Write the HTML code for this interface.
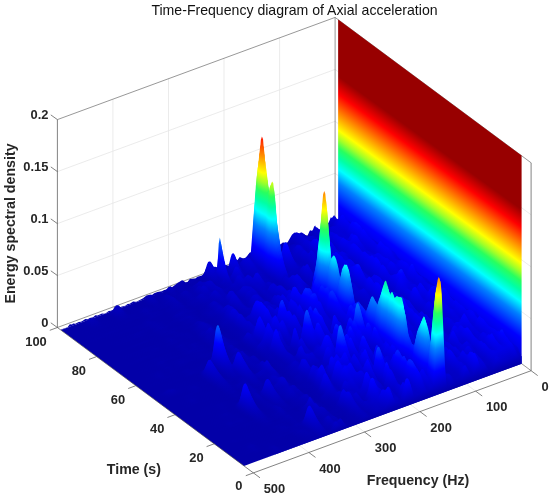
<!DOCTYPE html>
<html><head><meta charset="utf-8"><title>Time-Frequency diagram of Axial acceleration</title>
<style>html,body{margin:0;padding:0;background:#fff}body{width:550px;height:497px;overflow:hidden}svg{display:block}text{font-family:"Liberation Sans",Arial,Helvetica,sans-serif;fill:#262626}.tk{font-size:12.9px;font-weight:bold}.lb{font-size:14.2px;font-weight:bold}.ti{font-size:14.1px;fill:#111}</style></head><body>
<svg width="550" height="497" viewBox="0 0 550 497">
<defs>
<linearGradient id="j" gradientUnits="userSpaceOnUse" x1="0" y1="0" x2="0" y2="400.192">
<stop offset="0.0000" stop-color="#0300a8"/>
<stop offset="0.1154" stop-color="#0000ff"/>
<stop offset="0.2212" stop-color="#0080ff"/>
<stop offset="0.2885" stop-color="#00ffff"/>
<stop offset="0.3413" stop-color="#00ffa5"/>
<stop offset="0.3894" stop-color="#28ff5f"/>
<stop offset="0.4327" stop-color="#a0ff28"/>
<stop offset="0.4760" stop-color="#ffff00"/>
<stop offset="0.5625" stop-color="#ff8000"/>
<stop offset="0.6490" stop-color="#ff0000"/>
<stop offset="0.7356" stop-color="#980000"/>
<stop offset="1.0000" stop-color="#980000"/>
</linearGradient>
<linearGradient id="w" gradientUnits="userSpaceOnUse" x1="41" y1="0" x2="47.00" y2="199.92">
<stop offset="0.0000" stop-color="#0000cd"/>
<stop offset="0.1154" stop-color="#0000ff"/>
<stop offset="0.2212" stop-color="#0080ff"/>
<stop offset="0.2885" stop-color="#00ffff"/>
<stop offset="0.3413" stop-color="#00ffa5"/>
<stop offset="0.3894" stop-color="#28ff5f"/>
<stop offset="0.4327" stop-color="#a0ff28"/>
<stop offset="0.4760" stop-color="#ffff00"/>
<stop offset="0.5625" stop-color="#ff8000"/>
<stop offset="0.6490" stop-color="#ff0000"/>
<stop offset="0.7356" stop-color="#980000"/>
<stop offset="1.0000" stop-color="#980000"/>
</linearGradient>
</defs>
<rect width="550" height="497" fill="#fff"/>
<path d="M57.4 275.5 L335.1 173.3 L531.1 318.7 M57.4 223.6 L335.1 121.3 L531.1 266.8 M57.4 171.6 L335.1 69.4 L531.1 214.8 M279.6 37.8 L279.6 245.7 L475.6 391.1 M224.0 58.3 L224.0 266.2 L420.0 411.6 M168.5 78.7 L168.5 286.6 L364.5 432.0 M112.9 99.2 L112.9 307.1 L308.9 452.5 M491.9 133.7 L491.9 341.6 L214.2 443.8 M452.7 104.6 L452.7 312.5 L175.0 414.7 M413.5 75.6 L413.5 283.5 L135.8 385.7 M374.3 46.5 L374.3 254.4 L96.6 356.6" fill="none" stroke="#e6e6e6" stroke-width="0.8"/>
<path d="M57.4 119.6 L335.1 17.4 L531.1 162.8 M335.1 17.4 L335.1 225.3 M57.4 327.5 L335.1 225.3 L531.1 370.7" fill="none" stroke="#6b6b6b" stroke-width="0.7"/>
<path transform="matrix(-1.9600 -1.4540 0 -1.03950 531.40 370.70)" d="M5 0L98.6 0L98.6 200L5 200Z" fill="url(#w)"/>
<path d="M521.7 363.7 L338.6 227.9 L60.9 330.1 L244.0 465.9 Z" fill="#0300a8"/>
<g fill="url(#j)">
<path transform="matrix(-1.1108 0.4088 0 -0.51975 338.6 227.9)" d="M0 0v16h1l1 2l2 10l2-4l1 2l2-9l2 1l1-2l2 1l2-5l1-1h1l1-1l1 4l1 7l1-1l1-5l1-2l1 2h1l2-8h1l4 10l1 1l1-1l2 1l2 4h1l2-2l4-12h1l3 3h1l1-2h1l1 3h1l2-6l2 3h1l3-1l2-3l5 2l4-2l3 3l3 6l1-1l3-5l2 1l3 5l2-4h2l2-2l2 2l2-5l1 1l3 5l2-1l7-2l3 2l2-3h1l2 2l3-4l4 1l2-2l1 1l4 2l2-4l2 1l2 5l1 1l4-2l7-6l5 2l2-1l4 2h3l2-2l2 2l3 1l3-3l6-2l1 1l2 2l3-2l2 1l2-2l3 1h8h2l2 1l2-2h2l2 2l4-1l2 2l2-2l3 1l2-1l2 2l3-2h1l2 1l3-1l2 2l1-1l2 2l2-4h6v-1z"/>
<path transform="matrix(-1.1108 0.4088 0 -0.51975 339.8 228.8)" d="M0 0v16h1l1 2l2 9l2-1h1l2-7l2-1l1-2l2 1l2-4l1-1l2-1l1 4l1 5h1l1-4l1-1h1l1-1l2-6h1l4 9l3 2l3 5l2-2l3-9l2-5h1l3 3l2-1h1l1 3l1 1l2-5h6l2-3l5 2l4-2l1 1l2 2l3 9h1l1-2l2-7h1l4 4l2-3l2 1l2-1h2l2-4l4 5l2-2l4-1l5 6h1l1-2h1l3 4l4-10h3l3-2l4 2l2-3l2 1l3 4l7-1l3-3l2 2l2 1l4-4l4 1h3l2-1l2 2h3l3-2l6-2l3 3l3-2l2 1l2-1l15 1l2-2h1l3 1h4l2 1l2-2l3 2l2-1l2 1l3-2l3 2l3-2l2 2l1-1l2 1l2-2h6v-1z"/>
<path transform="matrix(-1.1108 0.4088 0 -0.51975 340.6 229.4)" d="M0 0v16l2 1l2 7l3 2l2-7l3-3l2 1l3-5h2l2 8h1l1-2l3-4l2-5h1l4 7l3 2l3 6h1l2-5l2-7l2-3h1l3 2l2-2l1 1l2 6l3-5l2-2h3l2-2h3l3 1l3-2l3 2l3 9l1 1l1-2l2-7l1-1l4 4l2-2l2 1l4-2l2-3l4 4l3-2h3l4 9l2 1l1-2l2 6l2 1l1-2l3-14l1-2h2l2-1l5 2l2-3l1 1l4 3h3l3 1h1l2-2h1l2 5h1h1l1-2l2-5l1-1l4 1l5-1l5 3l4-4l5-1l3 2l3-1l2 2l6-2h2l3 2h2h3l4-3l3 1l4-1l2 1l2-1l3 2l4 1l4-3l2 1l3-1l5 1l2-2l6 1v-1z"/>
<path transform="matrix(-1.1108 0.4088 0 -0.51975 341.4 230.0)" d="M0 0v15l2 1l3 7l2 1l2-6l1-1l2-2l2 1l3-4h1l1 1l2 7l1 1l2-2l3-8l1-1l2 1l3 4l3 2l3 7h1l1-1l3-12l2-2l4 1l3-1l2 4h1l3-4h4l4-3l4 2l4-1l2 1l1 2l2 6l1 1l1-1l2-7l1-1l4 3l2-1l2 1l6-5l3 4h1l2-3l2-1l2 2l4 10h2l2 11l1 3l1 1h1l1-4l3-19l1-4l4-2l4 1l4-1l4 2h3l3 1h2l1-1h1l2 4h1h1l3-6l1-1l4 1l6-1l3 4l1 1l1-1l4-5l4-1l9 2l5-2l2 2l3 5h2l2-1l3-5l2-1h10l4 4h3l5-4h10l2-1h6z"/>
<path transform="matrix(-1.1108 0.4088 0 -0.51975 342.2 230.5)" d="M0 0v15h2l1 1l2 6l1 1h1l3-7l1-1l3 1l4-4l1 1l3 7h1l1-1l2-6l1-1l1-1l7 4l1 2l3 7l1 1l1-2l3-13l1-1l5 1l3-1l3 3l3-4l4 1l4-3l4 1h4l2 1l1 1l2 6l1 1l1-1l2-6l1-1l4 3h4l5-5h1l3 4h1l3-5h1l2 3l4 10h2l2 9l1 3l1 1l1-1l1-3l3-18l1-4l4-1h4h4l10 2l4-1l2 4h1l2-2l2-4l7 1l3-1h1l3 9h1h1l3-9l1-1l4-1l10 1l4-1l2 3l3 10l1 1l1 1l1-1l1-1l3-10l2-3h7h3l4 7l2 1l2-1l3-6l2-1l17-1z"/>
<path transform="matrix(-1.1108 0.4088 0 -0.51975 342.9 231.1)" d="M0 0v17h2l1 1l2 6l1 1h1l3-8l1-1l3 1l4-3h1l3 6l1 1l1-1l3-7h2l6 3l1 2l3 7l1 1l1-2l3-13l1-1l5 1l3-2l3 2l3-2l4 2l4-4l8 1h2l1 2l2 5l1 1l1-1l2-5l1-1h1l3 3l2 1l3-2l3-4l1-1h1l3 5h1l3-5h1l2 2l4 9h2l2 8l1 3l1 1l1-1l1-3l3-16l1-4l4-1l4 1l4-1l5 2h5l4-1l2 3h1l2-2l2-3l3 1h4l3-1h1l3 7l1 1l1-1l3-7l1-1l4-1l9 1l5-1l2 3l3 8l2 2l2-2l3-8l2-3h10l4 6l2 1l2-1l3-5l2-1l17-1z"/>
<path transform="matrix(-1.1108 0.4088 0 -0.51975 343.7 231.7)" d="M0 0v18h2l1 1l2 7l1 1h1l3-8l1-2l3 2l4-4h1l3 6h1l1-1l3-5h3l5 2l1 2l3 7h1l1-2l3-12l1-1l4 1l4-2l3 1l3-1l4 2l4-4l1-1l9 2l1 1l2 5l1 1l1-1l2-5l1-1l1 1l3 5l2 1l2-2l4-7l1-1l2 3l2 5h1l3-6l1-1l2 1l4 9h2l1 2l1 4l1 3h1h1l1-3l3-15l1-3l5-1l3 1l4-1l5 2h5l4-2l2 3h1l2-1l2-3l3 2l7-2h1l2 5l1 1l1 1l1-1l4-7l4-1l9 1l5-1l2 2l3 8l2 1l2-2l3-7l2-2h9l2 1l3 4l2 1l2-1l3-4l2-1l17-1z"/>
<path transform="matrix(-1.1108 0.4088 0 -0.51975 344.5 232.3)" d="M0 0v20h2l1 1l2 8l1 2l1-1l3-10l1-1l3 1l4-4h1l3 5l1 1l1-1l3-5h3l2 2h3l2 3l2 4l1 1l1-2l3-11l1-1l3 1l5-3l3 1l3-1l4 2l4-4h7l3 1l1 1l2 5l1 1l1-1l3-5h1l1 1l2 5l2 2l2-2l4-9l1 2l2 5l1 1l1 1l2-2l2-6l1-1l2 2l4 7h2l1 2l1 4l1 2h1h1l1-3l3-13l1-2l5-1l3 1l4-1l10 1l4-2l3 2l4-3l2 3h1l8-3l2 4l2 1h1l4-6h13l5-1l2 2l3 6l2 1l2-1l4-7l2-1h9l4 4l2 1l2-1l3-3l2-1l17-1z"/>
<path transform="matrix(-1.1108 0.4088 0 -0.51975 345.3 232.9)" d="M0 0v21h2l1 2l2 8l1 1h1l3-10l1-2l3 1l4-4h1l3 5h1l1-1l2-4l2-1l5 3h3l3 5l1 1l1-1l3-10l4 1l6-4l2 1l3-1l4 1l4-3h6l1 3l1 17l3 84l1 14l1 3l1-3l1-14l3-84l1-17l1 1l3 7l1 1l2-2l3-9l1-2l3 15l1 3l1 1l1-1l1-3l3-15h1l1 1l4 6h2l1 1l1 4l1 2h1h1l1-2l3-12l1-2l2 1l3-2l4 2l4-2l10 1l3-2l3 2l3-2h1l2 3l1 1l4-4l4-1l2 3l2 1h1l4-5h13l5-1l2 2l3 5l2 1l2-1l4-7h2h9l4 4h2h2l3-4h2l17-1z"/>
<path transform="matrix(-1.1108 0.4088 0 -0.51975 346.1 233.4)" d="M0 0v23h2l1 2l2 7l1 2l1-1l3-10l1-1l3 1l3-4l1-1h1l3 5h1l3-6l1-1h1l5 5l3-1h1l2 4l1 1l1-2l3-9l4 1l5-3l6-1l4 2l4-4h6l1 5l1 20l3 101l1 16l1 4l1-4l1-16l3-101l1-20l1 1l3 9h1l2-1l3-12h1l3 25l1 5l1 1l1-1l1-6l3-25l1-2l5 7l1 10l1 3l1-3l1-7l1 2h2l1-2l3-10l3-1l2-1h1l2 2l2 1l5-3h9l3-2l3 1l3-1h1l2 4h1l4-4l4-1l3 3h1h1l4-4h8l10-1l2 1l3 4l2 1l2-1l4-5h2h9l4 3h2h2l5-3l17-1z"/>
<path transform="matrix(-1.1108 0.4088 0 -0.51975 346.9 234.0)" d="M0 0v24l2 1l1 2l2 8l1 1l1-1l3-10l1-2l2 2h1l3-5l1-1l1 1l3 4h1l1-2l2-4l1-2h1l5 6l4-1l3 4l1-2l3-8l4 1l6-4l5-1l4 3l5-4l5-1l1 7l1 24l3 117l1 19l1 4l1-4l1-19l3-117l1-24h1l2 8l1 1l1 1l2-3l3-11l1-1l3 22l1 5l1 1l1-1l1-5l3-23l1-1l2 2l2 2l1 11l1 21l1 7l1-7l1-21l1-6h2l1-1l3-9l6-1l2 4l2 1l6-6h8l3-2l3 1l3-1l3 4l1 1l4-4l4-2l4 3l5-4l8 1l10-2l2 1l3 3l2 1l2-1l4-4h2h9l6 3l7-3l17-1z"/>
<path transform="matrix(-1.1108 0.4088 0 -0.51975 347.6 234.6)" d="M0 0v26l2 1l1 2l2 9l1 1l1-1l3-12l1-1l2 1h1l3-5l1-1l1 1l3 4l2-2l2-5l1-1h1l4 5l1 1l4-2l3 4l1-1l3-8h5h2l3-3l4-1h1l3 3h1l5-5h5l1 8l1 26l3 127l1 21l1 5l1-5l1-21l3-127l1-26h1l2 8l2 1l1-1l1-2l3-12l1-1l3 20l1 4l1 1l1-1l1-5l3-20l1-1l4 4l2 61l1 11l1-11l1-36l1-21h2l1-2l3-8l3 1h2l1 1l2 5l1 1h1l3-6l3-3h4l4 1l4-3h3h2l3 4l1 1l4-4l4-2l3 2h2l3-3l8 1l11-2l2 1l3 3h2h2l4-4h2h9l6 2l7-2l17-1z"/>
<path transform="matrix(-1.1108 0.4088 0 -0.51975 348.4 235.2)" d="M0 0v28l2 1l3 13l1 1l1-1l3-14l1-2l3 1l3-5l1-1l4 4l2-2l2-4l1-1h1l4 5l1 1l4-3l3 4l1-1l3-8l6 1l4-4l4-1l1 1l3 4h1l1-1l4-5l5-1l1 9l1 28l3 136l1 22l1 5l1-5l1-22l3-136l1-28l1-1l2 8l2 1l2-3l3-11l1-2l3 17l1 4h1l1-1l1-3l3-18l1-1l4 4l2 55l1 10l1-10l1-33l1-19h2l1-2l3-6l3 1l3 1l2 4l1 1h1l3-6l3-3h4l4 2h1l3-3l5-1l3 4l1 1l4-4l5-2l2 1h2l3-2l8 2l4-2l7-1l7 3h2l4-3h2h9l6 2l7-2l17-1z"/>
<path transform="matrix(-1.1108 0.4088 0 -0.51975 349.2 235.8)" d="M0 0v28h1l1 1l3 15l1 1l1-1l3-15l1-2h3l3-5h2l3 3l2-2l2-4l2-1l4 5h1l4-2l3 4l1-1l3-7l6 1l4-4l4-2l1 1l3 5h1h1l3-6l1-1l5-1l1 10l1 30l3 146l1 24l1 5l1-5l1-24l3-146l1-30l1-3l2 8l2 1l2-3l4-12l3 14l1 3l1 1l1-1l1-3l3-16h1l4 3l2 49l1 9l1-9l1-29l1-18h2l1-1l3-5l3 3h3l2 3h1h1l2-4l4-3l4-1l3 4h1h1l3-5l4-1h1l3 5h1l4-4l5-2l4 1l3-2l4 1l4 1l4-2h8l6 2l8-3h9l6 1l7-1l17-1z"/>
<path transform="matrix(-1.1108 0.4088 0 -0.51975 350.0 236.4)" d="M0 0v28l2 1l1 3l2 10l1 1l1-1l3-13l1-2l3-1l3-4h2l3 3l2-2l2-4l2-1l5 5l4-2l3 4h1l3-7l1-1l5 1l4-4l4-2l1 1l3 5h1h1l3-6l1-1l5-1l1 11l1 32l3 156l1 26l1 5l1-5l1-26l3-156l1-32l1-4l2 7l1 1l1 1l2-4l4-11l1 2l2 10l1 2l1 1l1-1l1-3l3-13l5 3l2 42l1 8l1-8l1-26l1-15h2l4-5l4 6l4 1l2-2l2-3l5-3l3-1l3 3h1h1l4-5h4l3 5l1 1l1-1l2-3l2-2l4-1l4 1l3-2l4 1l4 2l5-3h8l5 1l8-2h9l6 1l7-1l17-1z"/>
<path transform="matrix(-1.1108 0.4088 0 -0.51975 350.8 236.9)" d="M0 0v28h2l1 3l2 9l1 1h1l3-12l1-2l3-1l3-4h1l3 3h1l1-1l3-5l2-1l5 5l4-2l3 5l1 1l3-7l1-1h2h3h1l3-5h1l4-1l3 5h1h1l3-6l1-1l5-1l1 13l1 34l3 166l1 27l1 6l1-6l1-27l3-166l1-34l1-6l2 6l1 1l1 1l1-2l5-12l1 1l2 8l1 3h1l1-1l1-2l2-8l1-2h1l4 1l2 36l1 7l1-7l1-22l1-12l3-2l2-3h1l3 6l1 2h1l3-1l3-3l3-1l4-5h2l4 3h1l4-5h4l3 6l1 1l1-1l3-5l5-2h10l5 2l5-3h8l5 1l8-2l15 1l7-1l17-1z"/>
<path transform="matrix(-1.1108 0.4088 0 -0.51975 351.6 237.5)" d="M0 0v28h2l1 3l2 8l1 2l1-1l3-11l1-2l3-1l3-4l1 1l3 3h1l4-7l2-1l5 5l4-2l3 6h1l3-7l1-1l5 3l1-1l3-6l3-2h2l3 4l1 1l1-1l3-5l1-1l5-1l1 12l1 32l3 156l1 26l1 5l1-5l1-26l3-156l1-32l1-4l2 4l2 2l1-1l5-11h1l2 6l1 2h1h1l3-7l3-2h3l2 31l1 5l1-6l1-18l1-10l3-3l2-2h1l1 2l2 7l1 1h1l2-1l3-4l1-1l2 3h1l1-2l2-5l2-2l5 2h1l4-4h4l3 6h1h1l3-4l6-3h10l4 2l5-3h13l7-1h16h6l18-1z"/>
<path transform="matrix(-1.1108 0.4088 0 -0.51975 352.3 238.1)" d="M0 0v28l2 1l1 2l2 8l1 1l1-1l3-11l1-1h2l4-4l4 5h1l4-9l1-1l2 1l4 4l4-2l3 6h1l3-7l1-1l3 6l2 1l1-2l3-8l3-3h2l3 4h1h1l3-5l1-1l5-1l1 10l1 31l3 147l1 24l1 5l1-5l1-24l3-147l1-31l1-3l2 4l2 2l7-11l2 5l1 1h1h1l1-2l1 1h2l1-1l2-5l2-1l2 26l1 5l1-5l1-16l1-8l5-4h1l1 2l2 7l1 1l1 1l2-2l3-5h1l2 2h1l1-1l2-5l2-2l5 2l5-4h4l3 5l1 1l1-1l3-4l5-2h11l4 2l4-3h2h13l6-1l40-1z"/>
<path transform="matrix(-1.1108 0.4088 0 -0.51975 353.1 238.7)" d="M0 0v28l2 1l1 2l2 7l1 2l1-1l3-11l1-2l2 1l4-3l3 5l1 1l1-1l3-7l2-3l2 1l4 3l4-2l3 6h1l3-8h1l3 6l2 1l1-1l3-9l4-4l1 1l3 4h1h1l3-5l1-1l5-1l1 9l1 29l3 139l1 23l1 5l1-5l1-23l3-139l1-29l1-3l2 4l2 2l7-10l3 4l1 1l3 6h1h1l1-2l3-11h1l1 8l1 14l1 4l1-5l1-13l1-6l2-2l3-2h1l1 3l2 7l1 2h1l2-2l2-4l1-1l3 2l1-1l4-8h2l4 2l1-1l3-3l2-1l3 1l3 5h1l4-4l3-1l6-1l7-1l4 2l4-2h2h13l6-1h28l12-1z"/>
<path transform="matrix(-1.1108 0.4088 0 -0.51975 353.9 239.3)" d="M0 0v28l2 1l1 2l2 7l1 1l1-1l3-11l1-1h2l3-2h1l4 7l1-1l4-9l2-1l5 3l4-2l3 6h1l3-8l1-1l4 8l1 1l1-1l3-9l4-4h1l3 4h1h1l3-5l6-2l1 8l1 27l3 132l1 22l1 4l1-4l1-22l3-132l1-27l1-3l3 5l1 1l7-9h1l3 5l2 11l1 2l1 1l1-1l1-3l3-16l1-1l1 6l1 12l1 3l1-4l1-11l1-3l4-5h2l3 9l1 2h1l2-2l2-4l4 3l5-10h2l3 1h2l3-3l2-1l3 1l3 4l1 1l4-4l3-1l6-1l7-1l4 2l6-2h14l5-1h22h6l12-1z"/>
<path transform="matrix(-1.1108 0.4088 0 -0.51975 354.7 239.8)" d="M0 0v28l2 1l1 1l2 7l1 2l1-1l2-8l1-3l1-1h2l4-1l4 6h1l4-10l2-1l5 4l4-2l3 6l1-1l3-9h1l1 1l3 8l1 1l1-1l4-11l3-3h1l3 4h1h1l2-4h1l6-2l1 6l1 26l3 124l1 21l1 4l1-4l1-21l3-124l1-26l1-2l3 4h1l7-8h1l2 3l3 12l1 3h1h1l1-3l3-15l1-1l1 5l1 9l1 3l1-3l1-9h1l3-6l2-2l1 1l1 2l2 6l1 2l2-1l3-3l2 4l1 1h1l3-9l2-3l2-1l3 1h2l3-3l2-1l3 1l3 4h1l3-2l4-3l6-1l8 1l3 1l4-2l10-1l5 1l28-1h6l12-1z"/>
<path transform="matrix(-1.1108 0.4088 0 -0.51975 355.5 240.4)" d="M0 0v28h2l1 2l2 7l1 1l1-1l2-8l1-3l1-1l2 1l4-1l4 7h1l1-2l3-8l2-1l5 3l3-2h1l3 7l1-1l3-10h1l1 1l3 7l1 1h1l4-10l3-4h1l3 5h1l3-3l2-1l2-2l3-1l1 5l1 24l3 117l1 20l1 4l1-4l1-20l3-117l1-24l1-2l3 4h1l8-8l2 2l3 13l1 2h1h1l1-3l3-13l1-1l1 3l1 8l1 2l1-2l1-7h1l3-5l2-2l1 1l1 2l2 6l1 1h2l2-4h1l2 4l2 1l3-8l2-3l2-1l5 1l3-3l3-1l2 1l3 4h1l7-5l6-1l4 1h4h3l4-1l7-1h36h6l12-1z"/>
<path transform="matrix(-1.1108 0.4088 0 -0.51975 356.3 241.0)" d="M0 0v28h2l1 2l2 7l1 1l1-1l2-8l1-3l1-1l3 1h3l4 6h1l1-3l3-8l2-1l5 4l3-1h1l2 6l1 2l1-1l3-12l1-1l1 1l3 7l1 2l1-1l4-9l3-4h1l3 6h1h4l4-7h2l1 3l1 23l3 110l1 18l1 4l1-4l1-18l3-110l1-23l1-1l3 3l1 1l8-8l2 2l3 11l1 2l1 1l1-1l1-2l3-13h1l1 2l1 7l1 2l1-3l1-5l4-5h2h1l1 2l2 5l1 1l2-1l2-3h1l2 4h2l3-6l2-2l3-1h4l3-3l3-1l2 1l3 3l1 1l7-5l6-1l4 1h4h3l4-1l8-1h40l13-1z"/>
<path transform="matrix(-1.1108 0.4088 0 -0.51975 357.1 241.6)" d="M0 0v28h2l1 2l2 7l1 1l1-1l3-11l1-1l3 1l3-1l4 7l1-1l1-2l3-8l2-1l5 4h3l1 1l2 8l1 1l1-1l3-15l1-1l1 1l3 6l1 2l1-1l3-8l4-4l1 1l3 7h1l1 3l1 2h1h1l1-2l3-11h2l1 1l1 21l3 103l1 17l1 3l1-3l1-17l3-103l1-21h1l4 3l8-7l2 1l3 11l1 1l1 1l1-1l1-2l3-10l1-1l1 1l1 5l1 2l1-2l1-3l5-5h2l3 7l1 1l5-5l2 4h2l2-3l2-2l4-3h4l6-4l2 1l3 3h2l3-1l3-2l6-2l11 1l4-1l8-1h40l13-1z"/>
<path transform="matrix(-1.1108 0.4088 0 -0.51975 357.8 242.2)" d="M0 0v28h2l1 2l2 9l1 2l1-2l3-12l1-2l3 1l3-1l4 7l1-1l1-2l3-9l2-1l5 5h3l1 2l2 9l1 2l1-1l3-17l1-2l1 1l3 6l1 1l1-1l3-7l4-4h1l2 5l3 17l1 2l1 1l1-1l1-3l3-18l3-2l1 20l3 99l1 16l1 3l1-3l1-16l3-99l1-20h1l4 3l8-8l2 2l3 9l1 2h1h1l1-2l2-6l2-4h1l1 5l1 1l2-4l5-4l2 1l3 6l1 1l5-5l2 3h2l3-3l3-1l3-3l9-4h2l3 3l2 1l3-1l3-2l6-2l11 1l12-2l29 1l6-1h5l13-1z"/>
<path transform="matrix(-1.1108 0.4088 0 -0.51975 358.6 242.7)" d="M0 0v28h2l1 3l2 11l1 2l1-1l3-15l1-3l3 1l3-1l3 6l1 1h1l1-2l3-10l1-1h1l5 5h3l1 2l2 10l1 2l1-1l3-18l1-2l1 1l4 6h1l3-8l4-3h1l1 2l1 5l3 27l1 5l1 1l1-1l1-5l3-28l1-3l2-1l1 22l3 106l1 18l1 3l1-3l1-18l3-106l1-22l1-1l3 3h1l6-6l2-2l1 1l2 3l2 6l1 1l1 1l1-1l1-1l2-1l2-6l1-2l1 3l1 1l2-2l5-4l2 2l3 6h1l4-5h1l3 2h1l2-2l3 2h1l4-6l9-4l4 3h2l6-2l6-2l11 1l12-2l28 1l7-1l4 1l5-1l9-1z"/>
<path transform="matrix(-1.1108 0.4088 0 -0.51975 359.4 243.3)" d="M0 0v28h2l1 4l2 13l1 2l1-1l1-4l2-13l1-3l1-1l2 1l3-1l1 1l3 7h1l1-2l3-11l1-1l2 1l4 5l3-1l1 2l2 11l1 3l1-1l3-20l1-2h1l1 2l3 6l1-1l1-2l2-6l1-2l3-1h1l1 2l1 5l3 25l1 4h1l1-1l1-4l3-25l1-3h2l1 23l3 113l1 18l1 4l1-4l1-18l3-113l1-23l1-2l4 2l6-6l2-1l3 3l2 6l1 1h2l1 4l1 1h1l3-12l2 1l6-5l2 1l4 7h1l3-4l2-1l2 1h2l2-1l3 2l1-1l4-5l9-4l4 3h2l12-4l18 1l5-2h18l21 1l5-1l9-1z"/>
<path transform="matrix(-1.1108 0.4088 0 -0.51975 360.2 243.9)" d="M0 0v28l2 1l1 3l2 13l1 2h1l3-18l1-3l1-1l2 1l3-1l1 1l3 9l1 1l1-2l3-13l1-2h1l5 7l3-2l1 2l2 12l1 3l1-1l3-21l1-2h1l1 2l3 8h1l1-2l2-9l1-2l3-1l2 2l1 4l3 22l1 4l1 1l1-1l1-4l3-23l1-3h1l1 1l1 24l3 116l1 19l1 4l1-4l1-19l3-116l1-24l1-2l4 2l8-7l1 1l4 6l2 2l2 6l1 1l1-1l3-11h3l2-2l3-2h2l4 7h1l2-3l2-1h3l4-2l3 2h1l4-5l9-4l4 3h2l12-4h14l4 1l5-2h39l14-1z"/>
<path transform="matrix(-1.1108 0.4088 0 -0.51975 361.0 244.5)" d="M0 0v28l2 1l1 4l2 12l1 3l1-1l3-18l1-3l1-1l2 1l3-1l1 1l3 8l1 1l1-2l3-13l1-1h1l5 8l3-2l1 2l2 13l1 3l1-1l3-23l1-2l2 2l3 7h1l1-2l2-9l1-1l3-1l2 2l1 3l3 20l1 4h1l1-1l1-3l3-21l1-3l1-1l1 3l1 25l3 119l1 20l1 4l1-4l1-20l3-119l1-25l1-3l4 2l8-6l1 1l3 7h3l2 6l1 1h1l2-7l1-2h2l3-4h1l4-1h1l3 6h1l2-3l4 1l2-2l3-2l3 2l1-1l4-4l8-4h2l3 2h2l12-3h14l4 2l5-2l53-2z"/>
<path transform="matrix(-1.1108 0.4088 0 -0.51975 361.8 245.1)" d="M0 0v28h1l1 1l1 4l2 13l1 3l1-1l3-19l1-3l1-1l2 1l3-1l1 1l3 8h1l1-2l3-12l1-1l2 1l4 8l3-2l1 1l2 12l1 3l1-1l3-22l1-2l2 2l3 6h1l1-3l2-7l1-1l3-1l2 2l1 2l3 18l1 3l1 1l1-1l1-3l3-19l1-3l1-1l1 4l1 23l3 112l1 18l1 4l1-4l1-18l3-112l1-23l1-3l3 2h2l3-2l3-3l1-1l1 2l3 10h1l2-3l2 4l1 1h1l2-7l1-1h2l4-5h5l3 4l1 1l2-2l3 3h1l2-4l2-2l5 1l4-5l8-3h2l4 2l13-3h14l4 2l5-2l53-2z"/>
<path transform="matrix(-1.1108 0.4088 0 -0.51975 362.5 245.7)" d="M0 0v28h1l1 2l3 18l1 2l1-1l3-20l1-3l1-1l2 1h3h1l3 8h1l1-2l3-12l1-1l2 2l4 10l1-1l2-3h1l2 11l1 3l1-1l3-20l1-2l5 7l1-1l1-2l2-7l1-2h3h1l2 4l3 15l1 3h1h1l1-3l3-17l1-3h1l1 2l1 21l3 101l1 17l1 3l1-3l1-17l3-101l1-21l1-2l4 3h3l2-2l2-3h1l1 2l2 11l1 2h1l3-5l2 2l1-1l2-6l1-1h2l4-4l5-1l3 5l3-1l2 5l1 1l1-1l2-5l2-3h1h3l5-4l8-3h2l4 2l13-3h14l4 2l5-2l53-2z"/>
<path transform="matrix(-1.1108 0.4088 0 -0.51975 363.3 246.2)" d="M0 0v28h1l1 2l3 18l1 2l1-1l3-20l1-3l1-1l2 2l3-1l1 1l3 7l1 1l1-2l3-13l1-1l2 3l4 12l1-1l2-5l1-1l2 10l1 3l1-1l3-19h1l3 5h1l2-2l3-9l2-1h3l2 3l3 14l1 2h1h1l1-3l3-14l1-3l1-1l1 1l1 18l3 87l1 15l1 3l1-3l1-15l3-87l1-18h2l3 2l3 1l3-4h2l1 2l2 10l1 2h1l1-1l2-5l2 2l1-1l2-6l1-1h2l3-3l5-2l2 2l2 3h3l2 4l2 2l5-9h3l5-4l7-3h3l4 2h4l9-3h8l10 2l4-2l11-1l43-1z"/>
<path transform="matrix(-1.1108 0.4088 0 -0.51975 364.1 246.8)" d="M0 0v28h1l1 1l1 5l2 13l1 2l1-1l3-19l1-3h1l2 1h3l1 1l3 8h1l1-2l3-13l1-2l1 1l4 13l1 1l1-1l2-5l1-1l2 9l1 3l1-1l2-13l1-4l1 3l1 4l1 2l1 1l6-17l2-1h3l2 3l3 11l1 2l1 1l1-1l1-2l3-13l1-2l2-1l1 15l3 77l1 12l1 3l1-3l1-12l3-77l1-14h2l2 1l3 1l3-1l3 1l1 1l2 9l1 1h1l1-2l2-5l2 2l1-1l2-5l1-1l2-1l3-2l5-2l2 1l2 4l3-1l2 5l2 1l2-5l3-4h3l5-4l7-2h3l3 2h5l10-3h7l9 2l15-3l44-1z"/>
<path transform="matrix(-1.1108 0.4088 0 -0.51975 364.9 247.4)" d="M0 0v28l2 1l1 4l2 14l1 2l1-1l3-19l1-3l3 3l3-2l1 1l3 7l1 1l1-2l3-13l1-1l1 1l4 14l1 1l3-8l1-1l3 11l1-1l2-13l1-3l1 2l1 4l1 2l1 1l6-16l4-1h1l2 3l3 9l1 2h1h1l1-2l3-11l1-2h2l1 12l3 69l1 12l1 2l1-2l1-12l3-69l1-13l2 1l5 2l2-1l3 5l2-1l2 6l1 2l1-1l1-2l2-5l2 1h1l2-5l1-1h2l3-2l5-2l2 1l2 3h3l2 4l2 1l2-5l3-3h3l5-4l6-2l10 2l3 1l9-4h7l9 2l15-3l44-1z"/>
<path transform="matrix(-1.1108 0.4088 0 -0.51975 365.7 248.0)" d="M0 0v28l2 1l1 3l2 15l1 2l1-1l3-19l1-2l2 4h1h1l2-4h1l3 7l1 1l1-1l1-3l2-9l1-2l1 2l2 10l2 6l1-1l3-9l1-1l3 10l1-1l2-12l1-3l3 7h1l3-6l3-8l4-1h1l2 2l1 2l2 6l1 2h1h1l1-2l3-10l1-1h2l1 10l3 62l1 11l1 2l1-2l1-11l3-62l1-11h2l3 2h3l1 2l2 7l1 2h2l1-2l2 2l1-1l3-7l2 1h1l2-5h1h2l8-4l2 1l2 3h3l2 3l1 1h1l2-4l3-3l3-1l4-3l7-2l7 2h3l2 1h3h3l3-3l2-1h6l9 2l5-2l8-1l46-1z"/>
<path transform="matrix(-1.1108 0.4088 0 -0.51975 366.5 248.6)" d="M0 0v28h2l1 4l2 14l1 3l1-1l3-19l1-2l2 8l1 1l1-1l2-7l1-1l4 9l1-1l1-3l2-10l1-1l1 1l2 9l2 7h1l4-11l3 9l1-1l2-11l1-4l1 2l2 5h1l3-5l3-8l1-1h4l3 3l2 6l2 1l2-2l3-8l3-1l1 7l3 56l1 9l1 2l1-2l1-9l3-56l1-8h2l3 2h3l3 15l1 3h1h1l1-3l1-5l2-1l2-6l1-1l2 1h1l2-4l1-1h3l7-3l2 1l2 3h3l2 3h1h1l2-4l2-2l4-1l5-3l6-2l6 2h4l4 1l4-1l4-3h8l7 2l6-2l7-1l47-1z"/>
<path transform="matrix(-1.1108 0.4088 0 -0.51975 367.2 249.1)" d="M0 0v27l2 1l1 3l2 14l1 2l1-1l3-17h1l2 11l1 1l1-1l2-11l1-2l1 1l3 10l1-1l1-2l2-11l1-3l1 1l4 16l1 1l2-5l2-6l1 1l1 4l1 2l1-1l2-11l1-3l1 1l1 3l2 3l1-1l2-3l3-9l1-1h4l3 3l2 4l2 1l2-1l3-7l3-1l1 5l3 49l1 8l1 2l1-2l1-8l3-49l1-6h2l3 2h3l3 14l1 2l1 1l1-1l1-2l1-5l2-1l2-6l1-1l2 2l1-1l2-3h4l7-4h1l3 4l3-1l3 3h1l2-4l1-1l5-1l4-3l7-2l6 2l4-1l4 1h4l4-3h8l8 2l6-2h12l13-1l28-1z"/>
<path transform="matrix(-1.1108 0.4088 0 -0.51975 368.0 249.7)" d="M0 0v27l2 1l1 2l2 13l1 3l1-1l3-17h1l2 11l1 2l1-1l2-11l1-2l1 2l3 12h1l1-3l2-13l1-4l1 1l4 15l1 1l2-5l2-6l1 1l2 6l1-1l3-13l1 1l3 5h1l2-3l3-8l1-1l4-1l3 3l2 3l2 1l2-2l2-4l4-1l1 2l3 43l1 7l1 2l1-2l1-7l3-43l1-4l8 2l3 12l1 3h1l1-1l1-2l1-4l2-1l2-6l1-1l2 2h1l2-2h4l6-5l2 1l3 4l3-2l3 2h1l2-4h1h5l4-4l7-2l13 2l5-1l4-2h7l9 2l6-2h12l5-1h9l27-1z"/>
<path transform="matrix(-1.1108 0.4088 0 -0.51975 368.8 250.3)" d="M0 0v27l2 1l1 2l2 13l1 2l1-1l3-16h1l2 11l1 2l1-1l2-9l1-2l1 1l3 10h1l1-3l2-12l1-4h1l4 14l1 1l4-10l1 2l2 6l1-1l3-12h1l3 5h1l1-1l1-1l3-9l1-1l4-1l5 5l2 1l2-2l1-1l5-3h1l3 40l1 6l1 1l1-1l1-6l3-40l1-2l8 2l3 11l1 2h1h1l1-2l1-4h1l1-1l2-5l1-1l2 2l1 1l2-1l3 1h1l4-6l2-2l1 1l3 5l1 1l3-4l3 1h1l2-3h1l4 2l2-2l3-4l7-2l12 2l6-1l3-1l8-1l9 2l6-3l12 2l5-2h8l28-1z"/>
<path transform="matrix(-1.1108 0.4088 0 -0.51975 369.6 250.9)" d="M0 0v27l2 1l1 2l2 13l1 2l1-1l3-16h1l2 11l1 3h1l2-9l1-2l1 1l3 8h1l1-4l2-12l1-3h1l4 13h1l4-8l1 1l2 7h1l3-12l1-1l4 5h1l1-2l3-9l1-1l4-1l3 3l4 1l3-2l1 1l2-1l3-3l3 35l1 6l1 1l1-1l1-6l3-35l1-2h2l4 3h2l1 2l2 7l1 2h1h1l1-2l1-4l1 1l1-1l2-5h1l3 4l5 2l1-1l3-7l2-3l1 1l1 1l2 7l1 2h1l1-2l2-6h1l2 1l1-1l2-2h1l3 5h1l2-2l3-6l8-3l11 2l9-2l8-1l9 2l6-3l12 1l14-1l27-1z"/>
<path transform="matrix(-1.1108 0.4088 0 -0.51975 370.4 251.5)" d="M0 0v27l2 1l1 3l2 13l1 4l1-1l3-17l1-1l2 11l1 3l1 1l3-10h1l3 6l1-1l1-3l2-12l1-3h1l4 11l1 1l4-8l1 3l2 7h1l3-11l1-2l1 1l3 3l1-1l1-1l3-9l1-1l4-1l3 4l4-1l3-2h2l4-2l3 29l1 5l1 1l1-1l1-5l3-30l1-1h2l5 4h2l2 7l1 1l1 1l1-1l1-1l1-4l1 1l3-5h1l4 8l3 2h1l1-2l3-10l2-3l1 1l3 13l1 1h1l1-2l2-8l1-2h3l2-2h1l3 5h2l4-8l8-3l11 2l6-1l3-1l8-1l9 2l7-3l11 1l14-1l27-1z"/>
<path transform="matrix(-1.1108 0.4088 0 -0.51975 371.2 252.1)" d="M0 0v27l2 1l1 2l2 13l1 3l1-1l3-16h1l2 11l1 4l1 1l3-8l1-1l3 3l1-1l1-3l2-11l1-3h1l4 10l1 1l3-6l1-1l3 12l1 1l1-2l2-10l1-2l2-1l2 2h1l1-1l3-9l1-1h4l3 4h1l6-4l6-3l3 25l1 5l1 1l1-1l1-5l3-26h1l3 1l4 4l2-1l2 6l1 1h1h1l2-4l1 1l3-6l1 1l2 6l1 1l2 2h2h1l1-2l3-10l2-2l1 2l2 11l1 3l2 1l1-1l1-4l2-9l3-1l2-2l1 1l3 5h2l4-7l8-4h3l8 3l6-1l4-3h8l8 2l7-3l10 1l42-2z"/>
<path transform="matrix(-1.1108 0.4088 0 -0.51975 371.9 252.6)" d="M0 0v27l2 1l1 2l2 12l1 2l1-1l3-14h1l2 12l1 3l1 1l3-8l1-1l3 2l1-1l1-3l2-11l1-3l1 1l4 9l1 1l3-6h1l3 11l1 1l1-3l2-9l1-2l2-1l2 2l1 1l1-1l3-8l4-2h1l3 6h1l1-1l2-4l4-3l5-1l1 5l2 17l1 4l1 1l1-1l1-4l3-23h1h2l2 2l3 4h3l1 2l2 2l2-2h2l3-6l1 1l2 7l2 2l4-1l1-2l3-9l2-2l1 2l2 11l1 3l2 1l1-1l1-3l2-9l1-1l4-3l1 1l3 5l2 1l1-1l3-7l8-4h3l7 4l3-2l4-1l4-2h8l8 2l7-3l52-1z"/>
<path transform="matrix(-1.1108 0.4088 0 -0.51975 372.7 253.2)" d="M0 0v28h2l1 2l2 11l1 2l1-1l3-14l1 1l2 10l1 4h1l3-8h1l3 2l1-1l3-13l1-2h1l4 9h1l3-5l1-1l3 11h1l1-2l2-8l2-3h1l3 3l1-1l3-8l4-2l1 1l3 8h1h1l3-9l4-3h4l1 4l2 15l1 3l1 1l1-1l1-3l2-15l1-5h1h2l2 2l3 6l1 1l1-1l1-3l2 3h2l1-1h2l3-6l1 1l2 8l2 2l4-2l1-2l3-9l2-1l1 2l3 13l2 1l1-1l1-2l2-9l1-2l4-2l4 6h2l4-7l9-4l6 1l3 2l3-2l8-2h8l8 1l7-2l52-1z"/>
<path transform="matrix(-1.1108 0.4088 0 -0.51975 373.5 253.8)" d="M0 0v28h2l1 2l2 10l1 2l1-2l3-12h1l2 10l1 2l1 1l3-8h1l3 4l1-1l3-13l1-2l1 1l4 8h1l3-6h1l3 10h1l3-10l1-2h2l3 4h1l3-9l3-3h1l1 1l3 11l1 1l1-1l3-12l5-4l3 1l1 2l2 13l1 3l1 1l1-1l1-3l2-13l1-3h1h2l2 2l3 6h1l1-1l1-3l2 3h2l1-1l2 1l3-6l1 1l2 7l1 2h1l4-3l4-9l2-1l1 1l3 13l2 2l1-1l1-3l2-8l1-2l4-2l4 5h2l4-6l4-1l5-3h2l7 3l3-2l8-2h8l8 1l7-2l52-1z"/>
<path transform="matrix(-1.1108 0.4088 0 -0.51975 374.3 254.4)" d="M0 0v28h2l1 2l2 9l1 2l1-2l3-11h1l2 8l1 2h1l3-7l1 1l2 4l1 1l1-2l3-11l1-1h1l2 5l2 2h1l3-6h1l3 9h1l3-10l1-2l2 1l3 6h1l3-10l2-3l2-1l1 1l3 11l1 1l1-1l3-12l1-1l4-3l5 2l1 1l2 7h1l1-2l2-6l1-2h3l2 2l3 6h1l1-1l1-3l2 2h2l1-1l2 1l2-4l1-1l1 2l2 7l1 1l5-3l3-8l1-1l2-1l1 1l3 12l1 2l1 1l1-1l1-3l2-8l1-2l3-2h1l4 5h2l4-5l3-1l4-3l2-1h2l7 3l4-2l7-2h8l8 1l7-2l52-1z"/>
<path transform="matrix(-1.1108 0.4088 0 -0.51975 375.1 255.0)" d="M0 0v28l2 1l1 2l2 8l1 1l1-1l2-9l1-2h1l2 7l1 1h1l2-5l1-1l1 1l2 5l1 1l1-1l3-11l1-1l1 1l2 4l2 2l4-6h1l3 8h1l3-11l1-1h1l1 2l3 8l1-1l3-12l2-3l2-1l1 1l3 12l1 1l1-1l3-13l1-2l4-2h2l3 2l1 2l2 9h1l1-2l2-9l1-2h1h2l2 2l3 6h1l1-1l1-3l3 1l2-1l1 1h1l2-4h1l3 9l1 1l5-3l3-8l1-1l2-1l1 1l1 3l2 9l1 2h1h1l1-2l3-9l3-4h1l1 1l3 5h2l4-6l3-1l4-3l3-1l8 2l4-1l7-2h8l8 1l7-2l52-1z"/>
<path transform="matrix(-1.1108 0.4088 0 -0.51975 375.9 255.5)" d="M0 0v28l2 1l1 2l2 8l1 1l1-2l2-8l1-2h1l2 5l1 1h1l2-4l1-1l3 9l1 1l1-2l3-11l1-1l4 7h1l4-5h1l2 6l1 1l1-1l3-11l1-1l1 1l3 8l1 2l1-2l3-13l2-2l2-1l1 2l3 13l1 1l1-1l3-14l1-3l4-2h2l3 2l1 3l2 7l1 1l1-3l2-8l1-2h1h2l2 2l3 6h1h1l2-5l4 1l1 1h1l2-4l1-1l3 9l1 2h3h2l1-2l2-8l1-2h2h1l1 3l2 8l1 3l1 1l2-1l1-2l3-10l2-3h1l4 5l2 1l4-6l4-1l3-3l3-1l8 2l4-1l7-2l16 1l7-2l52-1z"/>
<path transform="matrix(-1.1108 0.4088 0 -0.51975 376.7 256.1)" d="M0 0v28l2 1l1 2l2 8h1l1-1l2-9l1-2h1l2 5h1h1l2-3h1l3 11l1 1l1-2l3-13h1l4 7h1l2-2h2l1 1l2 5h1l1-2l2-11l1-3h1l1 2l3 9l1 1l1-2l3-14l3-2h1l1 2l2 12l1 4l1 1l1-1l3-18l1-3l4-2h2l3 3l1 2l2 7h1l1-2l2-8l1-2h1h2l2 2l3 7h1h1l2-5l3-1l2 2h1l2-4l1-1l3 9l2 1l4-1l3-8l1-2h2h1l1 3l2 7l1 3l1 1l2-1l4-12l2-2h2l3 5l2 1l1-1l3-5l4-1l3-3l3-1l8 2l4-2l7-1l16 1l7-2l52-1z"/>
<path transform="matrix(-1.1108 0.4088 0 -0.51975 377.4 256.7)" d="M0 0v28l2 1l3 9l1 1l1-2l2-8l1-2l1-1l2 4l1 1l3-2l1 1l3 12l1 1l1-2l3-14l1-1l4 8h1l2-3h2l1 1l2 5h1l1-3l2-10l1-3l1-1l1 2l3 9l1 1l1-3l2-10l1-3l3-1l1-1l1 2l3 15l1 1l1-1l3-16l1-3l2-2h3l4 4l3 9l1-1l1-2l2-8l1-1l1-1h2l2 2l3 8l2 1l4-8h1l2 3h1l2-5l1-1l1 2l2 6l1 1l5-1l3-7l1-2h2h1l1 2l2 7l2 4h1l1-1l4-11l2-3l2 1l4 7h1l2-2l3-5l9-5l8 2l4-2l11-1l7 1l12-2l13 1l39-2z"/>
<path transform="matrix(-1.1108 0.4088 0 -0.51975 378.2 257.3)" d="M0 0v28l2 1l1 2l2 6l1 1l1-2l2-8l1-2h1l2 3l1 1l3-2l1 2l3 12l1 2l1-3l3-15l1-1l4 8h1l4-3l1 1l2 6h1l1-2l2-11l1-4h1l1 2l2 6l1 2l1 1l1-3l2-10l1-2l4-2l1 2l3 13l1 1l1-1l1-4l2-10l1-3l2-2h2l2 2l6 12l1-1l1-3l2-8l1-1l3-1l2 2l1 2l2 7l2 3l1-1l4-8h3l2-5l1-1l1 2l2 6l2 1l4-1l4-8h3l1 2l3 9l1 1h1l1-2l3-8l2-3l2-1l4 6l2 2l2-3l3-5l8-4h2l7 2l4-2l11-1l7 1l12-2l13 1l39-2z"/>
<path transform="matrix(-1.1108 0.4088 0 -0.51975 379.0 257.9)" d="M0 0v28l2 1l1 1l2 7l1 1l1-2l2-8l1-2h1l2 2l1 1l3-1l1 1l3 14l1 1l1-3l3-16l1-2l1 1l3 7l1 1l4-2l1 2l2 7l1 1l1-3l2-13l1-4h1l1 1l2 6l1 2h1l1-2l2-9l1-3l4-1l1 2l3 12l1 1l1-2l1-3l2-10l1-2l2-2l3 1l4 11l2 4h1l1-2l3-12l1-1l3-1l2 2l4 12l1 2h1l2-2l2-7l1-2h2l2-5l1-1l1 2l2 5l1 1h5l4-7l2-1h1l1 1l3 9l1 1h1l1-2l3-8l2-2h2l4 5l2 1l5-7l8-4h2l7 3l4-3l11-1h3l3 2l13-3l52-1z"/>
<path transform="matrix(-1.1108 0.4088 0 -0.51975 379.8 258.5)" d="M0 0v28h2l1 2l2 7l1 1l1-2l2-8l1-3h1l3 3h3l1 1l3 13l1 1l1-2l3-17l1-2h1l4 9h4l1 3l2 9l1 1l1-3l2-16l1-5l1-1l1 2l2 6l1 1l1 1l1-3l2-8l1-3l4-1l1 1l3 11l1 1l1-1l3-12l1-2l2-2h2l1 2l1 3l2 11l1 3l2 1l1-1l1-4l3-13l1-1l1-1h2l2 2l4 11l1 2h1l2-2l2-7l1-1l2-1l2-4l1-1l1 1l2 5l1 1l5 1l1-1l3-6l2-2l1 1l1 1l3 7l1 2h1l1-2l2-5l2-4h2l4 7h2h1l5-9l7-3l4 1l3 1l3 2h1l3-3l10-2h4l3 1l3-1l10-1l52-1z"/>
<path transform="matrix(-1.1108 0.4088 0 -0.51975 380.6 259.0)" d="M0 0v28h2l1 1l2 7l1 1l1-2l2-8l1-2h1l3 3h3l1 1l3 13l1 1l1-3l3-17l1-2h1l2 6l2 4h4l1 3l2 9h1l1-3l2-15l1-5l1-1l1 2l2 5l1 2h1l1-2l2-9l1-2l4-1l1 1l3 9l1 1l1-1l3-10l1-3l2-1h2l1 2l1 3l2 11l1 2l2 2l1-2l4-16l1-2h1h2l2 2l4 11l1 2h1l2-3l2-7l1-1h2l2-4l1-1l1 1l3 6l5 3l1-1l3-7l2-3l2 1l4 9h1l1-2l3-7l1-1h1l1 1l2 7l2 3h1l2-3l4-9l2-1l6-3h3l3 2l4 4h1l3-5l6-2h7l4 1l3-1l11-1l51-1z"/>
<path transform="matrix(-1.1108 0.4088 0 -0.51975 381.4 259.6)" d="M0 0v28h2l1 1l2 6l1 1l1-1l2-8l1-2h1l3 3h3l1 2l3 11l1 1l1-2l3-18l1-2l1 1l2 7l2 4l3-2l1 1l1 3l2 8h1l1-3l2-15l1-4l1-1l3 7l1 1h1l1-2l2-8l1-2h2l2-1l1 1l3 8l1 1l1-1l3-10l1-2l2-1h2l1 2l1 3l2 11l1 3l2 1l1-2l4-16l2-2h2l2 3l3 8l2 3h1l2-3l2-6l3-1l3-5l1 1l5 10l3 2l1-1l3-9l2-4h1l1 1l4 8h1l3-7l2-2h1l3 13l2 1l1-1l4-10l2-4l7-4h4l4 3l2 3h1l1-1l3-4l6-2h7l4 1l3-1h5l6-1l51-1z"/>
<path transform="matrix(-1.1108 0.4088 0 -0.51975 382.1 260.2)" d="M0 0v27h2l1 2l2 6l1 1l1-2l2-7l1-2h1l2 3h1h3l1 2l3 11l1 1l1-3l3-17l1-3l1 1l4 11l3-1l1 1l3 11h1l1-4l2-15l1-4h1l3 6l1 2h1l1-3l2-7l1-2h2l2-1h1l3 8h1h1l3-9l1-2l2-1l2 1l1 1l1 4l2 12l1 3l1 1l1-1l1-2l4-18l2-1l2 1l2 2l3 9l2 2h1l1-2l3-8h3l3-5h1l1 3l4 10l1 1l2 1h1l1-2l3-11l1-2l1-1l1 1l4 7h1l3-7l2-2l1 1l3 12l1 1h1l1-1l4-10l2-3l7-4h4l6 6h1l4-5l6-2l11 1l3-1h5l6-1l51-1z"/>
<path transform="matrix(-1.1108 0.4088 0 -0.51975 382.9 260.8)" d="M0 0v27h2l1 2l2 6l1 1l1-2l2-7l1-2h1l2 4h1l3-1l1 1l3 11l1 1l1-3l3-17l1-2h1l4 11l3 1l1 1l3 11l1-1l1-4l2-15l1-4h1l3 6l1 2l1-1l1-2l2-7l1-2h2l3-1l3 7h1h1l3-8l2-3l3 1l1 2l3 18l1 4h1l1-1l1-3l3-16l1-4l1-1h1l2 1l2 3l3 10l1 1l1 1l1-2l4-10h3l3-5h1l1 2l4 11l1 1l2 2l1-1l1-2l3-11l1-2l1-1l1 1l4 7h1l3-7l2-2l1 2l3 11l1 1h1l1-1l4-10l2-3l7-4h4l6 7l2-1l3-4l6-3l11 1l3-1l5 1l6-2l51-1z"/>
<path transform="matrix(-1.1108 0.4088 0 -0.51975 383.7 261.4)" d="M0 0v27h2l1 2l2 7l1 1l1-2l2-8l1-2l1 1l2 3l1 1l3-2l1 1l3 10l1 1l1-2l3-17l1-3l1 1l4 10l4 3l3 10l1-1l1-4l2-14l1-4h1l3 7l1 1l1-1l1-2l2-7l1-2h2l3-1l3 6h1h1l3-8l2-2l3 1l1 2l1 4l2 14l1 3h1h1l1-3l3-16l1-3l1-2h1l2 1l2 4l2 9l1 3l1 1h1l1-2l3-11l1-2l3 1l3-5h1l1 2l5 12l2 2l1-1l1-3l3-10l1-2l1-1l5 8l1-1l3-6l1-1h1l1 2l3 11l1 1h1l2-4l3-8l2-3l7-4h4l6 8h1l4-5l6-4l11 1l4-1l4 1l6-2l14 1l37-2z"/>
<path transform="matrix(-1.1108 0.4088 0 -0.51975 384.5 261.9)" d="M0 0v27h2l1 2l2 8l1 1l1-1l2-9l1-3l1 1l2 3l1 1l3-3l1 1l3 10l1 1l1-2l3-16l1-3h1l2 4l2 7l1 1l3 1l1 3l2 8h1l1-4l2-15l1-3h1l3 6l1 1l1-1l3-10l1-1h2l3-1l3 5h1h1l3-7l2-2l2 1l2 3l3 17l1 3h1h1l1-3l3-16l1-3l1-2h1l2 1l1 2l1 2l3 13h1h1l1-2l3-11l1-2l3 1l3-5h1l1 2l5 12l2 1h1l4-13l1-2h1h1l4 6h1l3-6l1-1h1l1 3l3 11l2 2l2-2l3-10l2-5l7-4l4 1l6 7h1h1l7-8l2-1l5 1h6l4-1l4 1l6-2l14 1l37-2z"/>
<path transform="matrix(-1.1108 0.4088 0 -0.51975 385.3 262.5)" d="M0 0v28h2l1 2l2 10l1 1l1-2l2-11l1-2h1l2 3h1l3-2l1 1l3 10h1l1-2l3-15l1-3h1l2 4l2 7l1 2l3 1l1 2l2 8h1l1-3l2-15l1-4h1l3 7h1l1-1l3-10l1-1h2l3-1l3 4l1 1l1-1l3-6l2-1h2l2 3l3 16l1 2l1 1l1-1l1-2l4-18l1-1l1-1l2 1l1 2l1 2l3 13l1 1l1-1l1-3l2-8l1-3l1-1l2 1h1l3-5h1l1 2l5 11l2 2l1-1l4-12l1-2l2 1l4 5l1-1l3-6h1h1l1 3l3 11l1 1h1l2-2l3-9l2-4l7-5l4 1l5 6l2 1l8-8l2-1l5 1l10-1l4 2l6-3l13 1l38-2z"/>
<path transform="matrix(-1.1108 0.4088 0 -0.51975 386.1 263.1)" d="M0 0v28h2l1 3l2 13l1 1l1-2l2-13l1-4h1l2 3h1l3-2l1 1l3 10h1l1-2l3-16l1-2h1l2 3l3 12l1 1l2-1l1 1l2 6l1 1l1-4l2-13l1-4l1 1l3 7h1l1-2l3-10l1-1l2 1l3-3l3 5h1l1-1l3-5l1-1h2l2 3l2 5l2 10l1 2h1h1l1-2l4-16l2-2l2 1l2 3l3 13l1 1l1-1l3-12l1-2l1-1l2 2h1l3-6h1l6 12l2 2l1-1l3-9l2-3h2l4 4h1l3-6h1h1l1 2l3 11l2 2l2-2l1-2l4-10l5-5l2-1l4 1l3 4l3 3l2-1l7-7l2-1l5 1l9-1l5 2l6-3l19 1l5-1l27-1z"/>
<path transform="matrix(-1.1108 0.4088 0 -0.51975 386.8 263.7)" d="M0 0v28l2 1l1 3l2 15l1 1l1-2l2-16l1-4h1l3 3h3l1 1l3 8l1 1l1-2l3-17l1-2h1l1 1l1 2l3 14l1 1l3-2l2 5h1l1-3l2-13l1-2l4 8l1-1l1-1l3-11l1-1l2 1l3-3l3 4h1h1l3-5l1-1h1l2 3l3 7l2 8l1 1h2l1-2l4-14l1-2h2h1l2 3l3 13l1 1l1-1l2-9l2-6h1l2 2h1l3-6h1l6 11l2 2l1-1l4-10h2l5 3l4-6h1h1l1 2l3 10l2 2l2-1l1-2l4-10l5-5l2-1l4 1l3 4l3 3l2-1l7-7l2-1l5 1l9-1l5 1l5-2h5l7 1l13-1l27-1z"/>
<path transform="matrix(-1.1108 0.4088 0 -0.51975 387.6 264.3)" d="M0 0v28l2 1l1 3l2 14l1 1l1-2l2-15l1-3l1-1l3 4l3 3l1 1l3 7h1l1-3l3-17l1-3l1-1l1 1l1 3l3 14l1 1l3-2l2 5l1-1l1-3l2-12l1-2l3 7l1 1h1l1-2l3-11l1-1l2 1l3-3l3 4h1h1l3-5l1-1l2 1l6 16l3 1l1-1l4-12l2-3h2l2 3l3 11l1 1l1-1l2-9l2-5h1l2 3l1 1l3-7h1l4 7l4 4l1-1l3-7l1-2l5 3h2l4-6l1-1l1 1l1 2l4 11l2 1l2-2l4-11l7-6l4 1l3 4l3 2h2l9-8l5 1l9-1l5 1l4-1l7-1l5 2l5-2l36-1z"/>
<path transform="matrix(-1.1108 0.4088 0 -0.51975 388.4 264.8)" d="M0 0v29h2l1 4l2 12l1 2l1-3l2-14l1-3h1l3 4l4 2l3 9h1l1-3l3-18l1-3l1-1l1 1l1 3l3 14l1 1h1l2-1l2 3l1-1l3-14l1-1l3 6l1 1h1l4-13l1-1l2 1l3-3l3 4h1l1-1l3-4l1-1l2 1l6 14l4 2l2-3l3-8l3-4l2 3l3 11l1 1l1-2l2-9l1-3l1-2l1 1l2 5l1 2l1-2l2-6l1-1l3 5l5 4l1-1l3-7l1-1l4 2h3l3-4l2-2l1 1l1 2l4 12l1 2l1 1l2-2l3-11l1-3l7-6l4 1l3 4l3 2l2-1l9-7l5 1l9-1l5 1l11-2l5 2l5-2l36-1z"/>
<path transform="matrix(-1.1108 0.4088 0 -0.51975 389.2 265.4)" d="M0 0v29l2 1l1 3l2 12l1 1l1-3l2-13l1-3l1 1l3 4h3l1 1l3 8h1l1-3l3-17l1-3h1h1l1 3l3 13l1 2l1 1l2-2l2 3l1-1l3-14l1-1l3 6l1 1l1-1l1-2l3-10l1-1l2 1l3-3l3 3l1 1l1-1l4-5h1l2 2l3 5l2 5l4 5l2-1l3-7l3-6l1 1l1 1l3 10l1 1l1-1l3-13l1-1l1 1l3 11l1-1l3-10l3 5l1 1l2-1l2 1h1l2-5l2-3l4 2h3l3-4l2-2l1 1l2 4l4 13l1 1h1l1-1l3-13l1-2l3-2l3-4l2-1l3 1l3 4l3 2l6-4l5-4l5 1l9-1l5 1l11-2l5 1l5-1l36-1z"/>
<path transform="matrix(-1.1108 0.4088 0 -0.51975 390.0 266.0)" d="M0 0v30l2 1l1 2l2 11l1 1l1-2l2-12l1-3l1 1l2 4h1l3-1l1 1l3 7h1l1-2l3-17l1-3h1h1l1 2l3 14l1 2h1l2-1l2 3l1-2l1-3l2-10l1-1l2 4l2 3l1-1l4-12l1-1l2 1l3-3l3 4h1l1-1l4-5h2l3 3l3 7l4 6h1h1l3-8l3-5l1 1l1 2l3 9l1 1l1-2l2-9l1-3l1-1l1 2l2 8l1 3l1-1l3-11l3 5h1h2l2 1l1-1l3-7h1l4 2h3l3-5l2-1l1 1l2 3l4 15l1 2h1l1-1l1-3l2-12l1-2l3-2l4-5l4 1l3 4l3 1l6-2l4-4l2-1h17l12-1l5 1l41-2z"/>
<path transform="matrix(-1.1108 0.4088 0 -0.51975 390.8 266.6)" d="M0 0v31l2 1l1 2l2 10l1 1l1-3l2-11l1-1l3 5h1l3-2h1l3 7h1l1-2l3-16l1-3l1-1h1l1 2l3 13l1 2l1 1l2-1l2 2l1-1l1-4l2-9l1-1l2 4l2 2l1-1l1-3l3-8l1-1l2 1l3-3l3 4h1h1l3-5l2-1l4 2l7 14h1l1-1l3-7l2-4h1l2 3l3 9h1l1-2l2-10l1-2l1-1l1 2l2 9l1 2l1-1l3-12l1 1l2 4l5 2l1-1l3-7l1-1l4 3h3l3-5h2h1l2 3l1 3l3 11l1 2l1 1l1-2l3-14l1-3l3-2l4-4l4 1l3 3l4 2l6-2l3-4l2-1h17l12-1h22l24-1z"/>
<path transform="matrix(-1.1108 0.4088 0 -0.51975 391.5 267.2)" d="M0 0v32h1l1 1l1 2l2 9l1 1l1-3l2-10h1l3 5h1l3-5h1l3 8h1l1-2l3-16l1-3l1-1h1l1 2l3 12l1 3l1 1l2-1l2 2l1-2l1-3l2-9l1-2l4 5l2-2l3-8l1-1l2 1l3-3l3 5l1 1l1-1l3-5l2-2l3 1l2 1l6 13h1h1l3-8l2-3h1l4 12l1 2l1-1l1-3l2-10l1-3h1l1 3l2 9l1 3l1-2l3-12h1l3 6l4 2l1-2l3-8l1-1l5 3h2l3-4l2-1l3 3l1 2l3 12l1 2h1l1-2l3-14l1-2l7-6l4 1l3 3l4 2l6-1l3-4l2-2h17l12-1l22 1l6-1l18-1z"/>
<path transform="matrix(-1.1108 0.4088 0 -0.51975 392.3 267.8)" d="M0 0v33h1l1 1l1 2l2 9h1l3-12l1 1l3 5l1-1l2-5l1-2h1l3 8l1 1l1-2l3-15l1-3l1-2l1 1l1 1l3 12l1 2l1 1l2-1l2 2l1-1l3-12l1-2l4 4h1l1-1l3-8l1-1l2 1l3-2l3 6l1 1l1-1l3-7l2-1h4l1 1l6 13h1l1-1l3-7l2-3l1 1l3 12l1 2l1 1l1-1l3-15l1-3l1 1l1 3l2 11l1 2l1-1l3-15h1l3 8l2 3l2 1l1-2l2-9l1-3l1-1l7 3l4-5l2 1l2 2l1 2l3 11l1 2h1l1-2l3-13l1-3l7-5h4l7 8h1l5-4l3-3l2-2h13l4 1l5-2h16l13 1l6-1l18-1z"/>
<path transform="matrix(-1.1108 0.4088 0 -0.51975 393.1 268.3)" d="M0 0v34h1l1 1l3 10h1l3-12h1l3 6l1-1l2-6l1-2l1 1l3 9l1 1l1-2l3-16l1-3l1-1h1l1 2l3 10l1 2h3l2 3l1-1l1-3l2-9l1-2l5 4h1l1-2l3-8l2 1l2-2h1l3 10l1 1l1-1l3-10l1-1l4-1h2l4 8l2 5l1 1l1-1l3-8l2-2l1 1l3 11l2 4l1-2l3-14l1-2h1l1 3l2 11l1 3l1-2l3-15l1 1l5 9l2 1l1-2l2-8l1-3l1-1l7 4l4-5l2 1l3 3l3 10l1 2h1l1-1l3-14l1-2l7-5h4l4 4l3 8l1 1l1-1l3-7l4-4l2-2h13l4 1l6-2h16l12 1l6-1l18-1z"/>
<path transform="matrix(-1.1108 0.4088 0 -0.51975 393.9 268.9)" d="M0 0v34h1l1 2l3 9l1-1l3-11h1l3 6l1-2l2-5l1-2l1 1l3 10l1 1l1-2l3-16l1-4l1-1h1l1 2l3 9l1 2h3l2 3h1l1-3l2-8l1-2h2l4 2l1-1l3-8l2 1l2-2l1 1l3 14l1 1l1-1l3-14l1-2l5-1h1l3 6l3 7l1 1l1-1l3-8l2-2l1 1l3 11l2 3l1-2l1-3l2-9l1-2h1l1 3l2 11l1 2l1-2l2-11l1-4l1 1l3 5l4 3l1-1l2-7l1-3l1-1l3 2l4 5l1-1l3-6l4 2l1 1l1 2l2 7l1 3h1l1-2l3-13l1-2l7-5h4l4 4l3 7l1 1l1-1l3-6l4-5l2-1h13l4 2l6-3h28h6l18-1z"/>
<path transform="matrix(-1.1108 0.4088 0 -0.51975 394.7 269.5)" d="M0 0v34h1l1 1l3 8h1l3-11h1l3 6l1-1l2-5l1-2l1 1l3 11l1 1l1-3l3-17l1-3l1-1l2 3l3 8l1 1l3-1l2 4l1 1l1-1l3-11l3-2l3 2l1-1l2-5l1-2l2 1l2-2l1 1l3 13l1 1l1-1l3-13l1-2l5-2l1 1l3 5l3 8l1 1l1-1l2-7l1-2l2-1h1l3 11l2 3l2-2l3-9l1-1l1 2l2 10l1 1l1-2l2-11l1-3l3 5h2l3 2l1-1l3-8l1-1l4 3l3 7l1-1l3-7h5l3 9l1 3h1l1-2l3-13l1-2l7-5h4l4 3l3 7h1h1l3-5l4-5l2-1h13l4 1l6-2l52-1z"/>
<path transform="matrix(-1.1108 0.4088 0 -0.51975 395.5 270.1)" d="M0 0v33h1l1 1l3 8l1-1l3-10l1 1l3 6h1l2-5l1-2l1 2l2 9l1 3h1l1-4l3-19l1-2l1-1l1 1l3 8l1 2l3-1l1 1l2 5l1 1l1-1l3-13l1-1h2l3 1l1-1l2-5l1-1l2 1l2-2l1 1l3 12l1 1l1-1l3-12l1-2l2-1l3 10h2l2-5l3 9h1l1-1l2-7l1-2l2-1h1l3 10l2 4l2 2h1l3-8h1l2 8l1 1l1-3l2-12l1-2l2 4l1 1l2-1l3 2l1-1l3-7l1-1l3 2l1 2l3 11l1 1l1-3l2-9l3-1l2-2l1 2l2 8l1 3h1l1-2l3-14l1-2l7-5h4l4 3l3 6h1l8-8l2-2l9 1l4-1l4 1l6-2l52-1z"/>
<path transform="matrix(-1.1108 0.4088 0 -0.51975 396.3 270.7)" d="M0 0v32l2 1l3 7h1l3-9h1l3 8l1-1l3-7l1 1l2 9l1 3h1l1-4l3-18l1-3h1l1 1l3 8l1 1h3l1 1l3 10l1-1l3-16l1-2l2-1l3 1l4-6l2 1l2-2l1 1l3 11h1h1l3-12l2-2l1 3l2 14l1 4l1 1l1-1l1-4l1-6l1-4l2 8h1l1-1l2-8l1-2l2-2l1 1l3 10l2 4l2 2h1l3-8l1 2l1 6l1 4h1l3-19l1-1l2 4h1l2-1h1l2 3h1l3-7l1-1l3 4l1 3l3 15l1 1l1-3l2-12l1-2l2-1l2-5l1 2l2 10l1 2l1 1l1-2l3-16l1-2l7-5h3l2 1l3 2l3 5h1l6-4l2-3l2-2l9 1l4-1l4 1l6-2h15l5 1l4-1l28-1z"/>
<path transform="matrix(-1.1108 0.4088 0 -0.51975 397.0 271.2)" d="M0 0v31h2l1 2l2 5h1l3-8l1 1l3 8l1-1l3-7l1 1l2 9l1 2h1l1-4l3-18l1-2l1-1l1 2l3 7l4 3l1 2l2 7l1 2l1-2l3-17l1-2l5 1l1-1l2-4l1-1l2 1l2-2h1l3 10l1 1h1l3-11l2-2l3 27l1 5l1 1l1-1l1-5l2-20l2 9l1 1l1-2l2-9l1-3l2-1l1 1l5 15l1 2l1 1l1-1l3-10l1 2l1 7l1 3h1l3-19l1-1l2 4l1 1l2-2l1 1l2 5h1l3-6l1-1l1 1l2 5l3 14l1 3h1l1-3l2-13l1-3l2-2l2-5l1 2l2 9l1 2l1 1l1-2l3-15l1-3l7-3h5l3 2l3 4l1 1l6-4l2-3l2-2l9 2l4-2l4 1l6-2l20 1l5-1l27-1z"/>
<path transform="matrix(-1.1108 0.4088 0 -0.51975 397.8 271.8)" d="M0 0v30h2l1 2l2 4l1 1l3-7l1 1l3 8h1l3-8l1 2l2 8l1 3l1-1l1-4l3-18l1-3h1l4 9l3 3l4 13h1l1-3l3-19l1-1l5 1l3-5l1-1l2 2l3-3l3 9l1 1h1l3-10l1-2h1l3 37l1 6l1 1l1-1l1-6l2-25h1l1 4l1 1l1-2l2-10l1-2l1-1h1l1 1l3 9l2 9l1 3l1 1l1-1l3-15l1 2l1 7l1 3h1l3-18l1-1l2 3l1 1l2-1l1 1l2 7l1 2l1-1l3-9h1l1 3l1 5l2 13l1 4l1 2h1l1-3l2-15l1-5l4-8l1 1l2 9l1 2h1l1-1l3-15l1-2l6-3l4-1l2 1l3 2l3 4l1 1l2-2l4-2l2-3l2-2h4l5 2l4-2l4 1l6-2l20 1l5-1l27-1z"/>
<path transform="matrix(-1.1108 0.4088 0 -0.51975 398.6 272.4)" d="M0 0v29h2l1 2l2 4h1l3-5l1 1l3 9l1-1l3-5l1 1l2 9l1 1l1-1l1-4l3-20l1-2h1l4 8l2 2l1 2l4 14h1l1-3l3-20l1-2l3 2h2l3-5l3 2l3-3l3 8h1h1l3-9l1-1l1 2l3 43l1 7l1 1l1-1l1-7l2-29l1-4l1 3l1 1l1-2l2-10l1-2l1-1l2 2l2 5l1 4l2 13l1 4l1 1l1-2l3-20l1 2l2 9h1l3-18l1-1l2 4h1l2-1l1 2l2 7l1 1l1-1l3-8h1l1 2l1 5l3 20l1 2h1l1-2l3-21l3-9l1-2l1 2l2 8l1 2h1l1-1l3-14l1-2l6-3h6l3 2l2 4l1 1h1l2-3l4-1l2-3l2-2h4l5 2l4-2l4 1l6-2l20 1l5-1l27-1z"/>
<path transform="matrix(-1.1108 0.4088 0 -0.51975 399.4 273.0)" d="M0 0v29h2l1 1l2 4l1 1l3-5l4 10l1-1l2-5l1-1l1 2l2 10l1 2l1-1l1-5l3-21l1-2h1l4 8l2 2l1 2l4 17h1l1-4l3-22l1-2l4 3l1-1l3-5l2 4l1 1l1-1l2-5l1 1l2 6l1 1l1-1l3-8l1-1l1 4l3 49l1 8l1 2l1-2l1-8l2-33l1-7l1 3h1l1-2l2-10l1-2l1-1l2 2l2 5l1 4l2 18l1 5h1h1l1-5l2-20h1l2 8h1l3-17l1-1l2 4h1l2-1l1 2l2 7l1 1l2-3l2-6l1-1l1 2l1 5l2 15l1 6l1 2h1l1-3l3-20l3-9l1-2l1 2l2 7l1 2h1l1-2l3-12l1-2l6-3h6l3 2l2 3l1 1h1l2-2l4-2l2-2l2-2h4l5 2l4-2l4 1l6-2l19 1l6-1l27-1z"/>
<path transform="matrix(-1.1108 0.4088 0 -0.51975 400.2 273.6)" d="M0 0v28l2 1h1l2 5h1l2-3h1l3 8l1 1l1-1l2-7l1-1l1 2l2 10l1 2h1l1-4l3-21l1-2h1l4 7l2 2l1 3l4 19h1l1-4l3-24l1-2l3 4h1h1l3-6l2 6l1 1l1-1l2-8l1 1l2 5l2 1l4-9l1 6l3 56l1 9l1 2l1-2l1-9l2-38l1-9l1 3l1-1l1-3l2-10l1-2h2l1 1l2 5l1 4l2 18l1 5l1 1h1l1-5l2-18l1-2l2 6h1l3-16l1-1l2 4h1l2-1l1 2l2 7l1 1l2-4l2-6h1l1 2l1 5l2 15l1 6l1 2h1l1-3l3-21l3-9l1-1l1 1l2 7l1 2h1l1-2l3-11l1-2l6-3h6l3 2l2 3l2 1l2-2l4-2l2-2l2-2l9 2l4-1h4l6-2l19 1l5-1h6l22-1z"/>
<path transform="matrix(-1.1108 0.4088 0 -0.51975 401.0 274.2)" d="M0 0v28h2l1 1l2 4l1 1l2-3l1 1l3 8l1 1l1-2l2-8l1-1l1 2l2 10l1 3h1l1-3l3-21l1-3h1l4 7l2 2l1 3l3 16l1 4h1l1-4l3-25l1-1l3 5h1l1-1l3-7l2 5l1 1l1-1l2-7l1 1l2 5h2l4-8l1 9l3 63l1 10l1 2l1-2l1-10l2-43l1-10l1 2l1-2l3-15l1-2h2l1 1l2 5l1 3l2 17l1 6l1 2l1-1l1-5l2-19l1-2l2 8l1-1l3-15h1l2 4l1 1l2-2l1 1l2 7l1 1l2-4l2-6l1-1l1 3l1 5l2 17l1 5l1 2l1-1l1-4l2-16l1-5l3-8l1-1l1 1l2 7l1 1h1l1-2l3-11l1-1l6-3h6l3 2l3 4l1 1l2-3l4-2l2-2l2-2l16 1l7-2l15 1h4l5-1h6l22-1z"/>
<path transform="matrix(-1.1108 0.4088 0 -0.51975 401.7 274.7)" d="M0 0v28h2l1 1l2 4l1 1l2-3h1l3 7l1 1l1-2l2-7l1-1l1 1l3 16l1 1l1-2l3-23l1-4h1l4 7l2 2l1 3l1 5l2 12l1 4l1 1l1-4l3-26l1-2l3 7h1l1-1l3-9l1 2l1 2l1 1l1-1l2-6l1 1l2 5h2l4-8l1 13l3 74l1 13l1 2l1-2l1-13l2-50l1-12h1l1-3l3-17l1-2l2-1l1 1l2 4l1 4l3 22l1 1l1-1l1-5l2-19l1-1l2 8h1l3-15l1-1l2 4l1 1l2-1l1 1l2 6l1 2l1-2l3-9h1l1 2l1 7l2 18l1 4l1 2l1-1l1-5l2-17l1-5l3-7l1-1l3 8l1 1l2-2l3-11l1-1l6-3l4-1l2 1l3 3l3 6l1 1l3-6l7-6l16 2l7-3l14 1l5 1l6-2h6l21-1z"/>
<path transform="matrix(-1.1108 0.4088 0 -0.51975 402.5 275.3)" d="M0 0v28l2 1l3 5h1l3-3l4 6l1-1l2-7l1-1l1 1l3 15l1 2l1-3l3-21l1-4h1l4 7l2 1l1 3l3 18l1 4l1 1l1-3l3-26l1-2l3 6h1l1-1l3-9l3 4l1-1l2-5l1 1l2 4l1 1h1l4-9l1 17l3 86l1 14l1 3l1-3l1-14l2-58l1-10l1-2l1-5l3-21l1-2l2-1l1 1l2 4l1 3l3 20l1 2l1-1l3-25h1l2 9h1l3-15l1-1l2 4h3l3 8h1l1-1l3-9l1-1l1 3l1 6l2 18l1 4l1 3l1-2l1-5l2-17l1-5l3-6h1l3 7l1 1l2-3l3-10l1-1l6-3h5l3 2l1 2l3 13h1l1-1l2-9l1-3l6-6l16 2l7-3h14l5 2l6-2h7l20-1z"/>
<path transform="matrix(-1.1108 0.4088 0 -0.51975 403.3 275.9)" d="M0 0v29h2l3 5h1l3-4l1 1l3 5l1-1l3-8l1 2l3 13l1 2l1-3l3-20l1-3h1l4 7l2 1l1 2l1 4l3 17l1 1l1-3l3-24l1-1l3 5h1l1-1l3-9l3 3l1-1l2-4l1 1l2 4l1 1l1-1l3-7h1l1 20l3 95l1 16l1 3l1-3l1-16l2-64l1-9l1-2l1-6l3-26l1-3l1-1l2 1l3 6l3 19l1 1l1-1l3-24l1 1l2 9l1 1l3-15l1-2l2 3l3 2l3 7l1 1l4-12h1l1 2l1 6l2 17l1 5l1 3l1-2l1-6l2-16l2-6l2-3l1 1l3 8l1-1l2-5l3-9l1-1l3-1l3-2l4-1l2 1l3 4l3 11h1l1-1l2-8l1-2l6-6l11 1h6l6-2h14l5 2l6-2h8l19-1z"/>
<path transform="matrix(-1.1108 0.4088 0 -0.51975 404.1 276.5)" d="M0 0v29h2l3 6h1l3-5l1 1l3 6l1-1l3-8h1l3 12l1 2l1-2l3-19l1-3h1l4 7l3 2l1 3l3 16l1 1l1-2l3-22l1-1l3 5h1l1-2l3-8l3 3l1-1l2-4l3 6h1l1-1l3-7l1 2l1 22l3 106l1 18l1 3l1-3l1-18l2-72l1-12l1-1l1-5l3-29l1-3l2-2h1l3 5l3 18l1 1l1-2l3-23l1 1l2 11l1 2l1-4l2-12l1-3l1 1l3 5l4 9h1l3-11l1-3l1-1l1 2l1 6l2 17l1 5l1 3l1-2l1-5l2-16l2-7l2-2h1l3 8l1-1l5-13l7-4l4-1l2 1l3 4l3 8l1 1l1-1l2-5l3-3l3-5l1-1l11 2l11-3h15l5 1l6-1h9l6-1h12z"/>
<path transform="matrix(-1.1108 0.4088 0 -0.51975 404.9 277.1)" d="M0 0v29l2 1l3 6h1l3-5h1l3 8h1l1-3l2-7l1-1l3 11l1 2l1-3l3-17l1-3h1l4 7l3 2l1 2l1 4l2 11l1 1l1-2l3-21h1l3 5h1l1-2l3-9l1 1l2 2l3-4l3 6h1l1-1l3-7l1 3l1 25l3 119l1 20l1 4l1-4l1-20l2-81l1-20l1-2l1-5l3-23l3-7l1-1l3 5l3 15l1 1l1-3l2-17l1-5l1 2l2 13l1 3l1-2l3-19h1l1 1l4 14l2 4l1-2l3-14l1-3l1-1l1 2l1 5l2 17l1 6l1 3l1-2l1-5l2-15l1-4l2-5l1-2l1 1l3 7l1-1l5-12l7-4l4-1l2 2l3 3l3 6l1 1l3-3l3-1l3-8l2-1l9 2l12-3l9 1l6-1l5 1l6-1h9l6-1h12z"/>
<path transform="matrix(-1.1108 0.4088 0 -0.51975 405.7 277.6)" d="M0 0v29h1l1 1l3 7l1 1l3-6h1l3 10h1l1-3l2-9l1-1l3 10l1 1l1-2l3-17l1-3h1l4 7l3 1l1 2l3 14l1 1l1-2l3-18l1-1l3 6l2-2l3-10h1l2 2l3-3l3 6h1l1-1l3-7l1 5l1 28l3 132l1 22l1 5l1-5l1-22l3-121l1-1l1-4l3-17l3-9l1-1l3 5l3 12l1-1l1-4l2-16l1-5l1 3l2 17l1 5l1-2l1-6l2-17l1-2l2 3l3 11l2 3l1-1l3-14l1-3h1l1 1l1 5l2 17l1 7l1 3l1-1l1-6l3-18l2-6l1-1h1l3 6h1l5-12l4-2l3-2h5l4 3l3 6h1l2-2l4-1l3-7l2-1l9 1l11-1h9l6-1l6 1l5-1h9l19-1z"/>
<path transform="matrix(-1.1108 0.4088 0 -0.51975 406.4 278.2)" d="M0 0v29h1l1 2l3 7l1 1l1-1l2-5h1l3 9h1l3-13l1-1l1 3l2 9l1 2l1-2l1-5l2-13l1-3l1-1l4 8l4 1l1 3l2 10l1 1l1-1l3-17l1-1l3 5l2-2l3-9h1l2 1l3-2l3 5h1h1l3-8l1 8l1 30l3 146l1 24l1 6l1-6l1-24l3-140l1-1l1-3l3-11l3-9l1-2l3 6l2 6l1 1l1-2l1-5l2-17l1-4l1 3l2 17l1 5l1-1l1-6l2-17l1-3l2 3l3 10l2 3l1-1l3-13l1-2l1-1l1 2l1 5l2 17l1 6l1 3l1-2l4-23l2-5l1-1h1l3 6l1-1l1-2l4-9l4-2l3-2h5l4 3l3 4h1l2-1h3l1-1l3-6l2-1l10 1l10-1h9l6-1l7 1l4-1l28-1z"/>
<path transform="matrix(-1.1108 0.4088 0 -0.51975 407.2 278.8)" d="M0 0v29h1l1 2l3 8l1 1l1-1l2-4h1l3 7l1-1l3-13h1l1 3l2 11l1 3l1-1l1-4l2-16l1-4l1-1l1 1l3 7l1 1l3-1l1 2l2 9l1 2l1-1l3-17h1l3 5l2-3l3-8l1-1l2 2l3-3l3 6h1l1-1l3-7l1 7l1 28l3 137l1 23l1 4l1-4l1-23l3-130l1-1l4-13l3-7h1l5 14h1l1-4l1-7l2-18l1-3l1 3l2 17l1 5l1-1l1-6l2-18l1-2h1l1 2l3 9l2 4l1-2l3-11l1-3h1l1 2l1 5l2 17l1 6l1 2l1-1l3-19l2-7l1-2l1-1h1l3 5l1-1l5-10l4-1l3-3l5 1l4 2l4 3l6-1l3-6l2-1l10 1l10-1l9 1l7-2l6 1l4-1l28-1z"/>
<path transform="matrix(-1.1108 0.4088 0 -0.51975 408.0 279.4)" d="M0 0v29h1l1 2l3 9l1 2l1-1l2-5l1-1h1l2 5l1-2l3-11h1l1 3l2 11l1 3l1-1l1-4l2-15l1-4l1-1l4 10h1l3-2l1 1l2 8l1 2l1-1l3-16h1l3 5l2-2l3-9h1l2 1l3-2l3 5l1 1l1-1l3-7l1 6l1 26l3 128l1 21l1 4l1-4l1-21l3-119l1-1l1-2l3-11l3-3l1 2l3 11l2 4l1-1l1-5l3-30l1-3l1 4l2 18l1 5l1-1l1-6l2-19l1-3l1 1l1 2l3 8l2 3l1-1l3-11l1-2h1l1 1l1 5l2 16l1 6l1 3l1-1l4-21l2-6l1-1l1 1l2 4h1l1-1l5-10l4-1l3-3l9 2l4 4l6-2l3-5l2-1l10 1l10-1l9 1l7-2l6 1l4-1l28-1z"/>
<path transform="matrix(-1.1108 0.4088 0 -0.51975 408.8 280.0)" d="M0 0v29h1l1 1l1 3l2 8l1 2l1-1l3-7l1-1l2 4l1-1l3-11h1l3 15l1 2l1-1l1-4l2-15l1-3h1l4 11l1 1l1-1l2-3h1l2 7l1 2l1-1l3-15l1-1l3 5l2-2l3-8h1l2 1l3-2l3 6h1l1-1l3-7l1 4l1 23l3 115l1 19l1 4l1-4l1-19l2-78l1-25h1l2-6l2-8h1l2 3l3 14l2 3l1 1l1-2l1-4l3-35l1-3l1 4l2 18l1 4l1-2l3-23l1-3l2 2l3 8l2 2l1-1l3-9l1-2l1-1l1 2l1 4l2 16l1 7l1 4l1-1l1-4l3-16l1-5l1-2l1-1l1 1l2 3l1 1l5-10l1-2h4l3-4l9 2l4 4l3-1l3-1l3-5l2-1l10 1l9-1l10 1l7-2l6 2l4-2l5 1l8-1l15-1z"/>
<path transform="matrix(-1.1108 0.4088 0 -0.51975 409.6 280.6)" d="M0 0v29h1l1 1l1 3l2 8l1 2l1-1l3-8l1-1l2 3l1-1l3-10h1l3 14l1 2l1-1l1-4l2-13l1-3l1 1l4 14h1l1-1l2-5l1-1l2 7l1 2l1-2l3-15h1l3 4l2-2l3-7h1h2l3-1l3 7h1l1-1l3-8l1 2l1 21l3 101l1 16l1 4l1-4l1-16l2-69l1-18l1 1l1-2l3-12l1-1l1 2l1 4l2 12l1 3l1 1h2l1-2l1-5l3-34l1-2l1 5l2 17l1 4l1-2l3-24l1-2l2 2l3 6l2 3l1-1l2-6l3-4h1l1 4l3 21l1 4l1-1l4-19l1-4l1-2h1l3 5l1 1l5-11l1-1l2 1l2-1l3-4l1-1l8 2l4 4l6-3l3-4h2h10l9-1l10 1l7-2l6 1l4-1l5 1l8-1l15-1z"/>
<path transform="matrix(-1.1108 0.4088 0 -0.51975 410.4 281.1)" d="M0 0v29l2 1l1 2l2 8l1 2h1l3-9l1-1l2 3l1-1l3-10l1 1l3 12l1 2l1-1l3-16l1-1l1 1l3 13l1 3h1l1-2l2-6l1-1l3 8l1-2l3-15l1-1l3 5l2-2l3-7l1-1l2 1l2-1h1l3 9h1h1l3-10l1-1l1 19l3 89l1 15l1 3l1-3l1-15l2-60l1-11l1 2l1-1l1-3l2-11l1-2l1 1l1 4l2 12l1 4l1 1h2l1-2l1-6l2-25l1-8l1-1l1 5l2 16l1 3l1-2l3-23l1-2l2 2l3 7l2 2l4-1l1-2l2-7l1 4l3 19l1 3h1l4-18l1-4l1-1h1l3 7l1 1l5-12l1-1l2 2h2l3-7l1-1l8 2l4 3l6-2l3-4h2h10l9-1h10l8-1l4 1l5-1l6 1l7-1l15-1z"/>
<path transform="matrix(-1.1108 0.4088 0 -0.51975 411.1 281.7)" d="M0 0v29l2 1l1 2l2 10l1 2l1-1l3-11h1l2 2l1-1l3-9h1l3 11l1 2l1-1l1-4l2-10l1-1l1 2l3 13l1 2h1l1-2l2-6l1-1l2 6l1 2l1-1l3-16l1-1l3 4l2-1l3-7l5-1l1 1l3 12l1 1l1-1l3-13l1-2l1 15l3 77l1 13l1 3l1-3l1-13l2-52l1 1l1 3h1l1-3l2-16l1-4h1l1 4l2 12l1 4l1 1h2l1-2l1-6l2-24l1-7l1-2l1 5l2 15l1 4l1-3l3-21l1-2l2 2l4 7l1 3l1 5l1 3h1l1-1l1-2l2-12l1-1l3 18l1 3l1-1l4-17l1-2l1-2l1 1l2 8l1 3l1 1l5-15h1l2 3l1 1l1-1l3-9l2-2l7 2l4 3l6-2l3-4h2h10l10-2l9 1l8-1l5 1l4-1l6 2l7-2l15-1z"/>
<path transform="matrix(-1.1108 0.4088 0 -0.51975 411.9 282.3)" d="M0 0v29h2l1 3l2 10l1 2l1-1l3-11h1l2 2l1-1l3-9h1l3 10l1 1l1-1l3-12l1-1l1 2l3 13l1 3l1-1l3-7l1-1l2 7l1 2l1-1l3-18l1-1l3 4h1l2-3l2-5l1-1h4l1 2l3 17l1 1l1-2l3-17l1-3l1 11l3 69l1 11l1 2l1-2l1-11l2-46l1 6l1 3l1-1l1-3l2-16l1-4l1 1l1 3l2 12l1 4l1 1l2 1l1-3l1-6l2-23l1-7l1-1l1 4l2 15l1 3l1-2l3-20l1-2l2 2l3 5l1 5l2 17l1 4l1 1l1-1l1-5l3-25l3 17l1 3l1-1l4-16l1-2l1-1l1 2l3 15l1 2l1-3l2-10l2-6h1l2 5l1 1l1-1l3-13l1-2h1h3l4 1l4 4l6-2l3-4h2h10l10-2l10 1l7-1l5 1l5-1l5 2l7-2l15-1z"/>
<path transform="matrix(-1.1108 0.4088 0 -0.51975 412.7 282.9)" d="M0 0v29h2l1 3l2 10l1 2l1-1l2-9l1-2h1l2 3l1-1l3-9l1-1l1 2l2 7l1 1l1-1l3-12h1l1 3l3 13l1 2l1-1l1-2l2-5h1l2 9l1 2l1-2l3-20l1-1l3 5h2l1-1l3-8l1-1h3l1 3l3 17l1 1l1-1l3-18l1-4l1 9l3 62l1 10l1 3l1-3l1-10l2-35l1 4l1 2l1-1l1-3l2-16l1-4h1l1 3l3 16l1 2l2 1l1-3l1-6l2-23l1-6l1-1l1 4l2 15l1 3l1-2l3-20l1-2l2 2l3 5l3 35l1 6l1 1l1-2l1-5l3-36l1 2l2 10l1 4l1-1l4-16l1-2l1-1l1 2l2 13l1 4l1 2l1-2l4-17l1-1l2 5h1l1-1l3-12l1-2l1-1h3l4 2l4 5l10-7h4l16-2h18l5 1l4-1l7 2l6-2l15-1z"/>
<path transform="matrix(-1.1108 0.4088 0 -0.51975 413.5 283.5)" d="M0 0v29h2l1 3l2 10l1 2l1-1l2-10l1-2l1 1l2 4l1-1l3-9l1-1l1 2l2 6l1 1l1-2l3-11h1l1 2l3 14l1 2h1l1-2l2-6h1l2 10l1 3l1-1l3-22l1-1l3 5h2l1-2l3-9h3l1 1l1 3l2 15l1 5l1 1l1-1l3-21l1-4l1 10l3 66l1 11l1 2l1-2l1-11l2-40l1 3l1 2l1-2l1-4l2-16l1-4l1 1l1 3l3 16l1 2l2 1l1-3l1-6l2-23l1-6l1-1l1 5l2 16l1 4l1-1l3-22l1-3l2 2l3 6l3 31l1 6l1 1l1-2l1-5l3-33l1 1l3 15l1-1l3-14l1-2l1-2l1-1l1 3l2 15l1 5l1 3l1-1l4-21l1-2l2 3h1l1-1l3-11l1-2l1-1h3l4 2l3 6h1h1l3-4l6-4h4l16-2h18l5 1l4-1l7 2l6-2l15-1z"/>
<path transform="matrix(-1.1108 0.4088 0 -0.51975 414.3 284.0)" d="M0 0v29h2l1 3l2 9l1 2l1-2l2-8l1-2l1 1l2 4h1l3-9l1-1l1 2l2 5l1 1l1-2l3-11l1-1l1 2l3 15l1 2h1l3-7l1-1l3 15l1-1l3-22l1-2l3 6h1l2-3l3-10h2h2l1 3l3 19l1 1l1-1l3-19l1-4l1 11l3 71l1 12l1 2l1-2l1-12l2-43l1 2l1 1l1-3l1-5l2-16l1-4l1 1l1 3l2 14l1 4l1 2l2 1l1-3l1-7l2-23l1-6l1-1l1 5l2 19l1 6l1-1l1-5l2-21l1-4h1l1 2l3 7l1 6l2 21l1 5l1 1l1-1l1-5l3-31l1 1l3 18h1l1-4l2-12l1-4l1-2h1l1 2l3 23l1 4l1 1l2-7l3-20l1-1l2 2l1-1l3-10l2-3h3l4 2l3 5l1 1l1-1l3-4l6-3l4 1l4-1l12-2h18l5 1l5-1l6 2l6-2l15-1z"/>
<path transform="matrix(-1.1108 0.4088 0 -0.51975 415.1 284.6)" d="M0 0v29h2l1 2l2 9l1 2l1-2l2-8l1-2l1 1l2 3h1l3-6h1l3 6h1l1-2l3-12h1l1 2l3 15l1 3l1-1l3-7l1-1l3 13h1l3-20l1-1l3 6l1-1l2-5l3-9h2h2l1 3l3 17l1 1l1-1l3-18l1-3l1 12l3 73l1 12l1 3l1-3l1-12l2-42l1 1h1l1-4l3-23l1-4l1 2l1 5l2 18l1 3l1 1h1l1-1l1-4l1-7l2-24l1-6l1-1l1 5l2 17l1 6l1-1l1-6l2-19l1-3l1 1l4 11l1 2l2 19l1 4l1 1l1-1l1-5l3-28l1 2l3 21l1 1l1-4l2-15l1-4l1-3h1l1 2l4 32l1 2l1-2l1-3l3-26l1-3l2 1l1-1l3-10l2-2h3l4 2l4 5h1l3-4l5-3l5 2l4-2l12-2h28l6 2l6-2l15-1z"/>
<path transform="matrix(-1.1108 0.4088 0 -0.51975 415.9 285.2)" d="M0 0v28l2 1l1 1l2 9l1 2l1-2l2-7l1-2h1l2 3l4-3l1 1l3 5h1l1-3l3-13l1-1l1 2l4 18h1l3-7l1-1l3 12h1l3-18l1 1l2 5h1l5-15l1-2h2l2 1l1 2l3 15l1 1l1-1l3-16l1-3l1 13l3 75l1 12l1 3l1-3l1-12l2-47l1 2l1-1l1-3l3-23l1-3h1l1 5l2 17l1 4l1 1l2-1l1-4l1-7l2-23l1-6h1l1 4l2 17l1 5l1-2l1-5l2-17l1-3l1 1l1 3l3 13l2 5l1 7l1 5h1l1-1l1-4l3-26l1 3l3 21h1l1-3l2-14l1-5l1-3h1l1 2l1 6l3 24l1 2l1-2l1-3l3-25l1-2h2l1-1l3-9l2-2h3l4 2l4 5l1-1l3-3l5-3h1l3 4h1h1l3-4l6-1l15-1l4 1l5-1h10l6 1l6-1l15-1z"/>
<path transform="matrix(-1.1108 0.4088 0 -0.51975 416.6 285.8)" d="M0 0v28h2l1 2l2 9l1 2l1-1l2-8l1-2l1-1l2 3l3 1l4 5h1l1-2l1-3l3-13l1-1l1 1l1 4l3 14l1 1l4-8l1 2l2 9l1-1l3-17l1 1l2 5h1l5-14l1-2h2l2 1l1 3l3 14l1 1l1-2l3-15l1-3l1 12l3 75l1 12l1 2l1-2l1-12l2-48l1 2h1l1-4l3-22l1-3h1l1 4l2 15l1 4l1 2l2-1l1-3l1-7l2-22l1-5h1l1 4l2 16l1 4l1-1l1-6l2-16l1-2l1 2l4 21l3 8l1 1l2-2l1-4l3-24l1 4l3 22l1 1l1-3l3-19l1-4l1-1l1 1l4 30l1 1l2-5l3-24l1-2h2h1l3-9l2-2h3l4 2l4 5l1-1l3-4l5-2h1l3 3l1 1l1-1l2-2l7-2l15-1l5 1l4-1h10l6 1l5-1l16-1z"/>
<path transform="matrix(-1.1108 0.4088 0 -0.51975 417.4 286.4)" d="M0 0v28h2l1 2l2 10l1 3l1-1l3-12l1-1l4 3l5 7h1l1-2l4-17l1-2l1 2l1 3l3 15l1 1l1-2l3-6l1 2l2 7h1l3-17l1 1l2 4l1 1l5-14l1-1l2 1l2 1l1 3l3 13h1l1-1l3-15l1-2l1 11l3 72l1 12l1 3l1-3l1-12l2-47l1 3h1l1-3l1-5l2-17l1-4h1l1 4l2 13l1 4l1 2h2l1-4l1-6l2-20l1-5h1l1 4l2 15l1 3l1-2l3-19l1-2l1 1l1 4l3 17l3 10l1 1l3-10l3-21l1 5l3 25l1 2l1-1l1-5l3-22l2-1l1 3l2 16l1 6l1 2l2-6l3-22l1-2l2 1l1-1l3-8l2-2h3l4 2l4 5h1l3-5l5-2l5 3l2-1h4l4-3h3l12-1l4 2l6-2l15 1l5-1l16-1z"/>
<path transform="matrix(-1.1108 0.4088 0 -0.51975 418.2 286.9)" d="M0 0v28h2l1 3l2 14l1 4l1-2l2-11l1-5l1-2l4 3l4 7l1 1l1-1l1-2l4-17l1-2l1 1l1 3l3 14l1 1l1-1l2-5l1-1l1 2l2 8l1-1l3-16h1l2 4h1l5-12l1-1l4 3l1 3l2 8l1 3l1 1l1-1l3-15l1-2l1 10l3 69l1 11l1 2l1-2l1-11l2-44l1 3l1 1l1-2l1-5l2-18l1-4h1l1 3l2 12l1 4l1 2l2-1l1-3l1-6l2-19l1-4h1l1 4l2 14l1 3l1-2l3-19l1-1l1 1l1 4l5 26l1 4h1l1-2l5-31l1 4l3 24l1 2l1-2l1-5l2-15l2 1h1l1-2l3 18l1 2l2-6l3-20l1-2l2 1l1-1l3-7l2-2h3l4 2l3 6h1h1l3-6l5-2h1l3 3l2-1l2 2l2 1l2-1l4-5l14-1l5 2l5-2h15h6h5l10-1z"/>
<path transform="matrix(-1.1108 0.4088 0 -0.51975 419.0 287.5)" d="M0 0v28h2l1 3l2 16l1 3l1-1l3-17l1-2l1-1l2 2l4 9l1 1l1 1l1-2l1-3l3-14l1-3l1-2l1 1l1 3l3 12l1 1l3-3l1-1l3 9l1-1l3-17h1l2 4h1l5-11l1-1l1 1l3 1l1 2l3 11h1l1-1l3-13l1-2l1 9l3 65l1 11l1 2l1-2l1-11l2-40l1 5l1 2l1-1l1-5l2-19l1-6h1l1 3l2 13l1 4l1 1l2-2l2-9l2-18l1-3h1l3 18l1 2l1-3l3-17l1-1l1 1l1 3l5 25l1 3l1 1l1-2l4-25l1-4l1 4l3 21l1 1l1-2l2-12h1l1 3h1h1l2-5l2 13l1 1l2-5l3-19l1-1h2h1l3-7l2-2h3l4 2l3 7l1 1l1-1l3-7l4-2h2l4 2l3 7l2 1l2-1l3-8l2-2h13l4 1l6-2h21h5l10-1z"/>
<path transform="matrix(-1.1108 0.4088 0 -0.51975 419.8 288.1)" d="M0 0v27l2 1l1 2l2 14l1 3l1-1l3-15l1-2h1l2 3l3 9l2 4h1l1-3l4-19l1-4l1-1l1 1l1 2l3 12l1 1h3l1 1l2 7l1 1l1-3l3-18h1l2 3h1l5-10l1-1l4 1l1 2l3 9l1 1l1-1l3-11l1-2l1 7l3 60l1 10l1 2l1-2l1-10l2-34l1 7l1 3l1-1l1-3l2-23l1-6h1l1 4l2 15l1 3l1 1l2-5l1-4l3-22l1-4l1 1l3 19l1 2l1-4l2-13l1-5h1l1 1l1 3l5 22l1 4h1l1-2l4-23l1-2l1 4l3 18h1l1-2l2-11l2 4h1h1l2-5l2 12l1 1l2-6l3-17l1-1l2 1l1-1l3-6l2-2h3l4 2l3 7h1h1l3-7l4-2h2l4 3l3 13l1 2h1h1l1-2l3-13l1-3l1-1h13l4 1l6-2h26l10-1z"/>
<path transform="matrix(-1.1108 0.4088 0 -0.51975 420.6 288.7)" d="M0 0v27h2l1 3l2 11l1 3l1-1l3-13l1-2l1 1l2 4l3 15l1 3h1l1-2l1-4l4-22l1-4l1-1h1l1 3l3 11l1 1h3l1 1l2 8l1 1l1-2l3-19l1-1l2 3h1l5-9l1-1h4l1 1l3 8l1 1l1-1l3-9l1-2l1 7l3 54l1 9l1 2l1-2l1-9l2-27l1 8l1 4l1 1l1-3l3-33l1-1l1 4l2 13l1 3l1 1l2-4l1-4l3-21l1-2l1 1l2 16l1 5l1 1l3-20l1-4h1l2 4l3 14l3 9l1 1l1-3l2-12l2-7l1 1l4 16h1l1-3l2-11l2 5h2l1-2l1 1l2 10h1l2-7l3-15l1-1h2l1-1l3-5l1-1l4-1l4 2l3 6l1 1l1-1l3-6l4-2h2l3 2l1 4l3 22l1 3l1 1l1-1l1-4l3-21l1-5l1-1l6-1l11 1l6-2l36-1z"/>
<path transform="matrix(-1.1108 0.4088 0 -0.51975 421.3 289.3)" d="M0 0v27h2l1 2l2 10l1 3l1-1l3-12l1-1h1l2 6l3 17l1 2h1l1-2l1-5l4-23l1-4l1-1h1l1 3l3 10l1 1h3l1 1l2 9l1 2l1-3l3-19l1-1l3 3l5-9l1-1h4h1l3 8h1l1-1l3-8l1-1l1 5l3 51l1 8l1 2l1-2l1-8l1-16l1-6l1 11l1 4h1l1-1l1-8l2-29l1-2l1 3l2 12l1 3l1 1l2-4l1-3l3-19l1-2l1 2l2 16l1 5l1 1l3-21l1-4h1l1 1l1 3l3 22l1 4l1 1l1-1l4-15l1-2l1 1l3 10l2 1l1-2l3-16l1 4l1 2h2l1-3l1 9l1 5l1 3l1-2l4-21l1-4l1-1h3l3-6l2-1h2l5 3l3 5l1 1l1-1l3-5l4-3h2l2 1l1 3l1 7l3 33l1 6l1 1l1-1l1-6l3-34l1-7l1-3l5-1l13 1l5-2l36-1z"/>
<path transform="matrix(-1.1108 0.4088 0 -0.51975 422.1 289.9)" d="M0 0v27h2l1 2l2 9l1 1h1l3-11l1-1l1 1l2 5l3 15l1 2l1 1l1-2l1-4l4-22l1-3l1-2h1l1 2l3 10l1 1h3l1 1l2 11l1 3l1-2l3-21l1-2l3 2l5-9h1l4-1l1 1l3 6l1 1l1-1l3-7l1-2l1 5l3 47l1 7l1 2l1-2l1-7l1-15l1-5l1 12l1 5h1l1-1l1-8l2-29l1-2l1 3l2 11l1 2l1 1l2-3l1-3l3-17l1-2l1 3l2 19l1 5h1l3-24l1-4h1l2 4l3 21l1 3l1 1l1-1l4-15l1-2l1 2l3 15l1 2l1-1l1-4l2-15l1-4l2 5h2l2 19l1 4l1 1l1-5l3-20l2-9l1-1l3-1l3-6l3-1h2l4 3l3 5l1 1h1l2-4l5-5h2l2 1l1 5l1 10l3 48l1 8l1 2l1-2l1-8l3-49l1-10l1-5l4-1l14 1l5-2l36-1z"/>
<path transform="matrix(-1.1108 0.4088 0 -0.51975 422.9 290.4)" d="M0 0v27h2l1 2l2 8l1 1l1-1l3-9l1-1l1 1l2 4l3 12l2 4l1-1l1-3l5-24l1-2l1 1l1 1l3 10l1 1l3-1l1 1l2 11l1 3l1-2l3-20l1-2l3 1l2-2l3-6h1l4-1h1l3 6l1 1l1-1l3-7l1-1l1 7l3 51l1 9l1 1l1-1l1-9l2-28l1 12l1 6h1l1-1l1-9l1-18l1-10l1-1l1 2l2 9l1 3h1l2-2l1-3l3-15l1-2l1 5l2 23l1 5l1 1l1-7l2-22l1-5h1l2 4l1 4l2 13l1 4h1h1l4-15l1-2l1 1l3 15l1 1h1l1-4l2-14l1-3l2 5l2-1l2 18l1 4l1 1l1-3l2-12l3-13l1-2l3-3l3-5l2-2h3l4 3l3 6h1l6-5l2-3l2-1l2 1l1 4l1 10l3 45l1 8l1 1l1-2l1-7l3-46l1-9l1-5l13-1h5l5-1h11l25-1z"/>
<path transform="matrix(-1.1108 0.4088 0 -0.51975 423.7 291.0)" d="M0 0v28h2l1 1l2 7l1 1l1-1l2-7l1-2h1l3 4l3 10l2 4h1l2-3l1-4l3-16l1-3h1l1 2l3 9l1 1l3-2l1 2l2 10l1 3l1-2l3-19l1-3l3 2l2-2l3-6l1-1h4h1l3 6h1l1-1l3-6l1-1l1 9l3 57l1 9l1 2l1-2l1-9l2-38l1 12l1 7h1l1-2l3-36l1-1l1 2l2 8l1 2l1 1h1l1-1l1-3l3-14l1-2l1 4l2 24l1 7l1 1l1-4l3-30l1-2l3 7l2 12l1 3l1 1l1-1l5-16l1 1l3 13l1 2h1l3-17l1-2l2 4h2l2 16l1 4l1 2l1-2l3-9l3-12l3-6l3-7l1-1l4-1l4 3l3 7h1l2-1h3l1-1l3-7l1-1l2 1l1 4l1 8l3 42l1 7l1 2l1-2l1-7l3-42l1-9l1-4h3l2 1h3l4-2l11-1h11h6l19-1z"/>
<path transform="matrix(-1.1108 0.4088 0 -0.51975 424.5 291.6)" d="M0 0v28h2l1 1l2 7l1 1l1-1l2-7l1-2h1l3 4l3 7l2 4l2 3h1l1-2l1-5l2-14l1-4l1-1l2 4l2 7l1 1l3-2l1 1l2 11l1 2l1-1l3-20l1-2l3 2h1l5-8l4-1h1l3 5h1h1l3-6l1-1l1 11l3 62l1 10l1 3l1-3l1-10l2-42l2 14l1 1l1-3l2-26l1-8l1-1l1 2l2 7l1 2h2l1-1l1-2l3-13l1-2l1 4l2 26l1 9l1 2l1-2l1-6l2-26l1-5l1 1l2 4l2 10l1 3h1h1l5-16l1 1l3 12l1 2h1l3-16l1-1l2 4h2l2 15l1 5l1 1l1-2l5-16l4-5l3-11l1-1l3-1l4 2l1 1l3 9h1l2-3l4-2l3-6l1-1l2 1l1 3l1 8l3 38l1 7l1 1l1-1l1-7l3-38l1-8l1-4l2-1l3 3h2h2l4-4l46-1z"/>
<path transform="matrix(-1.1108 0.4088 0 -0.51975 425.3 292.2)" d="M0 0v28l2 1l1 1l2 6l1 1l1-1l2-7l1-2h1l3 3l7 12l1 1l1-2l1-4l2-13l1-3l1-1l1 1l3 8l1 2l3-3l1 2l2 10l1 2l1-1l3-20l1-2l1 1l2 3l1 1l2-3l2-6l1-1l5-1l3 5h1l1-1l4-6l1 12l3 68l1 12l1 2l1-2l1-12l2-46l1 2l1 7l1 1l1-3l2-25l1-8h1l4 9h1h2l2-5l2-9l1-2l1 4l3 32l1 3l1-2l1-7l2-24l1-4l1 1l3 7l1 5l1 2l1 1l1-1l5-14l1 1l3 11l1 1h1l3-14l1-1l2 4l2 1l2 15l1 4l1 1l3-10l3-9l4-5l3-9l1-1l3-1l4 2l1 1l3 8l1 1l3-4l3-2l3-5h3l1 3l1 7l3 35l1 5l1 1l1-1l1-6l3-35l1-7l1-3l1-1l1 1l3 4h2l2-1l3-4l2-1l45-1z"/>
<path transform="matrix(-1.1108 0.4088 0 -0.51975 426.0 292.8)" d="M0 0v29h2l1 2l2 5l1 1l1-1l2-7l1-2h1l11 14l1-2l1-3l2-11l1-3l1-1l2 3l2 5l1 2l1-1l2-2l1 1l2 9l1 2l1-1l3-18l1-2l1 1l2 7l1 2l1-1l1-2l3-12h1l4-1l3 4l1 1l1-1l4-6l1 13l3 71l1 12l1 2l1-2l1-12l2-48l1-2l1 7l1 1l1-3l2-24l1-7l1-1l1 2l2 5l1 1h3l2-4l2-8l1-1l1 3l3 30l1 3l1-3l3-29l1-3l4 7l2 6l1 1l1-1l5-13l1 1l3 9l1 2l1-1l2-8l1-3l2 6l1 1h2l2 10l1 3l1 1l5-16l1-2l4-4l3-8l1-1l4-1l4 3l3 7l1 1l3-4l3-2l3-4h3l1 2l1 7l3 31l1 5l1 1l1-1l1-5l3-32l1-6l1-3l1-1l4 7l2 1l2-1l3-6l2-2l45-1z"/>
<path transform="matrix(-1.1108 0.4088 0 -0.51975 426.8 293.3)" d="M0 0v29l2 1l1 1l2 6h1l1-1l2-8l1-1l1-1l7 7l4 6l1-1l1-3l2-9l1-3l1-1l2 2l2 6l1 1h1l2-3h1l2 8l1 2l1-1l3-17l1-1l1 1l2 6l1 1h1l1-2l3-11l5-1l3 4h1h1l4-6l1 14l3 74l1 12l1 3l1-3l1-12l2-50l1-7l1 8l1 1l1-3l2-23l1-6l1-1l1 1l2 5l1 1h3l2-3l2-8l1-1l1 3l3 29l1 2l1-3l3-28l1-2l4 6l2 5l1 1l1-1l5-11h1l3 8l1 1h1l2-7h1l2 14l1 3l1-2l1-4l1-2l2 6l1 2l5-16l1-2l4-3l3-7l1-1l4-1l4 3l4 9l1-1l3-5l4-4l2-1h2l1 2l1 6l3 28l1 4l1 1l1-1l1-4l3-29l1-6l1-2h1l4 9l2 2l2-2l4-10l2-1l44-1z"/>
<path transform="matrix(-1.1108 0.4088 0 -0.51975 427.6 293.9)" d="M0 0v29h2l1 1l2 6h1l1-1l2-7l1-2l1 1l3 3l4 2l4 5l2-2l2-8l1-3l1-1l2 2l2 5l1 1h1l2-3l1-1l2 8l1 2l1-2l3-15l1-1l1 1l2 5l1 1l1-1l1-1l3-10l5-1l3 4h1h1l4-6l1 15l3 74l1 12l1 3l1-3l1-12l2-50l1-10l1 8l1 1l1-3l2-22l1-6h1l1 1l2 4l1 1l3 1l2-4l2-6l1-1l1 3l2 22l1 7l1 2l1-4l3-28l1-2l4 5l2 4l1 1l1-1l2-3l3-7h1l3 7l1 1l1-1l2-6h1l2 14l1 2l1-1l1-4l1-2l2 6l1 1l1-2l4-13l1-2l4-2l3-6l1-1l4-1l4 3l4 8l1-1l3-5l5-3l3-1l1 1l1 6l3 25l1 4l1 1l1-1l1-4l3-26l1-5l1-2h1l1 2l3 12l1 1l1 1l1-1l1-1l3-12l1-2l2-2h23h7l14-1z"/>
<path transform="matrix(-1.1108 0.4088 0 -0.51975 428.4 294.5)" d="M0 0v28h2l1 2l2 4l1 1l1-1l2-6l1-2l1 1l3 4h4l4 4l2-2l3-9h2l1 1l2 5l1 2l1-1l2-3l1-1l2 7l1 2l1-2l3-14l1-1l4 6l2-3l2-6l1-2l5-1l3 3l1 1h1l4-5l1 14l3 75l1 12l1 3l1-3l1-12l2-51l1-12l1 8l1 1l1-3l2-21l1-5l1-1l3 6l1 1h3l2-3l2-6h1l1 4l2 25l1 6l1 1l1-4l3-30l1-3l4 4l2 4h1l3-3l3-6h1l3 5l1 1h1l2-6h1l2 12l1 2l1-1l1-4l1-2l2 6l1 1l1-1l3-9l2-5l4-2l3-6h1l3-1l5 4l4 6l1-1l3-4l5-3h3h1l1 5l3 22l1 4l1 1l1-1l1-4l3-23l1-4l1-3l1 2l1 3l3 15l1 3h1l1-1l1-2l3-16l1-3l2-2h22l8 1l8-2h6z"/>
<path transform="matrix(-1.1108 0.4088 0 -0.51975 429.2 295.1)" d="M0 0v28h2l1 1l2 4l1 1l1-1l2-6l1-1l1 1l2 4h1l4-1l4 4l2-2l2-7l1-2h1l2 1l2 7l1 1h1l3-4l3 7l1-1l3-14l1-1l4 5l2-3l2-5l1-2l5-1l3 3l2 1l4-5l1 13l3 73l1 12l1 3l1-3l1-12l2-49l1-13l1 8l1 1l1-3l2-20l1-4l1-1l1 1l2 4l4 2l2-3l2-5h1l1 7l2 28l1 5h1l1-3l3-34l1-4l7 5l3-2l3-5h1l3 4l1 1h1l2-5l1-1l2 10l1 2l1-1l1-4l1-1l3 8l1-1l5-14l4-1l4-7h2l2 1l2 3l3 1l3 4h1l2-4l2-1l4-2h4l1 4l3 20l1 3l1 1l1-1l1-3l3-21l1-4l1-2l1 2l1 4l3 19l1 4h1h1l1-4l3-19l1-4l1-2l1-1h22l8 2l8-3h6z"/>
<path transform="matrix(-1.1108 0.4088 0 -0.51975 430.0 295.7)" d="M0 0v28l2-1l1 1l2 5h1l1-1l2-5l1-1l1 1l2 4l1 1h1l3-3h1l3 4l2-2l2-7l1-2l1-1l2 3l2 7l1 2h1l3-4l3 6l1-1l3-13l1-1h1l3 3l2-2l2-6l1-1l5-1l3 3l2 1l4-4l1 11l3 71l1 12l1 3l1-3l1-12l2-48l1-12l1 7l1 1l1-3l2-18l1-5h1l1 1l2 4l4 1l2-2l2-6h1l1 7l2 27l1 5l1 1l1-4l3-33l1-3l3 2h2l1 1l2 1l2-2l3-4l1-1l4 5h1l2-5h1l2 7l1 2l1-1l1-3l1-1l3 12h1l2-6l3-11l4-2l4-6h3l1 1l2 5l1 1l3-1l2 3l1-1l3-4l4-2l3 2h2l1 1l3 18l1 3h1h1l1-3l3-18l1-4l1-2l1 2l1 4l3 18l1 3l1 1l1-1l1-3l3-18l1-4l2-3h22l8 3l7-3l7-1z"/>
<path transform="matrix(-1.1108 0.4088 0 -0.51975 430.7 296.3)" d="M0 0v27h2l1 1l2 4l1 1l1-1l2-5l1-1l1 1l2 4h2l3-3h1l3 5l1-1l1-2l2-7l1-2l1-1l2 4l2 8l1 2h1l3-4l3 5l1-2l3-12l1-2l4 3l2-2l2-5l1-1l5-1l3 3l2 1l4-4l1 10l3 66l1 11l1 2l1-2l1-11l2-45l1-11l1 7l1 1l1-3l2-17l1-4h1l1 1l2 3l4 1l2-2l2-5l1-1l1 6l2 27l1 5l1 1l1-4l3-31l1-3l5 1l3 2l2-1l3-4l1-1l3 3h2l2-4h1l2 6l1 2l2-4l1 2l3 18l1 1l1-2l1-4l3-18l1-2l3-2l4-5h3l1 2l2 6l1 1h1l2-3l2 2h1l3-4l3-2h1l3 4l3-1l3 15l1 3h1l1-1l1-2l3-16l1-3l1-2l1 2l1 3l3 18l1 3l1 1l1-1l1-3l3-18l1-3l2-3h21l9 4l7-4l7-1z"/>
<path transform="matrix(-1.1108 0.4088 0 -0.51975 431.5 296.8)" d="M0 0v27h2l1 1l2 4l1 1l1-1l2-5l1-1l1 1l2 3l1 1l4-4l1 1l3 5l1-1l1-2l2-8l1-2l1-1l1 2l1 2l2 9l1 2h1l3-4l1 1l2 3l1-1l3-13l1-1l4 3l2-2l2-5l1-1l5-1l3 3h2l4-3l1 8l3 61l1 10l1 2l1-2l1-10l2-41l1-9l1 6l1 1l1-2l2-16l1-4h1l1 1l2 3h4l2-2l2-5h1l1 5l2 26l1 6l1 1l1-4l3-30l1-3l5 1l3 2l3-3l2-2l1-1l3 2h2l2-3l1-1l2 6l1 1l2-2l1 4l2 21l1 6l1 2l1-1l1-5l3-28l1-4l3-2l4-5h3l1 2l2 6l1 1h1l2-3l2 2h1l3-4l3-2l3 6l1 1l4-1l2 10l1 2h1h1l1-3l3-14l1-3l1-1l1 2l1 3l3 17l1 2l1 1l1-1l1-2l3-17l1-4l2-2h21h2l4 4l3 1l7-5l7-1z"/>
<path transform="matrix(-1.1108 0.4088 0 -0.51975 432.3 297.4)" d="M0 0v27h2l1 1l2 4l1 1l1-1l2-5l1-1l1 1l2 4h1l4-4l1 1l3 6l1-1l1-3l2-8l1-3h1l1 1l1 3l2 9l1 2h1l3-5l1 1l2 4l1-1l3-12l1-2l4 3l2-2l2-5l1-1l5-1l3 3h2l4-3l1 6l3 56l1 9l1 2l1-2l1-9l2-38l1-6l1 6l1 1l1-3l2-15l1-3h1l1 1l2 3l4-1l2-2l2-5h1l1 6l2 25l1 6l1 1l1-3l3-30l1-3l8 3l5-5l6 1l2-3l1-1l2 4l1 1l2-1l1 3l2 19l1 7l1 2l1-1l1-5l3-26l1-3l3-2l4-5h3l1 2l2 6l1 1h1l2-3l3 1l5-5l1 1l3 9l1 2h2l2-5l2 6l1 2l1 1l1-1l1-2l3-12l1-3l1-1l1 2l1 3l3 15l1 3h1h1l1-3l3-16l1-3l2-2l11 1l10-1l8 5l8-5l7-1z"/>
<path transform="matrix(-1.1108 0.4088 0 -0.51975 433.1 298.0)" d="M0 0v27h2l1 1l2 4l1 1l1-1l2-5l1-1l1 1l2 5h1h1l2-5h1h1l3 6l1-1l1-2l2-9l1-2l1-1l1 2l1 3l2 8l1 2h1l3-4h1l2 5l1-1l3-12l1-1h1l3 2l1-1l4-7l5-1l3 2l2 1l4-3l1 4l3 50l1 8l1 2l1-2l1-8l2-34l1-2l1 5l1 1l1-3l2-14l1-3h1l3 4h1l4-2l3-6h1l1 5l2 25l1 6l1 1l1-4l3-29l1-3l4 2l2 7l1 2h1h1l1-3l2-8l1-1h2l2 3l1 1l1-1l2-5l1-1l2 3l1 1l2-2l1 3l3 24l1 2l1-1l1-4l3-24l1-3l3-2l4-4h3l1 2l2 5l1 1h1l2-2l3 1l5-5l1 2l3 13l1 3h1h1l1-3l2-7l2 5h2l1-2l3-11l1-2l1-1l1 1l1 3l3 15l1 2l1 1l1-1l1-2l3-15l1-3l2-2h6l5 1l9-1l9 4l8-4l7-1z"/>
<path transform="matrix(-1.1108 0.4088 0 -0.51975 433.9 298.6)" d="M0 0v27h2l1 1l2 4l1 1l1-1l2-5h1l1 1l2 6l1 1l1-1l2-6l1-1l1 1l3 5l1-1l1-3l2-8l1-2l1-1l2 4l2 8l1 3h1l3-5l1 1l2 5h1l3-10l1-2l1-1l3 1h1l3-7l1-1l5-2l4 4l5-4l1 3l3 44l1 8l1 1l1-1l1-8l2-30l1 2l1 5h1l1-3l2-13l1-3h1l3 3l1 1l4-2l3-6h1l1 5l2 25l1 6h1l1-5l3-28l1-2l3 2l1 3l2 14l1 3l1 1l1-1l1-3l3-20h1l1 3l2 9l1 1l1-1l2-11l1-3l3 2l2-2l1 3l3 21l1 3l1-1l1-4l3-22l1-2l3-2l4-4h3l1 1l2 6l1 1l3-3l3 2l5-5l1 4l3 18l1 3l1 1l1-1l1-3l2-13l2 2h2l1-2l3-9l1-2l1-1l1 1l1 3l3 14l1 2h1h1l1-2l3-14l1-3l2-2h6l5 1l8-1l10 3l7-3l8-1z"/>
<path transform="matrix(-1.1108 0.4088 0 -0.51975 434.7 299.2)" d="M0 0v27h2l1 1l2 5h1l1-1l2-4l1-1l1 2l2 9l1 1l1-1l2-9l1-1h1l2 4l1 1l1-1l3-11l1-2h1l2 3l2 8l1 2h1l3-4l1 1l2 7l1 1l1-2l2-7l2-4l4-1l3-8l1-1h2l3-2l4 3l5-3l1 1l3 38l1 6l1 2l1-2l1-6l2-25l2 9h1l1-3l2-13l1-2h1l3 3h1l4-2l3-6l1 1l1 6l2 25l1 5l1 1l1-6l2-23l1-6l1-1l3 4l3 29l1 5l1 1l1-1l1-5l3-31l1-1l3 27l1 2l1-2l3-29l1-1h2l2-1l1 2l3 19l1 3l1-1l1-4l2-14l1-6l1-2l3-1l3-3l2-1h2l1 1l2 5l1 1l3-2l3 1l3-3l1-1h1l1 5l3 23l1 4l1 1l1-1l1-4l2-16l1-4l1 1h2l1-1l3-9l1-1l1-1l1 1l1 3l3 12l1 2l1 1l1-1l1-2l3-13l1-2l2-2h6l5 2l7-2l11 2l7-2l8-1z"/>
<path transform="matrix(-1.1108 0.4088 0 -0.51975 435.5 299.7)" d="M0 0v27h2l1 1l2 5l1 1l1-1l2-5h1l1 2l2 12l1 2l1-2l2-11l1-2h1l2 4l1 1l1-1l3-12l1-2h1l1 1l4 13h1l3-6l1 2l2 7l1 1l1-2l2-7l2-4l1-1l2 1l1-1l1-2l2-5l1-2h2l3-2l4 3h1l3-3h2l3 31l1 5l1 1l1-1l1-5l1-10l1-4l2 7l1-1l1-4l2-12l1-2l2 1l2 2l4-1l2-2l2-5h1l1 6l2 24l1 5h1l1-6l2-21l1-6h1l3 7l3 42l1 7l1 2l1-2l1-7l3-43l1-5l3 23l1 2l1-2l3-25l1-2h2l2-1l1 2l3 18l1 2h1l1-4l2-13l1-5l1-2l3-1l3-3l2-1h2l1 1l2 5l1 1l3-2l3 1l4-4h1l1 5l3 22l1 4l1 1l1-1l1-4l3-20l1 1h2l1-2l4-9h1l1 1l1 2l3 12l1 2h1h1l1-2l3-12l2-3l7-1l5 2l7-2l11 1l7-1l8-1z"/>
<path transform="matrix(-1.1108 0.4088 0 -0.51975 436.2 300.3)" d="M0 0v27h2l1 2l2 5l1 1l1-1l2-5l1-1l1 3l2 11l1 2l1-2l2-10l1-2l1 1l2 4h1l1-1l3-12l1-2h1l2 3l3 11h1l1-1l2-5l1 1l2 7l1 1l1-2l2-7l2-4l1-1h3l1-2l2-5l1-2h2l3-1l4 2h1l3-3l2-1l3 33l1 5l1 2l1-2l1-5l1-10l1 1l1 3l1 1l2-7l2-13l1-2h1l3 4l2-1l2 1l2-2l2-6l1-1l1 5l2 22l1 5h1l1-6l2-20l1-4h1l1 2l2 8l1 9l2 27l1 7l1 1l1-1l1-7l3-41l1-5l3 19l1 2l1-2l3-22l1-1h2l2-1l1 2l3 17l1 3l1-1l1-3l2-12l1-5l1-2l3-1l3-3l3-1l2 1l2 4l1 1l3-1l2 1h1l4-5l1 1l1 4l3 22l1 3l1 1l1-1l1-4l3-20l1 1h2l1-1l4-8l2 1l1 2l3 11l1 2h1h1l1-2l3-11l2-3l7-1l5 2l7-2h11l15-1z"/>
<path transform="matrix(-1.1108 0.4088 0 -0.51975 437.0 300.9)" d="M0 0v28h2l1 1l2 6l1 1l1-1l2-6l1-1l1 3l2 10l1 2l1-1l2-9l1-2l1 1l2 6h1l1-2l3-14l1-2h1l2 3l3 10h1l3-6l1 1l2 8l1 2l1-1l4-13l1-1h3l4-9h2l3-1l4 2l5-4l1 1l3 34l1 5l1 2l1-2l2-9l2 4l1-1l4-25l1-2h1l3 3h2l2 4h1l1-2l2-9l1-2l1 4l2 21l1 5h1l3-25l1-4l1 1l1 3l2 7l1 7l2 25l1 6l1 2l1-2l1-6l3-38l1-4l1 3l2 12l1 2l1-2l3-19l1-1l2 1l2-1l1 1l1 5l2 12l1 3h1l1-3l3-17l1-2l3-1l3-3l3-1l2 1l2 4l1 1l3-1l2 1l1-1l4-4l1 1l1 4l3 20l1 3l1 1l1-1l1-3l3-20l1 1h2l5-8l2 1l1 2l3 10l1 2h1l1-1l1-1l3-10l2-4h7l5 2l7-2l26-1z"/>
<path transform="matrix(-1.1108 0.4088 0 -0.51975 437.8 301.5)" d="M0 0v28h2l1 1l2 6l1 1h1l2-6l1-1l1 1l2 10l1 2h1l2-8l1-1l1 2l2 8l1 1l1-2l3-20l1-3h1l2 3l3 11h1l3-6l1 2l2 8l1 3l1-1l5-16l3 1l1-2l2-6l1-1l2-1l3-1l4 2l5-4l1 1l3 36l1 6l1 1l1-1l1-6l1 5l1 2h1l1-2l1-7l2-19l1-6l1-2l4 3h1l1 2l2 10l1 1l1-2l2-17l1-3l1 3l2 19l1 4h1l3-23l1-3l1 2l4 14l2 23l1 6l1 1l1-1l1-6l3-35l1-4l1 3l2 10l1 1l1-1l3-16l1-1l4-1l1 2l3 15l1 3h1l1-3l3-16l1-2h3l4-4h3l1 1l2 4l1 1h1l2-1h3l4-4l1 1l1 4l3 18l1 3l1 1l1-1l1-3l3-19l3 1l5-7l2 1l1 2l3 9l1 1l1 1l1-1l1-1l3-10l2-3h8l4 2l7-2l26-1z"/>
<path transform="matrix(-1.1108 0.4088 0 -0.51975 438.6 302.1)" d="M0 0v28h2l1 2l2 6l1 1l1-1l3-7l1 1l2 9l1 3h1l2-7l1-1l1 3l2 8l1 1l1-2l3-22l1-3l1-1l1 1l4 13h1l3-5l1 2l2 9l1 2l1-1l5-16l3 1l1-1l3-8h2l3-2l4 2h1l4-4l1 2l3 37l1 6l1 1l1-1l1-6l2 3l1 1l1-3l3-25l1-6l1-2l1 1l3 6l1 1l1 5l2 17l1 1l1-2l2-26l1-7l1 2l2 17l1 4h1l3-22h1l3 12l1 2l1 1l2 18l1 5l1 1l1-1l1-5l3-32l1-3l1 3l2 9l1 1l1-2l3-15l1-1h4l1 1l3 14l1 2h1l1-2l2-10l1-4l1-2l3-1l4-3h3l1 1l3 6h1l2-1l3-1l4-4l1 1l1 3l3 18l1 3h1l1-1l1-2l3-18h3l4-5l1-1l2 1l1 1l3 9l2 2l2-2l3-9l2-3h8l4 1l6-1l27-1z"/>
<path transform="matrix(-1.1108 0.4088 0 -0.51975 439.4 302.7)" d="M0 0v28h2l1 2l2 6l1 1h1l3-8l1 1l2 8l1 2h1l2-6h1l1 3l2 9l1 2l1-2l3-23l1-4l1-1l1 2l3 10l1 2h1l3-6l1 3l2 9l1 3h1l5-17l1-1l2 1l1-1l2-6l1-2h2l3-2l3 3h1h1l4-5l1 2l3 38l1 7l1 1l1-1l1-7l1-1l1 2h1l1-2l3-25l1-6l1-2l1 1l1 4l2 10l2 4l2 10l1 1l1-3l2-23l1-6l1 1l2 16l1 4l1-1l3-20l1 3l2 13l1 4l1 1l1-2l1 2l1 8l1 5l1 1l1-1l1-5l3-29l1-1l1 2l2 9l1 1l1-1l3-16l1-1h4l1 1l3 12l1 2h1l1-2l2-9l1-4l1-1l3-1l4-3l3 1h1l3 7h1l3-2l2-1l4-4h1l1 4l3 16l1 3h1h1l1-3l3-17h4l3-4h3l1 1l3 8l2 2l2-2l3-8l2-3l13 1l32-2z"/>
<path transform="matrix(-1.1108 0.4088 0 -0.51975 440.2 303.2)" d="M0 0v28h2l1 1l2 7l1 1l1-1l3-7h1l2 8l1 1h1l2-6h1l1 2l2 10l1 2l1-2l1-6l2-15l1-4h1l2 5l2 8l1 1l1-1l2-5l1-1l1 3l2 11l1 3h1l2-6l3-13l1-1l2 1l1-1l2-6l1-2h2l3-2l3 4h1l1-1l4-5l1 3l3 39l1 7l1 1l1-1l2-11l1 2h1l1-2l3-25l1-6l1-2l1 1l1 3l2 9l2 5l2 9l1 1l1-3l2-21l1-5l1 1l2 14l1 4l1-1l3-18l3 23l1 3l1 1l1-1l1-4l2 8l1 1l1-1l1-5l3-26l1 1l1 3l2 10l1 1l1-2l3-18l1-2l4 1l1 1l3 11l1 2h1l1-2l2-9l1-3l1-1l3-1l3-2h4h1l3 9l1 1l3-5l6-5h1l1 3l3 16l1 2l1 1l1-1l1-3l3-15l4-1l3-3l4 1l3 7l2 2l2-2l3-7l2-3l22 1l6-1l17-1z"/>
<path transform="matrix(-1.1108 0.4088 0 -0.51975 440.9 303.8)" d="M0 0v28h2l1 1l2 6l1 2l1-1l3-7h1l2 7l1 1l1-1l2-6h1l1 3l2 9l1 2l1-2l3-20l1-3l1 1l4 16h1l3-9l1-1l1 3l2 10l1 3h1l5-18l1-1l2 1l1-1l2-6l1-1l2-1l3-2l3 5h1h1l4-7l1 2l3 40l1 6l1 1l1-1l1-6l1-3l1 2h1l1-3l3-26l1-6l1-1h1l1 3l2 8l2 4l2 8l1 1l1-3l2-19l1-4l1 1l2 13l1 4h1l2-13l1-2l3 29l1 4l1 1l1-1l2-13l1 4l1 1l1-1l1-4l3-23l1 1l1 5l2 12l1 1l1-2l2-16l1-6l1-2l4 1l1 1l3 10l1 2l1-1l1-2l2-7l1-3l1-1l3-1l4-2h3l1 1l1 3l2 8l1 1l1-1l2-6l4-5l2-1h1l1 3l3 14l1 2l1 1l1-1l1-2l3-14l4-2l2-2l5 1l3 6l2 2l2-2l3-7l2-2h17l6 1l5-1l17-1z"/>
<path transform="matrix(-1.1108 0.4088 0 -0.51975 441.7 304.4)" d="M0 0v27l2 1l1 1l2 6l1 2l1-1l3-6h1l2 5l1 1l1-1l2-6h1l1 2l2 9l1 2l1-2l1-4l2-14l1-2h1l4 15l1 1l3-9l1-1l1 3l2 10l1 3l1-1l4-16l1-2l3 1l1-1l2-5l1-2h2l3-3l3 7h1h1l3-8l1-1l1 2l3 39l1 6l1 2l1-2l1-6l2 2h1l1-2l3-28l1-7l1-2l1 1l1 2l2 7l2 3l2 8h1l1-2l2-17l1-4l1 1l2 13l1 3h1l2-12l1-2l3 28l1 5l1 1l1-2l1-4l1-9l1 3h1h1l1-4l3-20l1 1l3 15l1 1l1-2l3-21l1-1l4 1l1 1l3 9l1 2l1-1l1-2l2-7l1-2l1-1l3-1l4-3h3l1 1l1 3l2 8l1 1l1-1l2-5l4-5l2-1h1l1 3l3 13l1 2h1h1l1-2l3-14l6-3l3 2l2-1l3 6l2 1l2-2l3-6l2-2h17l6 1l5-1l17-1z"/>
<path transform="matrix(-1.1108 0.4088 0 -0.51975 442.5 305.0)" d="M0 0v27h2l1 2l2 6l1 2l1 1l2-5l1-1h1l2 4h1l1-1l2-7h1l1 2l2 8l1 2l1-1l1-5l2-12l1-2h1l1 2l3 13l1 1l1-2l2-7l1-1l1 3l2 11l1 2l1-1l3-14l2-5l3 2h1l3-7h2l2-3h1l3 8l1 1l1-1l3-9l1-2l1 2l3 38l1 6l1 2l1-2l1-6l1-1l1 2l1 1l1-3l3-26l1-6l1-3l1 1l3 8l2 3l2 6h1l1-2l2-16l1-3l1 1l2 13l1 3h1l2-11l1-2l3 26l1 4l1 1l1-1l1-4l1-8l2 1l1-1l1-3l3-17h1l1 4l2 10l1 1l1-2l3-19l1-1l4 1l1 2l3 8l1 1l2-3l2-6l1-3h1l3-1l4-3h3l1 1l3 11l1 2l1-1l2-6l1-1l4-5h2l1 2l3 12l1 2l1 1l1-1l1-2l3-12l1-1h2l3-2l3 1h2l3 5l2 1l2-1l3-6l2-2h17l6 1l6-1l16-1z"/>
<path transform="matrix(-1.1108 0.4088 0 -0.51975 443.3 305.6)" d="M0 0v27h2l1 2l3 9l1 2l2-3l2-2l2 2h1l1-2l2-7l1-1l1 2l2 7l1 2l1-1l1-4l2-11l1-3h1l2 7l2 10l1 1l1-2l2-7l1-1l1 3l2 12l1 2l1-2l3-16l2-4l3 3h1l3-6l2-1l2-4l1 1l3 10l1 1l1-1l3-11l1-2l1 1l3 37l1 7l1 1l1-1l1-7l1-3l1 2l1 1l1-3l3-24l1-6l1-2l1 1l1 2l2 5l2 2l2 6h1l1-3l2-14l1-3l1 2l2 12l1 3h1l2-10l1-3l3 25l1 4l1 1l1-1l1-4l1-8l3-1l1-3l2-11l1-4l1 1l1 3l2 9h1l1-1l3-17l1-1l4 2l4 10h1l2-3l3-9h1l3-1l4-3h3l1 1l3 12l1 1l1-1l2-6l1-1l4-5h2l1 2l3 11l1 2h1h1l1-2l3-11l6-3h5l3 5l2 1l2-1l3-5l2-2h17l6 1l6-1l16-1z"/>
<path transform="matrix(-1.1108 0.4088 0 -0.51975 444.1 306.1)" d="M0 0v27h2l1 2l3 11l1 3h1l3-2h2l1-1l3-12l1-1l1 2l2 6l1 1l1-1l3-14l1-2h1l1 2l1 4l2 12l1 1l1-1l2-9l1-1l1 3l2 12l1 1l1-2l2-12l2-7l1-1l3 4h1l3-5l2-2l2-3h1l3 10l1 1l1-1l3-11l1-2l1 1l3 37l1 6l1 1l1-1l2-12l1 2l1 1l1-3l4-27l1-2l1 1l3 7l2 2l2 4l1-1l1-2l2-12l1-3l1 1l2 12l1 4h1l2-10l1-3l3 23l1 4l1 1l1-1l1-4l1-8l1-1h2l1-3l2-10l1-3l1 1l1 2l2 8l1 1l1-2l3-15h1l4 2l1 1l3 7l1 1l2-4l3-8l4-1l4-3h3l1 1l3 14l1 1l1-1l2-7l1-2l4-5l2 1l1 1l3 10l1 2h1h1l1-2l2-7l1-2l6-4h5l3 5l2 1l2-1l3-5l2-2h17l6 1l6-1l16-1z"/>
<path transform="matrix(-1.1108 0.4088 0 -0.51975 444.9 306.7)" d="M0 0v27h2l1 2l4 17l3 1l3-1l1-3l3-14l1-1l1 1l2 4l1 1l1-1l3-12l1-2h1l1 2l1 4l2 12l1 2l1-2l2-8l1-1l3 15l1 1l1-3l2-13l2-6l1-1l3 3h1l2-4l3-2l2-3h1l3 9l1 1h1l3-11l1-1h1l3 36l1 6l1 1l1-1l2-14l1 2l1 1l1-3l4-24l1-1l1 1l3 8h2l2 2l1-1l1-2l2-11l1-2l1 1l2 12l1 4h1l3-14l3 22l1 3l1 1l1-1l1-3l1-7l1-3h2l1-2l2-9l1-1h1l1 2l2 6l1 1l1-2l2-10l1-3l3 3h3l3 7h1l2-3l3-8l4-1l4-3h3l1 2l3 15l1 2l1-2l2-8l1-3l4-4h3l3 10l1 1l1 1l1-1l1-1l2-7l7-5h5l3 4l2 1l2-1l3-4l2-2l6 1l12-1l6 1l5-1l16-1z"/>
<path transform="matrix(-1.1108 0.4088 0 -0.51975 445.6 307.3)" d="M0 0v28h2l1 1l4 16l4 4h2l1-3l3-16l1-2h1l2 4l1 1l1-1l3-12l1-2h1l1 2l1 4l2 12l1 2l1-2l2-7l1 1l2 13l1 4l1 1l1-4l2-15l2-7l1-1l3 2h1l2-4l1-1h2l2-3h1l3 9l1 1l1-1l3-9l2-3l3 36l1 6l1 2l1-2l1-6l1-11l2 4l1-2l3-18l1-4l1-1l4 11h1l1-1h2l1-1l1-3l2-10l1-2l1 2l2 13l1 3l1 1l3-14l3 19l1 3l1 1l1-1l1-3l1-7l1-3h2l3-9l1-1h1l1 1l2 6h1l1-1l2-9l1-2l2 5l1 1h1l2-3l3 5h1l2-3l3-7l4-1l4-3h3l1 2l3 18l1 2l1-2l2-10l1-3l4-4h3l3 8l2 2l2-2l2-6l3-1l4-4h5l3 4h2l2-1l3-4l2-1h18l6 2l5-2l16-1z"/>
<path transform="matrix(-1.1108 0.4088 0 -0.51975 446.4 307.9)" d="M0 0v28h2l1 1l3 12l1 2h2l2 4l2 1l1-3l3-15l1-2h1l2 3l1 1l1-1l3-11l1-2h1l1 2l1 3l2 12l1 2l1-1l2-6l1 2l2 17l1 4l1 1l1-5l2-16l2-9l1-2l3 1l1-1l2-4l1 1l1 2l1 1l1-1l2-5l1 2l2 5l1 1h1l3-9l2-3l3 36l1 5l1 2l1-2l1-5l1-11h1l1 1l1-2l3-16l1-3h1l4 15l1-1l2-4l2-3l1-3l2-9l1-2l1 2l2 14l1 4h1l2-11l1-3l1 3l2 13l1 3l1 1l1-1l1-3l2-10h2l4-8h1l1 1l2 5h1l1-1l2-8l1-1l2 10l1 2l1-1l2-8h1l2 3l1 1l2-3l3-7l4-1l4-3h3l1 2l3 17l1 2l1-2l2-9l1-2l4-3h4l2 5l1 1h2l3-6l3-1l4-4h5l3 3l2 1l2-1l3-4l2-1h18l6 2l5-2l16-1z"/>
<path transform="matrix(-1.1108 0.4088 0 -0.51975 447.2 308.5)" d="M0 0v28h2l1 2l3 10l1 1l2-1l3 6l1 1l1-3l3-14l1-2h1l3 3l1-1l3-11l1-1h1l1 1l1 4l2 11l1 2l1-1l2-5l1 2l2 18l1 4l1 1l1-4l3-20l2-8h3l2-3h1l2 10l1 2l1-2l2-12h1l2 5l1 1h1l3-8l2-4l3 35l1 6l1 1l1-1l1-6l1-11l1-2l1 1l1-1l3-14l1-2l1 1l3 17l1 3l1-1l2-9l3-9l2-8l1-2l1 3l2 16l1 5h1l3-17l1 2l2 11l1 3l1 1l1-1l1-3l1-6l1-3l2 1l2-2l2-5l1-1l1 1l2 4h1l1-1l2-7l1 1l2 17l1 2l1-2l2-14l1-2l2 2l1 1l2-3l3-6l4-1l4-3h3l1 2l3 16l1 1l1-1l2-8l1-1l2 1l3-2l3-3l3 5h2l3-6h3l4-3l5-1l3 3h2h2l4-4l2-1h17l6 2l5-2l16-1z"/>
<path transform="matrix(-1.1108 0.4088 0 -0.51975 448.0 309.1)" d="M0 0v28l2 1l1 2l2 8l1 2h1l2-2l4 6l1-2l3-14l1-1l4 2l1-1l3-10l1-1h1l1 1l1 3l2 11l1 2l1-1l2-5l1 2l2 17l1 4l1 1l1-4l3-19l2-7h3l2-4h1l2 11l1 2l1-2l2-11l1-1l2 5l2 1l3-8l2-4l3 34l1 6l1 1l1-1l1-6l1-10l1-4l1 2l1-1l3-12l1-2l1 3l3 23l1 3l1-2l4-23l3-11l1-2l1 4l2 20l1 5h1l3-21l1 1l2 9l1 3l1 1l1-1l1-3l1-5l1-2l2 3l1-1l1-1l2-6l1-1h1l2 3h1l1-1l2-6l1 1l2 18l1 3l1-2l2-16l1-3l2 3h1l2-2l3-6l4-1l4-3h3l1 2l3 14l1 2l1-1l2-7l1-1h2l3-1l3-3l3 4h2l3-5l3 1l4-3l5-2l3 2l2 1l2-1l4-4h2h18l5 2l5-2l16-1z"/>
<path transform="matrix(-1.1108 0.4088 0 -0.51975 448.8 309.6)" d="M0 0v28h1l1 1l1 3l2 10l1 2h1l2-5h1l2 5l1 1l1-3l3-13l1-2l4 3l1-2l3-9l1-1l1-1l1 2l1 3l2 10l1 2h1l2-5l1 2l2 15l1 4h1l1-3l2-14l2-8l1-1l3-1l2-4h1l2 8l1 2l1-1l2-10h1l2 5l2 1l5-11l3 33l1 6l1 1l1-1l1-6l1-10l1-6l1 2h1l3-10h1l1 4l2 21l1 6l1 2l1-2l1-5l3-24l3-12l1-1l1 5l2 25l1 5h1l1-6l2-19l1-2l2 8l1 2l1 1l1-1l1-3l1-4l1-1l2 3l1-1h1l2-6l1-2h1l2 2h1h1l2-6l1 2l2 20l1 3l1-3l2-18l1-3l3 3l2-2l3-6l4-1l4-3h3l1 2l3 13l1 2l1-1l2-7l1-1l5-1l3-2l3 3h2l3-5l3 2h1l8-5l3 2h2h2l4-4h2h18l5 1l5-1l16-1z"/>
<path transform="matrix(-1.1108 0.4088 0 -0.51975 449.6 310.2)" d="M0 0v28h1l1 2l1 4l2 13l1 1l1-1l2-7h1l3 5l1-3l3-14l1-1l3 3h1l1-2l3-9l1-2h1l1 2l1 2l2 10l1 2h1l2-5l1 2l2 14l1 4h1l1-4l2-13l2-5l3-2l4-6l2 7l1 1l1-1l2-8l1 1l2 4l2 1l1-1l4-9l3 38l1 6l1 2l1-2l1-6l2-22l1 2h1l2-5l2 4l1 1l3 21l1 2l1-2l1-5l3-24l3-11l1-1l1 8l2 29l1 5h1l1-5l2-24l1-4l3 7l1 1l1-1l1-2l1-5l3 3h2l3-6l1-1l2 1l2-1l2-5l1 2l2 18l1 2l1-2l2-17l1-2l2 2h2l1-1l3-5l8-5l3 1l1 1l3 12l1 1h1l2-6l1-1l5-1l3-3l3 4h2l3-5l4 2l6-3l2-2l5 2h2l4-4h2h18l5 1l5-1l16-1z"/>
<path transform="matrix(-1.1108 0.4088 0 -0.51975 450.3 310.8)" d="M0 0v29h1l1 2l3 17l1 1l1-1l2-7h1l2 4l1 1l1-3l3-15l1-1l3 4h1l1-2l3-10l1-2h1l1 1l1 3l2 9l1 2h1l2-4l1 1l2 13l1 4h1l3-16l1-2l3-1l5-10l2 6l1 1l1-1l2-7l1 1l2 4l2 1l5-8l3 42l1 7l1 1l1-1l1-7l2-28l2 2l1-1l3 14l1 1l1-1l1 1l1 6l1 3l1-2l1-5l3-23l3-11h1l1 8l2 31l1 4h1l1-3l2-24l1-7l1 1l2 4h1h1l2-6l3 3l2 1l4-6l4-2l2-5l1 2l2 15l1 3l1-3l2-15l1-2l3 3h2l4-6l7-5h2l2 2l3 12l1 1l1-1l2-6l6-3l3-2l2 3l2 1l2-1l2-4h1l2 3h1l3-3l5-2l4 2h2l6-4h18h6h5l16-1z"/>
<path transform="matrix(-1.1108 0.4088 0 -0.51975 451.1 311.4)" d="M0 0v29h1l1 2l3 17l1 1l1-1l2-6l1 1l2 5l1 1l1-4l2-12l1-4l1-1l2 5l1 1l1-1l1-2l3-12l1-2h1l1 1l1 3l2 8l1 3l1-1l2-4l1 2l2 12l1 3h1l3-14h1l1 2h1l1-1l3-10l2-4l2 4l1 1l1-1l2-5h1l2 4l2 1l1-1l3-5l1 1l3 45l1 7l1 2l1-2l1-7l2-31l1-2l1 1l1 3l2 24l1 5l1 2l1-2l2-12l1 3l1-2l1-5l3-23l3-11l1 1l1 7l2 31l1 4h1l1-3l2-24l1-7l3 5l2-1l1-2l3 3h3l5-8l3-1l2-4l1 1l2 13l1 2l1-2l2-13l1-2l3 4h2l5-7l6-5h2l2 2l3 11l1 1l1-1l2-5l9-6l2 3l2 1l2-1l2-3h1l2 4l1 1l1-1l2-4l5-2l5 1l8-3l44-1z"/>
<path transform="matrix(-1.1108 0.4088 0 -0.51975 451.9 312.0)" d="M0 0v29h1l1 2l3 15l1 2l1-1l2-5l1 1l2 6l1 1l1-3l2-13l1-5l1 1l2 6l1 1l1-1l1-3l2-10l1-4l1-1l1-1l1 1l1 2l2 9l1 2h1l2-4l1 2l2 11l1 3h1l2-11l1-3l2 4l1 1l1-1l2-8l3-8l3 4l1-1l2-5h1l2 4l2 1l4-5l1 2l3 49l1 8l1 1l1-1l1-8l2-34l1-6l1 1l3 47l1 8l1 2l1-2l1-8l1-15l1-8l1-1l1-5l3-24l3-10h1l1 8l2 29l1 5h1l1-4l2-23l1-7l1 2l2 4l2 1l4 3l3-3l5-9h3l2-3l1 1l2 10l1 1l1-2l2-12l1-1l4 6h1l1-1l4-8l6-5h2l2 3l3 10h1l1-1l2-4l8-6h1l2 3l2 1l2-1l2-3h1l2 3l1 1l1-1l2-4l5-2l5 2l8-3l44-1z"/>
<path transform="matrix(-1.1108 0.4088 0 -0.51975 452.7 312.5)" d="M0 0v28h1l1 2l3 14l1 2l1-1l2-5l1 1l2 7l1 1l1-2l3-17h1l2 5l1 1h1l4-17l1-1l1-1l1 1l1 2l2 8l1 2h1l2-3l1 2l2 10l1 3l1-1l2-10l1-2l2 6l1 1l1-1l2-10l3-8l3 2h1l2-5l1 1l2 3l2 1l4-4l1 3l3 52l1 9l1 2l1-2l1-9l2-35l1-10l1 1l3 44l1 8l1 1l1-1l1-8l1-14l1-4l1-1l1-4l3-26l3-9h1l1 6l2 28l1 5l1 1l1-5l2-22l1-6l1 1l5 15l2 2l1-1l5-15l3-5h1l2 3h1l1-1h1l2 7h1l1-3l2-10l1-1l4 5l1 1l1-1l4-8l4-4l2-1l3 1l1 2l3 9l1 1l3-5l8-7l3 3l2 1l2-1l2-3h1l2 4h1h1l2-4l1-1l4-1l5 2l8-3l44-1z"/>
<path transform="matrix(-1.1108 0.4088 0 -0.51975 453.5 313.1)" d="M0 0v28h1l1 1l1 4l2 10l1 1l1-1l2-4l1 1l3 7l1-2l3-15h1l2 5l1 1l1-1l1-2l3-13l1-2l1-1l1 1l1 2l2 8l1 2h1l2-2l1 1l2 10l1 3l1-1l2-10l1-2l2 8l1 2l1-1l2-12l1-4l2-6l1 1l2 2l1-1l2-4h1l2 3l2 1l4-3l1 4l3 56l1 10l1 2l1-2l1-10l3-51l1 2l3 40l1 7l1 1l1-1l1-8l1-13l1 3h1l1-4l3-29l3-9l1-1l1 6l2 26l1 6h1l1-5l2-21l1-6l1 2l1 4l4 21l2 3l1-2l1-4l4-21l2-4l1-1l1 1l2 7l1 1l2-1l2 2l2-5l2-9l1-1l3 4l2 1h1l4-7l4-5l2-1l3 1l1 2l3 8l1 1l3-4l2-1l3-4l3-2l3 3l2 1l2-1l2-3h1l2 3l1 1l1-1l3-4l4-1l5 2l8-3l44-1z"/>
<path transform="matrix(-1.1108 0.4088 0 -0.51975 454.3 313.7)" d="M0 0v28l2 1l1 3l2 9l1 2l1-1l2-5l1 1l3 7l1-2l3-14l1 1l2 4l1 1h1l1-3l3-12l1-2l1-1l1 1l1 2l2 7l1 2l1 1l2-1l1 2l2 9l1 2l1-2l2-10l1-2l2 8l1 2l1-1l2-11l1-4l2-6h1l2 2l3-4h1l2 3l1 1l5-4l1 7l3 59l1 10l1 2l1-2l1-10l3-56l1 2l1 9l2 26l1 7l1 1l1-2l1-6l1-12l1 4h1l1-4l3-26l3-7l1-1l1 4l2 23l1 6h1l1-4l2-21l1-5l1 2l1 4l3 19l1 4l2 3l1-1l1-3l2-10l2-14l2-6l1-1l1 1l2 6l1 1l2-1l2 2l2-5l2-8h1l3 4l2 1l1-1l4-6l6-6h2l2 2l3 8l1 1l5-3l3-5l3-2l3 2l2 1l2-1l2-2h1l3 4l1-1l3-3l4-2l5 1l8-2l44-1z"/>
<path transform="matrix(-1.1108 0.4088 0 -0.51975 455.1 314.3)" d="M0 0v28h2l1 3l2 9l1 1h1l2-5l1 1l3 7l1-2l3-13h1l2 5h1h1l1-2l3-12l1-2l1-1l1 1l1 2l3 9l3 3l1 2l2 8l1 1l1-3l2-11l1-2l2 8l1 2l1-1l2-10l3-10h1l2 1l3-3l3 4h1h1l2-3l2-2l1 7l3 59l1 10l1 2l1-2l1-10l3-56l1 3l1 7l2 24l1 6l1 1l1-2l1-6l1-10l1 5l1-1l1-3l2-17l1-4l2-1l2-5l1 2l2 19l1 5l1 1l1-5l2-20l1-5l1 2l1 4l4 22l2 4h1l1-2l1-4l1-5l2-16l1-4l1-2l1-1h1l2 6h1l2-1l2 2l2-5l2-6h1l3 3l2 1l5-6l6-6h2l2 2l3 7l2 1h3l1-1l3-6l3-2h1l2 2l2 1l5-3l2 3l2 1l3-3l5-3l4 1l8-2l44-1z"/>
<path transform="matrix(-1.1108 0.4088 0 -0.51975 455.8 314.9)" d="M0 0v28h2l1 2l2 9l1 2l1-1l2-4h1l3 6l1-2l3-12h1l3 5h1l1-2l3-11l1-2l1-1l1 1l1 2l3 9l3 2l1 2l2 8h1l1-2l2-12l1-2l2 9l1 2l1-1l3-13l2-6h1l2 1l3-3l3 5l1 1l1-1l3-6h1l1 7l3 57l1 10l1 2l1-2l1-10l3-55l1 3l1 6l2 21l1 6l1 1l1-2l2-14l1 5h1l1-3l2-11h1l1 4l1 2l3-12l1 4l2 13h1l1-4l2-20l1-4l1 2l1 3l4 20l2 4l1 1l1-2l1-4l1-4l2-16l1-4l1-2l1-1l1 1l2 4l1 1l2-1l2 1l2-4l2-5h1l3 3l2 1l11-12l3 1l2 2l2 5l5 2l1-1l3-5l4-3l2 2h2l5-2l4 5l8-7l5 1l7-2l44-1z"/>
<path transform="matrix(-1.1108 0.4088 0 -0.51975 456.6 315.4)" d="M0 0v28h2l1 2l2 8l1 2h1l2-5h1l3 5l1-1l3-11h1l2 3l2 1l1-2l3-10l1-2l1-1l1 1l1 2l3 10l1 1h2l1 1l2 7l1 1l1-3l2-11l1-2l2 9l1 2h1l3-13l2-5l1-1l2 1l3-3l3 9h1h1l3-10l1-1l1 7l3 57l1 9l1 2l1-2l1-9l3-55l1 2l1 6l2 19l1 5l1 1l1-1l2-12l1 5h1l2-5l1 1l2 11l1 2l1-2l2-14l1-3l2 8h1l1-4l2-19l1-4l1 1l1 3l4 18l2 5h1l1-1l1-4l1-4l2-15l1-3l1-2l1-1l1 1l2 3l1 1l2-2l2 1l4-7l4 4h2l11-12h2l2 1l3 6l5 3h1l3-5l4-3l5 1l3-3l1 1l4 4l8-5h5l6-2h19l26-1z"/>
<path transform="matrix(-1.1108 0.4088 0 -0.51975 457.4 316.0)" d="M0 0v27l2 1l1 1l2 9l1 2l1-1l2-4l1-1l1 1l2 4l1-1l3-11h1l3 4h1l1-1l3-10l2-3l1 1l1 2l3 11l1 1l2-1l1 1l2 6l1 1l1-3l2-10l1-2l2 8l1 2h1l5-17l1-1l2 1l2-2h1l3 12l1 1l1-1l3-13l1-2l1 7l3 56l1 9l1 2l1-2l1-9l3-52l1 5l1 2l2 14l1 5l1 1l1-1l2-10l1 6h1l2-6l1 1l2 10l1 3l1-3l2-13l1-3l2 9l1 1l1-5l2-18l1-4l1 1l2 6l3 12l2 5l1 1l1-1l1-3l1-5l2-13l2-5l1-1l1 1l2 2h1l2-1h2l4-6l4 6h2l3-4l4-4l4-5l4 1l3 5l5 6h1l3-5l5-6l4 1l3-2l5 5l9-6l4 1l5-2h20l26-1z"/>
<path transform="matrix(-1.1108 0.4088 0 -0.51975 458.2 316.6)" d="M0 0v27h2l1 2l2 8l1 2h1l2-5l1-1l1 1l2 4l1-1l3-10h1l3 4h1l2-4l2-6l2-3h1l1 2l3 14l1 1l3-4l2 6l1 1l1-2l2-11l1-2l2 8l1 2h1l5-16l1-1l2 1l2-3h1l3 11l1 1l1-1l3-12l1-1l1 7l3 54l1 9l1 2l1-2l1-9l2-37l1-5l1 6l1 4h2l1 4l1 1l1-1l2-7l1 6l1 1l2-6l1-1l2 9l1 2l1-2l2-13l1-1l2 10l1 1l1-4l2-19l1-4l1 1l1 2l5 16l1 3l1 1l1-1l1-3l1-4l2-12l2-5l2-1l2 3l1-1l2-2l2 1l4-4l1 1l3 9l1 1l1-1l3-9l1-2l7-7l4 1l3 5l5 7l1-1l3-6l4-5h1l3 1l4-1l5 4l9-6h4l6-1l8 1l37-2z"/>
<path transform="matrix(-1.1108 0.4088 0 -0.51975 459.0 317.2)" d="M0 0v27h2l1 2l2 8l1 2l1-1l2-5l1-1l1 1l2 5l1-1l3-10l1-1l4 5l2-3l3-9l1-1h1l1 2l3 17l1 1l1-1l2-5l1 1l1 4l1 2l1-2l2-11l1-3l3 9h1l5-15l1-1l2 1l2-3h1l3 9l1 1l1-1l3-10l1-1l1 6l3 54l1 9l1 2l1-2l1-9l2-36l1 3l1 9l1 5l1 1l1-1l2-11l1-1l1-4l1 2l1 6l1 1l1-2l2-7l3 8l1-2l2-11l1 1l2 12h1l1-4l2-19l1-5h1l1 3l6 16l1 1l1-1l1-2l3-9l2-10l1-1h1l2 2l3-3l2 1l3-3h1l1 3l2 12l1 4l1 1l1-1l3-17l1-3l7-7l4 1l3 5l5 6h1l3-6l4-5l4 1l3-1l6 4l6-5l3-1h4l6-1l8 1l37-2z"/>
<path transform="matrix(-1.1108 0.4088 0 -0.51975 459.8 317.8)" d="M0 0v27h2l1 2l2 7l1 2l1-1l2-5l1-1l1 1l2 5h1l3-9l1-2l4 5h1l4-12l1-1h1l1 2l3 16l1 1l1-1l2-5l1 2l1 4l1 3l1-1l3-16l1 1l2 7l1 1l5-15l1-1h2l3-2l3 8l1 1l1-1l3-9l1-1l1 6l3 53l1 8l1 2l1-2l1-8l2-36l1 3l1 8l1 5h1l1-1l2-12h1l1-4l1 2l1 7l1 1l1-2l2-7l1 1l1 4l1 2l1-3l2-9l1 3l2 14l1 1l1-4l2-20l1-7h1l1 2l6 14l1 2l1-1l2 2l1-1l1-4l2-13l1-4l1-1l2 2l3-3h2l3-2l1 1l1 3l2 12l1 4l1 1l1-2l3-17l1-3l7-6l4 1l6 9l2 2l1-1l3-6l4-4l4 1l3-1h2l4 4l6-5l3-1h4l7-1l10 1l6-1l28-1z"/>
<path transform="matrix(-1.1108 0.4088 0 -0.51975 460.5 318.4)" d="M0 0v27h2l1 2l2 8l1 1l1-1l2-6l1-1l1 2l2 5h1l3-9l1-1h1l3 5l1-1l1-2l3-9l1-2h1l1 2l3 15l1 1l1-1l2-5l1 3l2 9l1-1l3-18l1 1l2 6l1 1l1-1l4-13l1-1h2l3-2l3 7h1h1l3-8h1l1 6l3 56l1 10l1 2l1-2l1-10l2-38l1-1l1 7l1 5h1l1-1l1-4l1-8l1-1l1-2l1 2l1 6l1 1l1-1l2-7l1 1l1 3l1 1l2-7l1-2l3 21l1 1l1-3l3-30l1-1l4 7l3 7l1 1l3 2l1-1l1-3l3-13l1-3h2l3-2h2l3-2l1 1l1 4l2 12l1 4l1 1l1-2l3-18l1-3l7-6h2l2 1l6 10l2 1l3-6l5-6l3 1l4-1l2 1l5 5l2-1l3-5l4-2h10l10 1l7-1l27-1z"/>
<path transform="matrix(-1.1108 0.4088 0 -0.51975 461.3 318.9)" d="M0 0v27h2l1 2l2 9l1 2l1-1l2-8l1-1l1 1l2 6h1l1-2l2-7l1-1h1l3 5l1-1l1-1l3-10l1-2h1l1 3l3 14l1 1l3-6l1 2l2 9l1-1l3-17h1l2 6l1 1l2-4l3-9l1-1h2l3-3l3 7h1h1l3-7l1-1l1 9l3 60l1 10l1 2l1-2l1-10l2-41l1-6l1 7l1 3l1 1l1-1l1-4l1-7l2-4l1 2l1 6l1 2l1-2l2-5l3 3l2-6l1-2l2 16l1 6l1 1l1-3l3-29l1-1l4 6l3 6l2 3l2 7l1 2l1-1l1-3l3-21l1-2h2l2-3l5-1l1 1l1 4l2 13l1 4l1 1l1-2l3-18l1-3l3-2l4-5h2l2 1l7 12h1l3-7l5-6l3 1h6l5 4l2-1l3-4l4-2h11l10 1l6-1l27-1z"/>
<path transform="matrix(-1.1108 0.4088 0 -0.51975 462.1 319.5)" d="M0 0v27h2l1 2l2 11l1 2l1-1l2-10l1-2l1 1l2 6h1l1-2l2-6l1-2h1l3 5h1l1-2l3-9l1-2l1 1l1 2l3 15h1l3-7l1 3l2 8h1l3-17h1l2 5l1 1l2-3l3-9l1-1h2l3-3l3 6h1h1l3-6l1-1l1 10l3 64l1 11l1 2l1-2l1-11l2-43l1-12l1 7l1 3l1 1l1-1l1-3l1-7l2-4l1 2l1 6l1 1l1-1l2-4l2 2h1l2-6l1-1l2 16l1 6h1l1-3l3-27l1-1l2 8l1 3h1l2-2l1 2l2 2l2 6l1 2l1-1l1-3l3-18l1-2l2-1l2-2l5-1l1 1l1 4l2 11l1 4l1 1l1-2l3-17l1-2l3-2l3-4l2-1l3 1l4 7l2 6l1 1h1l3-9l5-6l6 3l4-2l4 4l2-1l3-4l4-2h12l9 1l6-1h10l17-1z"/>
<path transform="matrix(-1.1108 0.4088 0 -0.51975 462.9 320.1)" d="M0 0v27h2l1 2l2 11l1 1l1-1l2-10l1-1l1 1l2 4l1 1l1-2l2-6l1-2l1 1l3 4h1l4-11l1-1l1 1l1 3l2 12l1 3h1l3-8l1 2l2 9h1l3-16h1l2 4h1l2-2l3-9l1-1h2l3-3l3 5l1 1l1-1l4-6l1 11l3 68l1 11l1 3l1-3l1-11l3-62l1 6l1 3l1 1l1-1l1-3l1-6l2-4l1 2l1 5l1 2l3-3l2 1l1-1l2-7h1l3 22l1 1l1-3l3-26l1 4l2 15l1 4h1l1-1l1-3l1-7l1-2h1l1 2l1 3l1 2l1-1l1-3l3-15l2-1l3-5h1h4l1 1l1 4l2 10l1 3h1l1-1l3-15l1-2l3-2l3-4l2-1h2l2 2l3 6l2 6l1 2l1-1l3-8l3-3l2-3l1-1l3 4l2 1l2-1l2-3h1l2 3h2l4-4l4-1h6l6-1l9 1l6-1h10l17-1z"/>
<path transform="matrix(-1.1108 0.4088 0 -0.51975 463.7 320.7)" d="M0 0v27h2l1 2l2 10l1 2l1-2l2-9l1-1h1l2 5h1l3-8l1-1h1l3 4l2-2l3-8l1-1l1 1l1 3l2 11l1 3h1l3-7l1 2l2 9h1l1-3l2-11l1-1l3 3l2-2l4-9l2-1l3-3l3 4l2 1l4-6l1 13l3 71l1 12l1 3l1-3l1-12l2-48l1-14l1 9l1 3l1-3l1-7l1-4l1-5l2-4l1 2l1 5l1 2h1l2-1h2l1-2l2-7l1-1l3 24l1 1l1-3l3-24l3 34l1 6l1 1l1-1l1-6l2-24l1-3l3 6l1-1l1-2l3-13l2-1l3-5l1-1l3 1l2 2l3 11l1 3h1l1-1l3-14l1-2l3-1l3-4l2-1h2l2 2l3 6l2 7l1 2h1l3-8l3-3l2-4l1-1l3 6l2 2l2-2l3-6l3 4h1l1-1l3-4l3-1l7 1l7-2l9 1l5-1l27-1z"/>
<path transform="matrix(-1.1108 0.4088 0 -0.51975 464.5 321.3)" d="M0 0v27h2l1 2l2 10l1 1l1-1l2-8l1-2l1 1l2 4l1-1l3-8l1-1l4 4l2-2l3-8h1l1 1l1 3l2 10l1 3h1l2-5l1-2l1 3l2 9l1 1l1-3l2-11l1-1l3 2l2-1l4-9l2-1l3-4l4 4h1l4-5l1 14l3 76l1 12l1 3l1-3l1-12l2-52l1-9l1 10l1 2l1-2l2-21l1-5l2-4l2 8l1 1h4h1l1-2l2-8h1l3 25l1 2l1-2l2-18l1-4l3 49l1 7l1 2l1-2l1-8l3-47l3 5l1-1l1-2l3-11l2-1l3-4l3-1l2 2l2 4l2 7l1 2h1l1-1l3-13l1-1l3-1l4-5h3l2 2l2 3l1 3l3 12h1l3-9l3-3l2-5l1-1l3 10l1 2h1l1-1l1-1l3-10h1l2 3l1 1l1-1l3-5l3-1l7 2l7-3l9 1l5-1l27-1z"/>
<path transform="matrix(-1.1108 0.4088 0 -0.51975 465.2 321.8)" d="M0 0v27h2l1 2l2 10l1 1l1-1l2-7l1-1l3 5l1-1l3-10l1-1h1l3 4l2-3l3-7h1l1 1l1 2l2 11l1 2h1l2-5l1-1l1 2l2 9l1 1l1-4l2-10l1-1l3 2h2l1-1l3-7l2-1l3-5l1 1l2 2l2 1l4-5l1 15l3 80l1 13l1 3l1-3l1-13l2-54l1-13l1 10l1 2l1-3l2-21l1-5l2-3l2 8l1 2l4 1h1l1-3l2-9l1-1l1 7l2 22l1 4l1-1l1-6l2-22l3 46l1 7l1 2l1-2l1-7l3-46l3 5l2-3l2-8l1-2h2l3-5h1h2l1 2l2 3l4 9l1-1l1-1l3-12l1-1l3-1l4-4h3l2 2l3 6l2 9l1 3l1-1l3-9l3-2l2-6l1 2l3 14l1 3h1h1l1-3l3-14l1-2l2 3h1h1l2-4l2-2h3l4 4l2 1l2-1l3-4l2-1l9 1l5-1l27-1z"/>
<path transform="matrix(-1.1108 0.4088 0 -0.51975 466.0 322.4)" d="M0 0v27l2 1l1 1l2 10l1 1l1-1l2-7l1-1l3 4l1-1l3-9l1-1l4 3l2-2l2-6l1-1l1-1l1 1l1 3l2 10l1 3h1l2-6l1-1l1 3l2 8h1l3-14l1-1l3 3h2l3-6l1-1l2 1l3-6h1l2 3h2l4-4l1 16l3 83l1 14l1 3l1-3l1-14l2-56l1-18l1 10l1 2l1-3l2-21l1-4l2-4l3 12l4 5l1-1l1-4l2-11l1-1l1 6l2 20l1 4l1-1l1-6l2-20l3 42l1 7l1 2l1-2l1-7l3-42l3 5l2-3l2-7l1-3l2 1l4-5l2 1l4 8l3 3l2-2l3-10l1-1l3-1l4-4l4 1l4 7l2 10l1 2h1l2-8l1-3l3-2l2-5l1 4l3 19l1 3l1 1l1-1l1-3l3-20l1-3l2 3h1h1l3-5l3-1l2 1l3 6l2 1l2-1l4-7l2-1l8 1l5-1l27-1z"/>
<path transform="matrix(-1.1108 0.4088 0 -0.51975 466.8 323.0)" d="M0 0v27l2 1l1 2l2 9l1 1l1-1l2-7l1-2l1 1l2 2h1l3-9h1l3 3h1l2-3l2-5l1-1l1-1l1 1l1 3l2 11l1 2h1l2-6l1-1l3 11l1-1l3-14l1-1l3 3h2l3-5l2 2h1l1-2l2-6l1 1l2 4l2 1l4-6l1 16l3 88l1 14l1 3l1-3l1-14l3-82l1 10l1 2l1-3l2-21l1-3l2-4l2 9l3 7l2 6l1-1l1-3l2-14l1-3l1 5l2 19l1 3l1-1l3-24l3 39l1 6l1 1l1-1l1-7l3-38l3 6h1l1-2l2-9l1-2l2 1l1-1l3-4h1l1 2l2 7l2 4l3-1l2-3l3-10l1-1l3-1l4-3h3l2 2l3 5l2 9l1 2h1l2-7l1-2l3-3l2-4l1 3l3 19l1 3h1h1l1-3l3-19l1-3l2 3h1h1l3-5l3-1l2 2l3 10l1 1l1 1l1-1l1-1l3-10l1-2l2-1l8 1l6-1l26-1z"/>
<path transform="matrix(-1.1108 0.4088 0 -0.51975 467.6 323.6)" d="M0 0v28h2l1 2l2 9l1 2l1-2l2-7l1-2h1l2 2h1l3-8h1l3 4h1l2-4l2-5l1-1l1-1l1 1l1 3l2 11l1 3l1-1l2-6l1-1l3 10h1l3-15l1-1l4 4l2-1l2-4l2 3h1l1-2l2-7h1l2 4l2 1l4-5l1 17l3 92l1 15l1 3l1-3l1-15l3-89l1 9l1 3l1-3l2-20l2-6h1l2 8l2 5l3 15l1 1l1-3l2-18l1-6l1 3l2 17l1 3l1-2l2-16l1-5l3 35l1 6l1 1l1-1l1-6l3-34l3 8h1l1-2l2-10l1-2l2 1h1l3-6h1l1 3l2 11l1 2l1 1l2-4l3-3l3-11l1-1l7-4l4 1l4 5l2 8l1 2h1l2-7l1-1l3-2l2-4l1 3l3 17l1 3h1h1l1-3l3-17l1-3l2 3h1l1-1l3-4l3-1l1 1l1 3l3 15l1 2l1 1l1-1l1-2l3-15l1-3l2-2h4l4 1l8-1l24-1z"/>
<path transform="matrix(-1.1108 0.4088 0 -0.51975 468.4 324.2)" d="M0 0v28h2l1 2l2 9l1 2l1-1l2-8l1-2l1-1l2 3l1-1l3-6l1-1l3 4h1l1-1l3-8l1-2h1l1 1l1 3l2 10l1 2h1l2-6h1l3 10l1-1l3-14l1-2l4 5l2-1l2-3l2 4h1l1-2l2-8l1-1l2 3l2 1l4-5l1 17l3 89l1 15l1 3l1-3l1-15l3-87l1 9l1 2l1-2l2-20l2-5l1 1l4 13l2 16l1 5l1 2l1-2l1-8l2-22l1 1l2 15l1 2l1-2l2-16l1-3l3 32l1 5l1 1l1-1l1-5l2-23l1-6l3 11l1-1l1-2l2-11l1-3l2 3h1l3-8l1-1l1 2l2 11l2 4l3-1l2-3l3-13l1-2l1-1l6-3l4 1l4 5l2 6l1 2h1l2-6l1-1l3-1l2-4l1 3l3 15l1 3h1h1l1-3l3-16l1-3l2 3h1h1l3-5h2h1l1 2l1 5l3 21l1 4h1h1l1-4l3-22l1-4l1-2l1-1h4l5 1l8-1l23-1z"/>
<path transform="matrix(-1.1108 0.4088 0 -0.51975 469.2 324.8)" d="M0 0v28h2l1 2l2 9l1 1l1-1l3-10h1l2 2h1l3-6h1l3 5h1l4-11l1-2h1l1 1l1 3l2 9l1 3l1-1l2-5h1l3 9l1-1l3-14l1-2l4 7h1h1l2-3l2 5h1l1-3l2-10l1-1l2 3h2l4-5l1 18l3 86l1 14l1 3l1-3l1-14l3-85l1 8l1 2l1-2l2-19l2-5l1 2l4 12l3 21l1 1l1-2l3-28h1l2 14l1 2l1-3l2-14l1-3l3 29l1 5l1 1l1-2l1-4l2-21l1-3l3 9l1-1l1-1l2-10l1-2l2 5l1 1l1-3l2-9l1-2l1 2l2 10l1 3l4 9h1l1-2l3-21l1-3l1-1l6-2h4l4 4l3 7h1l2-4l4-3l2-3l1 2l3 15l1 2l1 1l1-1l1-3l3-14l1-3l2 3h1l4-5h2l1 1l1 2l1 6l3 30l1 4l1 1l1-1l1-5l3-29l1-6l1-3l1-1h4l5 2l9-2l22-1z"/>
<path transform="matrix(-1.1108 0.4088 0 -0.51975 469.9 325.3)" d="M0 0v28h2l1 2l2 8l1 2l1-1l3-10l1-1l2 2h1l3-4h1l2 5l1 1l1-1l4-12l1-2h1l1 1l1 2l2 9l1 3h1l2-5h1l3 8l1-1l3-14l1-1l4 7l1 1l3-2l2 7h1l1-4l2-12l1-2l2 3h2l3-5l1-1l1 18l3 83l1 14l1 3l1-3l1-14l3-82l1 8l1 2l1-3l2-18l2-4l5 13l3 20l1 1l1-3l3-26l1 1l2 12l1 2l1-3l2-14l1-2l3 26l1 4l1 1l1-1l1-4l2-19l1 2l2 5l1 1l2-2l2-9l1-2l2 4h1l1-2l2-9l1-2l1 2l3 11l4 8h1l1-2l3-19l1-2l1-1l6-2h4l4 4l3 6h1l2-3l4-2l2-3l1 1l3 13l1 2l1 1l1-1l1-2l3-14l1-2l2 2h1l4-4h2h1l1 3l1 6l3 27l1 5l1 1l1-1l1-5l3-27l1-6l1-3l1-1h4l6 2l8-2l22-1z"/>
<path transform="matrix(-1.1108 0.4088 0 -0.51975 470.7 325.9)" d="M0 0v28h2l1 2l2 8l1 1l1-1l3-10h1l2 2h1l3-4l1 1l2 5l1 1l1-1l4-13l1-2h1l1 1l1 2l2 9l1 2h1l2-4h1l2 6l1 1l1-1l3-14l1-1l4 7l1 1l2-2l1 1l2 10l1 1l1-4l2-15l1-2l2 2h2l3-5l1-1l1 17l3 80l1 14l1 2l1-2l1-14l3-79l1 7l1 2l1-3l2-16l1-4h1l1 2l4 10l3 18l1 1l1-2l2-19l1-4h1l2 11l1 1l1-4l2-12l1-2l3 23l1 4l1 1l1-1l1-4l1-7l1-5l3 6l1 1l2-2l3-10l2 2l1-1l1-2l2-9l1-2l1 2l3 10l4 7l1-1l1-2l3-16l1-3h1l6-2h4l8 10l5-4l3-4h1l3 12l1 2l1 1l1-1l1-2l3-12l1-2l2 2h1l4-4h2h1l1 3l1 5l3 26l1 4l1 1l1-1l1-4l3-26l1-5l1-3l1-1h4l6 2l8-2l22-1z"/>
<path transform="matrix(-1.1108 0.4088 0 -0.51975 471.5 326.5)" d="M0 0v28l2 1l1 1l2 7l1 1l1-1l2-7l1-3h1l2 3l1-1l2-2l1-1l3 6l1 1l1-1l1-3l3-10l1-2h1l2 3l2 8l1 2h1l2-3h1l2 5l1 2l1-2l3-13l1-1l4 6h1l2-1l1 1l2 12l1 1l1-4l2-16l1-2l2 4l1 1l1-1l3-7l1-1l1 16l3 78l1 12l1 3l1-3l1-12l3-78l1 8l1 1l1-2l2-15l1-3h1l1 1l4 10l3 16l1 1l1-3l2-13h2l1-2l1 4l1 1l1-3l2-12l1-2l3 21l1 4h1l1-1l1-3l1-7h1l2 2l2 4l2 3l1-2l2-7l3-3l1-3l2-10l1-3l1 2l2 7l2 5l3 4l1-1l1-2l3-16l1-2h1l6-2h4l3 6l5 4l9-8l3 11l1 2h1h1l1-2l3-11l1-2l2 2l1-1l4-3h2h1l1 3l1 4l3 24l1 4l1 1l1-1l1-4l3-24l1-5l1-2l1-1h4l6 2l9-2l21-1z"/>
<path transform="matrix(-1.1108 0.4088 0 -0.51975 472.3 327.1)" d="M0 0v29h2l1 2l2 6l1 1l1-2l2-7l1-2h1l2 2h1l2-2h1l3 5l1 1l1-1l1-3l3-10l1-2h1l2 3l2 7l1 2h1l2-3h1l2 6l1 1l1-2l3-13l1-1l4 5l1 1l2-2l1 2l2 13l1 2l1-3l2-17l1-1l2 5h1l1-1l3-9l1-1l1 16l3 77l1 13l1 2l1-2l1-13l3-77l1 6l1 2l1-2l2-13l1-3l2 1l4 7l3 16h1l1-3l1-4l1 3h1l1-1l2-7l1 1l1-3l2-11l1-1l3 17l1 3l1 1l1-1l1-3l1-6l3 3l4 15l1-1l3-8h1l1-2l1-3l2-16l1-4h1l4 13l2 4l1 1l1-2l1-2l3-16l1-2h1l6-2h3h1l3 10l2 2l2-2l2-1l8-7l3 10l1 1l1 1l1-1l1-2l3-10l1-1l3 1l4-3h2h1l1 2l1 5l3 22l1 3l1 1l1-1l1-3l3-22l1-5l1-2l1-1h4l5 1l12-1l19-1z"/>
<path transform="matrix(-1.1108 0.4088 0 -0.51975 473.1 327.7)" d="M0 0v30h2l1 2l2 6h1l1-2l2-7l1-2l1-1l2 3h1l2-2l1-1l3 6l1 1l1-1l1-3l3-10l1-2h1l2 3l2 7l1 2h1l2-4h1l2 6l1 1l1-1l3-13l1-1l4 4h1l2-1l1 1l2 13l1 2l1-3l2-15l1-2l2 5h1h1l3-9l1-1l1 17l3 80l1 13l1 3l1-3l1-13l3-80l2 6h1l2-12l1-3h1h2l3 5l3 14l1 1l2-7l1 3l1 1l1-1l2-7l1 1l1-3l2-10h1l3 13l1 3l1 1l1-1l2-5l1 2l2 1l4 12l3-3l2 6h1l1-3l2-23l1-8h1l5 18l1 2h1l1-1l1-4l3-18l1-2h1l9-3l1 1l1 2l2 7l2 1l2-1l2 1l3-4l5-5l3 9l1 2h1h1l1-2l3-9l1-1l3 1l4-3h2h1l1 2l1 4l3 20l1 4h1h1l1-4l3-20l1-4l1-2l1-1l9 1l12-1l19-1z"/>
<path transform="matrix(-1.1108 0.4088 0 -0.51975 473.9 328.2)" d="M0 0v31l2 1l1 1l2 6h1l1-2l2-9l1-2h1l2 3h1l3-3l4 6l1-1l1-2l3-10l1-1l1-1l2 3l2 7l1 1h1l2-3h1l2 5l1 2l1-2l3-12l1-1l4 3h1l2-1l1 1l2 12l1 2l1-2l2-15l1-1l2 4l1 1l1-1l3-8l1-1l1 18l3 83l1 14l1 2l1-2l1-14l3-83l2 5l1 1l2-10l1-3l2-3h1l3 4l3 13h1l2-6l1 3h1h1l2-6l1 2l1-2l2-10h1l2 10l1 2l2 1l1-1l1-2l2 8l1 1h3l2 3l3-3l2 6h1l1-3l2-22l1-6h1l2 6l3 13l1 2h1l2-6l3-17l1-3h1l5-2l4-1l1 1l3 8l1 1h2l3 2l4-6l4-4l3 8l2 2l2-2l3-8h3l5-3h3l1 2l1 4l3 18l1 3l1 1l1-1l1-3l3-19l1-3l2-3l8 1l32-2z"/>
<path transform="matrix(-1.1108 0.4088 0 -0.51975 474.7 328.8)" d="M0 0v33l2 1l1 1l2 6h1l1-3l2-10l1-2h1l2 3h1l3-3h1l3 5h1l4-12l1-1l2 1l3 8l1 1h1l2-4h1l2 6l1 1l1-1l3-12l1-1l4 3h1l2-2l1 1l2 11l1 2l1-2l2-13l1-1l2 4h1l1-1l3-7l1-1l1 17l3 81l1 14l1 3l1-3l1-14l3-81l2 8h1l3-11l3-6h1l2 3l3 12h1l2-6l1 3h1h1l1-3l1-1l1 3l1-3l2-9l1-1l2 12l1 3l1-1l1-3l1-1l3 18l1 2l1-1l2-7l1-2h1l2-3l1-1l2 6h1l1-4l2-19l1-5h1l1 2l3 16l2 6h1l1-3l1-4l3-19l1-2l6-3l4-1l1 1l3 7l1 1h2l3 3l4-6l4-4l3 7l2 1l2-1l3-8l3 1l5-3h3l1 2l1 3l3 17l1 2l1 1l1-1l1-2l3-17l1-4l2-2l8 1l32-2z"/>
<path transform="matrix(-1.1108 0.4088 0 -0.51975 475.4 329.4)" d="M0 0v35h1l2 2l2 5l1-1l3-13l1-2h1l2 4h1l3-4h1l3 5l1-1l1-2l3-9l1-1l2 1l3 8l1 1h1l2-4h1l2 6l1 1l1-1l3-12l1-1l5 2l2-2l1 1l2 11l1 1l1-2l2-11l1-1l2 3l1 1l1-1l3-7l1-1l1 16l3 80l1 13l1 3l1-3l1-13l3-80l2 10l1 1l3-14l2-5l1-1l3 3l3 11h1l2-5l1 2h1h1l1-3l2 5l1-2l2-10l1-1l2 15l1 3l1-1l2-9l1 4l2 12l1 1l1-1l2-6l1-2h1l2-3h1l2 5l1-1l1-3l2-17l1-4h1l1 2l1 5l2 15l1 5l1 2l1-2l1-3l4-25l1-3l1-1l5-2l4-1l1 1l3 7l1 1l2-1l3 3h1l7-10l3 7l2 1l2-1l3-7l3 1l5-3h3l1 1l1 3l3 16l1 2l1 1l1-1l1-2l3-16l1-3l2-2l8 1l32-2z"/>
<path transform="matrix(-1.1108 0.4088 0 -0.51975 476.2 330.0)" d="M0 0v36h1l2 2l2 5l1-1l3-13l1-2h1l2 4h1l1-1l2-4h1l3 5l1-1l1-1l3-10l1-1l2 2l3 8h1h1l2-4h1l2 6l1 2l1-1l3-13l1-1l5 2l2-2l1 1l2 9l1 1l1-1l2-11h1l2 3h1l1-1l3-6l1-1l1 16l3 78l1 13l1 2l1-2l1-13l3-76l1 9l1 4h1l3-18l2-5l1-1h1l2 3l3 9h1l2-5l1 2h1h1l1-2l2 10l1-2l2-12l1-1l2 18l1 3l1-2l2-13l1 2l2 11l1 1l1-1l2-6l1-2h1l2-2h1l2 4h1l1-3l2-15l1-4h1l1 2l1 5l2 16l1 6l1 3l1-1l1-3l1-5l3-23l1-4l2-2l4-1l4-1l1 1l3 8h1l2-2l3 4l1-1l7-9l3 6l2 1l2-1l3-6l3 1l5-3h3l1 1l1 3l3 14l1 2h1h1l1-2l3-14l1-3l2-2l15 1l5-1l20-1z"/>
<path transform="matrix(-1.1108 0.4088 0 -0.51975 477.0 330.6)" d="M0 0v35h1l2 3l2 5l1-1l3-12l1-2l1 2l2 5h1l3-7l1-1l3 4h1l1-2l3-10l1-1l2 2l3 8h1h1l2-4l1 1l2 7l1 2l1-1l3-15l1-1l5 2l2-2h1l2 8l1 2l1-2l2-9h1l2 3h1l1-1l3-7h1l1 16l3 79l1 13l1 3l1-3l1-13l3-79l1 9l1 4l1 1l3-16l2-6l1-2l1 1l2 2l3 9l1-1l2-5l1 2h2l1 1l1 9l1 5l1-1l2-14l1-4l2 15l1 3l1-1l2-13l1 1l2 9l1 1l1-1l2-5l1-1l1 1l2-2l1-1l2 5l1-1l1-2l2-13l1-4l1-1l1 2l1 4l2 15l1 6l1 3h1l2-8l3-22l1-3l2-3l4-2h4l1 1l3 7h1l2-1l3 3h1l3-3l4-6l3 5l2 1l2-1l3-5l3 1l5-3h3l2 4l3 12l1 2h1h1l1-2l3-13l1-2l2-2l15 1l5-1l20-1z"/>
<path transform="matrix(-1.1108 0.4088 0 -0.51975 477.8 331.2)" d="M0 0v33l2 1l1 2l2 7l1-1l3-11l1 1l3 8h1l3-10l1-1l3 3h1l1-2l3-11l1-1l2 2l3 7h1h1l2-3l1 1l2 11l1 2l1-1l3-18l1-2l5 2l3-2l2 7l1 1l1-1l2-7h1l2 3h1l1-2l3-7h1l1 17l3 80l1 13l1 3l1-3l1-13l3-80l2 12l1 1l3-13l3-10h1l2 2l3 8l1-1l2-5l1 1h2l1 4l1 9l1 5l1-1l2-15l1-4l2 14l1 3l1-1l2-13l1 1l2 7l1 1l1-1l2-4l2 1l3-2l2 5h1l1-2l3-16l1-2h1l1 4l2 13l1 6l1 3h1l2-7l3-20l1-3l2-2l4-3h4l1 1l3 6h1l2-1l3 3l3-2l5-6l3 4l2 1l2-1l3-4l3 1l5-3h3l2 3l3 11l1 2h1h1l1-2l3-11l1-2l2-2l7 1l4-1l4 1l5-1l20-1z"/>
<path transform="matrix(-1.1108 0.4088 0 -0.51975 478.6 331.7)" d="M0 0v32h2l1 2l2 9h1l1-2l2-10h1l1 3l2 9h1l1-2l2-8l1-1l3 2l1-1l4-14l1-1h1l2 3l2 5h1l3-3l1 2l2 10l1 2l1-1l3-17l1-1l5 1l3-2l2 6l1 1l1-1l2-6h1l2 3h1l4-9h1l1 17l3 82l1 14l1 3l1-3l1-14l3-82l2 12l1 2l1-1l5-22l1-1l2 2l3 8h1l2-8l1 2h2l2 18l1 4l1-2l3-21l2 13l1 3l1-2l2-12h1l2 6h1l3-2l2 2l2-1l1 1l2 6h1l1-1l1-5l2-12l1-4h1l1 2l3 17l1 3l1-1l2-6l3-17l1-3l2-3l4-2h4l1 1l3 6l3-2l3 3h1l6-7h1l3 4l2 1l2-1l3-4l3 1l5-3h3l2 3l3 10l1 1l1 1l1-1l1-1l3-11l1-2l2-1l7 1l4-1l4 2l5-2l20-1z"/>
<path transform="matrix(-1.1108 0.4088 0 -0.51975 479.4 332.3)" d="M0 0v30l2 1l1 2l2 8l1 1l1-2l2-9l1-1l1 4l2 12l1 1l1-2l2-10l1-1l3 2l1-2l4-14l1-2l2 1l3 6h1l3-2l1 1l2 10l1 3l1-1l3-15l1-2l1-1l4 3l3-4l2 5l1 1l1-1l2-5l3 4h1l4-10h1l1 17l3 83l1 14l1 3l1-3l1-14l3-83l2 10l1 3l1-2l5-20l1-1l2 2l3 11l1-1l1-3l1-6h2l1 3l2 22l1 3l1-2l1-6l2-19l1 3l1 7l1 3l1-1l2-11l1-1l2 5l3-1l1 1l2 4h2l1 1l2 8l1 1l1-1l1-3l3-21l1-3l1 1l3 15l1 3h1l2-5l3-16l1-3l2-3l4-2h4l1 1l3 5l3-1l3 2h1l6-6l1-1l3 4l2 1l2-1l2-3l3 1l6-3h3l2 2l3 9l1 2h1h1l1-2l3-9l1-2l2-1l7 1h4l4 1l5-2l20-1z"/>
<path transform="matrix(-1.1108 0.4088 0 -0.51975 480.1 332.9)" d="M0 0v29l2 1l1 1l2 9l1 1l1-2l2-9h1l1 3l2 11l1 2l1-2l2-8l1-1l3 2l1-1l4-16l3-1l3 5l1 1l3-3l1 2l2 9l1 3h1l3-14l1-2h1l3 5l1 1l1-2l2-5h1l1 2l1 1l1-1l2-4l3 4h1l4-10h1l1 18l3 83l1 14l1 2l1-2l1-14l3-83l2 8l1 2l1-2l5-18l1-1l1 1l1 2l3 15h1l1-4l2-13h1l1 4l2 21l1 3l1-2l3-24l1 3l1 7l1 3l1-2l2-10l1-1l2 3h2l1 1l3 10l2 1l1 1l2 9l1 2l1-1l1-2l1-6l2-20l1-5h1l3 14l1 2l1 1l2-4l4-19l2-3l3-1l5-1l1 1l3 5h1l2-1l3 1l7-6h1l3 4h2l2-1l2-2l2 2h1l2-2l3-2h4l2 2l3 8l2 2l2-2l3-8l2-3l8 2l4-1l4 1l5-2l20-1z"/>
<path transform="matrix(-1.1108 0.4088 0 -0.51975 480.9 333.5)" d="M0 0v29h2l1 1l2 9l1 1l1-2l2-8l1-1l1 3l2 11l1 1l1-1l2-6l1-1l3 2l1-2l3-12l1-3l4-1l2 4h1l3-2l1 1l3 13l1 1l3-13l1-2h1l3 4h1l1-1l2-6h1l2 2l1-1l2-4l3 5h1l1-2l3-7h1l1 17l3 83l1 14l1 3l1-3l1-14l3-83l2 9l1 1l1-3l2-8l3-9l1-1l1 1l1 4l2 17l1 5h1l1-5l2-21l1-1l1 4l2 19l1 3l1-2l3-23l1 4l1 6l1 3l1-2l2-10l1-1l2 3h2l1 3l3 10l3 1l2 8l1 2l1-1l1-2l1-6l2-19l1-4l1-1l4 15l1 1h1l1-2l4-18l1-2l1-2l3-1l5-1l1 1l2 4l1 1h1l2-1h4l7-5l4 4l2-1l3-1l1 2h2l3-4l6-1l2 2l3 7l2 1l2-1l3-8l2-2l8 2l4-1l4 1l5-2l20-1z"/>
<path transform="matrix(-1.1108 0.4088 0 -0.51975 481.7 334.1)" d="M0 0v28h2l1 2l2 8l1 1l1-1l2-8l1-2l1 3l2 10l1 1l1-1l2-6l1-2l3 3l1-1l3-11l3-1l2-2l2 2l1 1l3-2l1 1l3 13h1l1-2l2-9l1-2h1l3 5l1 1l1-2l2-8h1l2 1l3-4l3 5h1l1-1l3-8h1l1 17l3 84l1 14l1 3l1-3l1-14l3-84l1 7l1 4l1 1l3-14l3-7h1l1 1l1 4l2 24l1 4h1l1-4l2-26l1-6l1 4l2 17l1 3l1-2l2-16l1-5l2 10l1 2l1-1l2-10l1-1l2 2l2 1l4 16l3-1l3 8l1-1l1-3l3-22l1-5h1l4 13l1 2l1 1h1l2-7l3-14l1-2l3-2l5-1l1 1l2 5l1 1h1l2-2l4-1l7-4l4 3l5-1l2 2h1l3-4l6-1l2 2l3 6l2 1l2-1l3-7l2-2l8 1l4-1l4 1l5-1l20-1z"/>
<path transform="matrix(-1.1108 0.4088 0 -0.51975 482.5 334.6)" d="M0 0v28h2l1 1l2 9l1 1l1-2l2-8l1-1l1 2l2 9l1 1l1-1l2-7l1-1l3 4h1l3-8l1 1l2-1l3-5l1 1h1l3-1l1 2l3 12l1 1l1-3l2-8l1-2l1 2l2 6l1 1h1l1-2l2-10l1-2h2l3-4l3 7l1 1l1-1l3-10h1l1 17l3 85l1 14l1 3l1-3l1-14l3-82l1 9l1 4h1l3-18l3-5h2l1 3l2 22l1 5h1l1-5l2-25l1-6l1 4l2 16l1 3l1-3l2-15l1-4l2 9l1 2l1-1l2-9l1-1l3 2l1 2l3 14l1 2l3-3l3 7h1l1-3l3-21l1-4l1-1l1 2l4 15l1 3l1 2l1-2l1-4l3-19l1-3l1-1l3-2h4l1 1l3 7h1l3-3h2l8-5l4 3h2l2-2l3 3h1l3-4l6-1l2 1l3 6l2 1l2-1l3-6l2-2l16 1l5-1l20-1z"/>
<path transform="matrix(-1.1108 0.4088 0 -0.51975 483.3 335.2)" d="M0 0v28l2-1l1 2l2 8l1 2l1-2l2-8l1-1l1 1l2 9l1 1l1-2l2-7l1-1h1l2 5h1l1-1l1-3l2 4h1l1-1l1-2l2-8h2l3-1l1 2l3 13h1l1-2l2-8l1-1l1 3l2 9l1 2h1l1-4l2-14l1-3h2l3-4l3 9l1 1l1-1l3-12h1l1 17l3 85l1 14l1 3l1-3l1-14l3-82l1 9l1 3h1l2-13l1-4l2-1l3-2l1 2l2 18l1 5h1l1-5l2-23l1-6l1 4l2 15l1 2l1-3l2-14l1-3l2 9l1 2l1-1l2-9l1-1l3 2l1 3l2 12l1 4l1 1l3-5l3 6l1-1l1-3l3-19l1-4h1l1 2l2 6l3 16l1 3h1l1-3l3-25l1-5l1-1l2-1l5-1l1 1l3 8h1l4-2l3-4l6-3l4 2l4-1l3 4l1-1l3-4l6-1l2 1l3 5l2 1l2-1l3-5l2-2l16 1l5-1l20-1z"/>
<path transform="matrix(-1.1108 0.4088 0 -0.51975 484.1 335.8)" d="M0 0v27h2l1 2l2 9l1 1l1-1l2-8l1-2l1 1l2 7l1 1l1-1l2-8l1-1l1 1l3 7l2-1l1 4l1 2l1 1l1-1l1-3l2-11l1-3l1 1l3-2l1 3l2 10l1 3h1l1-2l2-9l1-1l1 3l2 8l1 2h1l1-3l2-14l1-3l2-1l2-2h1l3 11l1 1l1-2l3-13l1-2l1 17l3 80l1 14l1 3l1-3l1-14l3-75l1 9l1 3h1l2-15l1-3l2 3h1h1l1-2l1-1l2 15l1 5l1-1l1-4l2-23l1-5l1 4l2 14l1 2l1-3l2-13l1-3l2 9l1 2l1-1l2-9l1-1l2 2l1 1l1 5l2 14l1 4l1 1l3-8l1 1l1 3h1l1-2l2-8l2-13l1-3l1-1l1 2l2 6l3 15l1 3h1l1-3l3-24l1-4l1-1l3-2h4l1 1l3 9h1h1l6-7l6-3l4 2l4-1l2 4l1 1l1-1l2-4l1-1l6-1l2 1l3 4l2 1l2-1l3-4l2-2l41-1z"/>
<path transform="matrix(-1.1108 0.4088 0 -0.51975 484.8 336.4)" d="M0 0v27h2l1 2l2 9l1 2l1-1l2-8l1-3l1 1l2 6l1 1l1-2l2-7l1-1l1 1l3 10h1l1-3l2 5h1h1l1-3l2-11l1-2l1 1l3-1l1 2l3 12l1 1l1-3l2-9h1l1 2l2 9l1 2h1l1-3l2-14l1-4h2l2-2l1-1l3 11l1 1l1-1l3-13l1-2l1 15l3 76l1 13l1 3l1-3l1-13l3-71l1 9l1 3h1l2-14l1-3l2 3h1l3-1l2 13l1 4l1-1l1-5l2-21l1-4l1 4l2 12l1 2l1-3l2-12l1-2l2 10l1 1l1-1l2-9l1-1l2 1l1 3l3 23l1 3h1l2-6l1-2l2 3l1-1l2-7l3-17l1-3l1-1l1 1l2 6l3 14l1 3l1-1l1-3l3-21l1-4l1-1l2-1l5-1l1 2l3 10h1l1-1l2-4l3-4l7-3l4 1h4l2 4l1 1l1-1l2-4l1-1l6-1l2 1l3 4h2h2l4-5l42-2z"/>
<path transform="matrix(-1.1108 0.4088 0 -0.51975 485.6 337.0)" d="M0 0v27h2l1 2l2 11l1 3l1-1l3-13h1l2 5l1 1l1-2l2-7l1-1l1 1l3 14h1l2-5l1 2h2l1-3l2-9l1-1l1 1l3-3l1 2l3 11h1l1-2l2-8h1l3 14l1 2h1l1-4l2-14l1-5h2l2-3h1l3 10l1 1l1-1l3-12l1-2l1 14l3 71l1 12l1 3l1-3l1-12l3-67l1 8l1 4l1-1l2-13l1-2l2 3l2 2h2l2 11l1 3l1-2l1-6l2-19l1-3l1 3l2 12l1 1l1-3l2-11h1l2 11l1 1l1-2l2-11l1-1l2 2l1 2l3 22l1 3l1 1l2-3l3 3l1-2l5-27l1-3l1-1l2 3l2 6l2 9l1 3h1l1-3l3-20l1-3l3-2l5-1l1 1l3 10h1l1-1l2-4l2-2l8-4l4 1h4l2 4l1 1l1-1l2-4l1-1l6-1l2 1l3 3l2 1l2-1l4-4l42-2z"/>
<path transform="matrix(-1.1108 0.4088 0 -0.51975 486.4 337.5)" d="M0 0v27l2 1l1 2l2 13l1 3l1-1l3-15l1-1l2 4l1 1l1-2l2-7l1-1l1 2l3 14h1l2-6l1 2l2-1l1-2l2-9l2 3l3-4h1l3 10h1l3-9h1l3 16l1 3h1l1-4l2-16l1-5l5-3l3 9l1 1l1-1l3-11l1-2l1 12l3 67l1 12l1 2l1-2l1-12l3-63l1 8l1 4l1-1l2-12l1-2l2 3l2 2h2l2 9l1 3l1-2l1-5l2-18l1-3l1 4l2 11l1 1l3-13l1 2l2 13l1 1l1-3l2-13l1-2l2 2l1 2l3 20l1 3l1 1l2-3l3 4l1-2l5-25l1-4l1-1h1l1 2l2 6l2 8l1 3h1l1-3l3-18l1-3l4-3h3l2 1l3 9h1l4-6l9-4l4 1h4l3 4h1l3-4l6-2h2l3 4h2l2-1l3-3l4-1l6 1l5-1l28-1z"/>
<path transform="matrix(-1.1108 0.4088 0 -0.51975 487.2 338.1)" d="M0 0v27h2l1 3l2 12l1 3l1-1l3-14l1-1l2 4h1l1-2l2-6l1-1l1 1l3 14l1 1l2-7l1 1h2l3-9l1 4l1 1l1-1l2-5l1-1l3 8h1l3-8l1 1l3 20l1 3l1 1l1-4l3-25l1-2l4-3l3 9l1 1l1-1l3-11l1-1l1 10l3 60l1 10l1 2l1-2l1-10l2-41l1-14l1 8l1 3h1l2-11l1-2l2 3l2 1h2l2 8l1 2l1-2l1-5l2-15l2 2l2 10l1 1l2-10l1-2l1 4l2 17l1 1l1-5l2-17l1-2l3 3l3 19l1 2l1 1l2-3l3 3l1-2l5-23l1-3l1-1h1l1 2l2 4l3 11l1-1l1-2l3-16l1-2l4-3l4-1l1 1l3 9h1l3-5l10-6l4 2l4-1l2 4l2 1l3-3l6-3h2l3 3l2 1l2-1l4-3l42-2z"/>
<path transform="matrix(-1.1108 0.4088 0 -0.51975 488.0 338.7)" d="M0 0v27h2l1 3l2 12l1 3l1-1l3-15l1-1l2 4h1l1-1l2-6l1-1l1 1l3 14l1 1l1-3l1-6l1 2l2-1l2-5l1 1l1 6l1 2l1-2l2-9l1-2l1 2l2 5h1l3-8l1 1l3 19l1 4l1 1l1-4l3-25l1-1l4-3l3 9h1l1-1l3-10l1-1l1 7l3 53l1 9l1 2l1-2l1-9l2-36l1-9l1 7l1 3h1l2-10l1-2l2 3l2 1l2-1l3 8l1-1l2-12l1-3l1 4l2 2l1 4h1l2-10l1-1l2 19l1 6h1l1-7l2-19l1-2l3 4l3 16l1 2h1l2-3l1 1l2 2l1-2l5-21l1-2l1-2l1 1l1 1l2 4l3 10l1-1l1-2l3-13l1-2l5-5h3l1 2l3 9h1l3-7l10-5l4 1h4l2 3l2 1l3-3l6-2l7 3l2-1l4-3l42-1z"/>
<path transform="matrix(-1.1108 0.4088 0 -0.51975 488.8 339.3)" d="M0 0v27h2l1 3l2 12l1 3l1-1l3-15l1-1l2 3h1l1-1l2-6h1l1 1l3 14l1 1l1-3l1-6h3l2-5l2 13l1 2l1-2l2-13l1-3l1 1l2 5h1l3-8l1 2l3 18l1 2l1 1l1-4l3-22l1-2l4-2l3 8l1 1l1-1l3-10l1-1l1 5l3 47l1 8l1 2l1-2l1-8l2-32l1-6l1 7l1 3h1l2-9l1-1l2 3l2 1l2-3l1 1l1 4l1 2l1-2l2-11l2 12l1 3h1h1l1-3l2-12h1l2 23l1 5l1-1l3-30l1-1l3 5l3 13l1 1l1 1l2-4h1l2 2l1-1l5-19l2-4l1 1l2 2l4 11h1l1-2l3-9l1-2l4-7l2-1h2l1 1l2 7l1 2h1l3-6l10-5l4 1h4l2 3l2 1l3-3l6-2l7 3l7-4l41-1z"/>
<path transform="matrix(-1.1108 0.4088 0 -0.51975 489.5 339.9)" d="M0 0v27h2l1 3l2 13l1 3l1-2l3-15l1-1l2 3h1l1-2l2-5h1l1 2l3 14h1l1-2l1-6l1-2l2-1l2-4l2 17l1 2l1-3l2-15l1-3l1 1l2 5h1l3-8l1 1l3 16l1 2l1 1l1-4l3-20l1-1l4-2l3 8h1l1-1l3-9l1-1l1 4l3 45l1 8l1 1l1-1l1-8l2-30l1-5l1 7l1 3h1l2-8l1-2l2 5h1h1l2-4h1l1 3l1 1l1-2l1-4l1 2l2 19l1 4l1 1l1-1l1-4l2-20l1-6l2 22l1 5l1-1l3-27h1l6 15l2 1l2-3l3 1l1-2l2-8l3-9l2-3h1l2 3l4 9h1l1-2l3-8l6-9h3l1 1l3 7h1l3-4l10-5l4 1h4l4 3l3-2l6-2l7 2l7-3l41-1z"/>
<path transform="matrix(-1.1108 0.4088 0 -0.51975 490.3 340.5)" d="M0 0v27h2l1 3l2 12l1 2l1-1l3-15l1-1l2 3h1l3-6h1l1 2l3 15l1 1l1-3l2-11h2l2-2l2 14l1 2l1-3l2-14l1-2l1 1l2 6h1l3-9l1 1l3 13l1 2l1 1l1-3l3-18l1-2l4-1l3 8h1l1-1l3-9l1-1l1 4l3 43l1 7l1 1l1-1l1-7l2-29l1-5l1 6l1 3h1l2-7h1l2 7l1 1h1l2-8l1-1l2 3l1-2l1-4l3 38l1 6l1 1l1-1l1-7l3-39l2 19l1 5l1-1l2-19l1-6l1 2l2 9l3 4h3l2-3h3l1-2l2-7l3-7l2-3h1l2 2l4 7h1l1-1l3-8l6-8h3l1 1l3 7h1l2-3h3l8-6l4 1h4l4 3l3-2l6-2l7 2l7-3l41-1z"/>
<path transform="matrix(-1.1108 0.4088 0 -0.51975 491.1 341.0)" d="M0 0v27h2l1 2l2 12l1 2l1-1l3-14l1-1l2 3h1l3-6h1l1 3l2 12l1 4h1l1-3l2-13h2l2-2l2 13l1 1l1-2l2-13l1-2l1 2l2 6h1l3-9h1l3 11l1 2l1 1l1-3l3-16l4-2h1l3 8h1h1l3-10l1-1l1 3l3 41l1 7l1 1l1-1l1-7l2-28l1-4l1 6l1 3h1l2-7l1 2l2 11l1 2l1-1l2-12l1-3l2 2l1-2l1-3l3 36l1 6l1 1l1-2l1-6l3-37l1 7l1 10l1 5l1-1l2-17l1-4l1 3l2 12l2 2h1l5-8l3 1l1-2l2-6l2-1l4-9l2 1l4 7h1l1-2l3-7l6-7l3 1h1l3 6l3-1l2 1l9-8l8 1l4 2l3-2l7-1l6 2l7-3l41-1z"/>
<path transform="matrix(-1.1108 0.4088 0 -0.51975 491.9 341.6)" d="M0 0v27h2l1 2l2 11l1 2l1-1l3-13l1-1l2 3h1l3-6h1l1 4l2 14l1 3h1l1-4l2-15h2l2-2l2 12l1 1l1-2l2-12l1-1l3 9l1-1l3-10h1l3 10l1 2l1 1l1-3l3-14l4-2h1l3 9l1 1l1-1l3-10l1-2l1 2l3 40l1 6l1 1l1-1l1-6l2-27l1-4l1 5l1 3l1-1l2-5l1 5l2 15l1 2l1-1l3-21h2l2-4l3 33l1 6l1 1l1-2l1-5l3-35l1 6l1 10l1 5l1-1l2-16l1-4l1 4l2 11l2 2l6-9l1 1l2 2l1-1l1-3l1-1l2 5l1-1l1-3l2-12l1-1l2 1l3 5l1-1l1-1l3-7l6-6l4 2l2 3l3 2l3 5h1l6-11l2-1h8l4 2l3-2l7-2l6 2l7-2l41-1z"/>
<path transform="matrix(-1.1108 0.4088 0 -0.51975 492.7 342.2)" d="M0 0v27h2l1 2l2 10l1 2l1-1l2-9l1-3l1-1l2 3h1l3-6h1l1 4l2 13l1 3h1l1-5l2-14h2l2-2l2 11l1 1l1-2l2-10l1-1l3 9h1l3-12l1 1l3 8l1 2h1l1-2l2-9l1-3h2l2-2l1 1l3 10h1l1-1l3-11l1-2l1 2l3 37l1 6l1 1l1-1l1-6l2-25l1-4l1 5l1 2h1l2-5l1 6l2 17l1 1l1-1l3-22l2-1l2-5l3 31l1 5l1 1l1-1l1-5l3-32l1 5l1 9l1 5l1-1l2-14l1-3l3 14l2 1l3-5l3-3l1 1l2 3h1l2-4l2 2l1-1l1-3l2-10l1-1l1 1l4 4h1l4-9l6-5l4 2l2 3l2 2l1 2l3 9l1-1l3-11l3-5l2-1h8l2 2h2l3-2l7-2l6 2l7-2l41-1z"/>
<path transform="matrix(-1.1108 0.4088 0 -0.51975 493.5 342.8)" d="M0 0v27h2l1 2l2 10l1 2l1-2l2-9l1-3h1l2 2h1l3-5l1 1l1 3l2 12l1 3l1-1l1-4l2-14h2l2-2l2 10l1 1l1-2l2-9h1l3 10l1-1l3-12h1l3 8l1 2h1l1-2l2-8l1-2l2 2l3-4l3 9h1l1-1l3-10l1-2l1 2l3 36l1 6l1 1l1-1l1-6l2-25l1-4l1 5l1 2l1-1l1-2l1-1l3 26l1 1l1-1l3-25l1-2h1l2-5l3 29l1 4l1 1l1-1l1-5l3-29l3 17h1l2-13l1-2l3 12l2 1l3-5l3-2h1l2 4l1-1l2-4l2 2l2-4l2-8l1-1l1 1l4 4l1-1l4-8l6-5l4 2l2 3l2 2l1 2l3 14h1l3-17l2-3l3-3h8l3 3h1l3-3l7-1l6 1l8-2l40-1z"/>
<path transform="matrix(-1.1108 0.4088 0 -0.51975 494.3 343.4)" d="M0 0v27h2l1 2l2 9l1 2l1-1l2-9l1-3h1l2 2h1l3-4h1l1 4l2 11l1 2l1-1l1-4l2-14l4-2l2 9l1 2l1-2l2-8l1-1l3 10h1l3-12h1l3 7l1 2h1l1-2l2-7l1 1l1 3l1 1l1-1l2-7l1 1l2 6h1h1l3-10l1-2l1 2l3 36l1 6l1 2l1-2l1-6l2-25l1-5l1 5l1 2h1l1-3h1l2 23l1 7l1 2l1-2l1-6l2-23l1-2l2-3l1-2l3 25l1 4l1 1l1-1l1-3l3-27l1 3l1 8l1 4h1l2-12l1-2l3 12l2 1l3-5l3-3l3 4h1l2-4h2l2-3l2-6h1l5 4l1-1l4-9l5-3h4l3 4l2 1l1 3l3 12h1l3-15l1-3l4-3h8l3 2h1l3-2l6-1l55-2z"/>
<path transform="matrix(-1.1108 0.4088 0 -0.51975 495.0 343.9)" d="M0 0v27h2l1 2l2 9l1 2l1-1l2-9l1-3h1l2 3h1l3-5h1l1 3l2 10l1 3l1-1l1-4l2-13l4-2l2 8l1 1l1-1l2-7l1-1l3 10l1-1l3-11l1 1l3 6l1 1h1l1-2l2-6l1 1l1 3h1l1-1l2-7l1 1l2 6h1h1l3-10l1-1l1 2l3 37l1 6l1 1l1-1l1-6l2-25l1-6l1 4l1 2h1l1-2l1 1l2 27l1 6l1 1l1-1l1-5l2-26l1-5l3-5l3 23l1 4h1h1l1-2l3-26l1 3l1 7l1 4h1l2-11l1-2l3 11l2 1l3-5l3-2l3 4l1-1l2-4h2l1-1l3-7l1 1l3 5l2 1l5-12l6-4l4 2l2 2l2 2l1 2l3 11h1l3-14l1-2l4-3h8l3 2l4-2l6-1l35-1h7l13-1z"/>
<path transform="matrix(-1.1108 0.4088 0 -0.51975 495.8 344.5)" d="M0 0v27h2l1 2l2 9l1 2l1-1l2-9l1-2h1l2 3l1-1l3-5l1 1l1 2l2 9l1 2h1l1-4l2-12l1-1l3-1l2 7l1 1l1-1l2-6l1-1l3 9h1l2-8l1-3l1 1l3 7l1 1l2-4l2-5h1l1 3l1 1l1-1l2-7l1 1l2 5l1 1l1-1l3-9l1-1l1 2l3 37l1 6l1 1l1-1l1-6l2-25l1-6l1 4l1 2l1-1l1-2l1 1l2 27l1 6l1 1l1-1l1-6l2-25l1-4l3-5l3 20l1 3l2 1l1-2l3-24l1 3l1 6l1 4h1l2-10l1-1l3 10l1 1l2-2l2-3l2-2h1h1l2 3h1l2-4h2l1-1l3-6l1 1l3 7l1 1h1l3-10l2-4l6-4l4 1l2 3l2 1l1 2l3 11l1-1l3-13l1-1l5-3h7l3 2l4-2l6-1h6l10-1h20l6 1l4-2h9z"/>
<path transform="matrix(-1.1108 0.4088 0 -0.51975 496.6 345.1)" d="M0 0v27h2l1 2l2 10l1 1l1-1l2-8l1-1l3 3l1-1l3-6h1l1 2l2 8l1 2h1l1-3l2-12l1-2h3l2 6l1 2l1-1l2-6l1-1l3 9h1l2-8l1-2l1 2l2 6l1 1l2-2l3-9l1 1l1 3l1 1l1-2l2-6l1 1l2 4l1 1l1-1l3-8l1-1l1 2l3 37l1 6l1 2l1-2l1-6l2-25l1-6l1 4l1 1h1l1-2l1 1l2 24l1 8l1 1l1-1l1-7l2-24l1-4l3-4l3 17l1 3l2 2l1-2l3-23l1 3l1 6l1 3h1l2-8l1-2l3 10h1l2-1l2-3l2-2h2l2 3l1-1l2-3l3-1l3-5l1 1l3 6l1 1h1l3-9l2-5l6-3l4 1l4 4l1 2l3 10l1-2l3-11l1-1l5-3h7l4 1l2-1l3-1h10l10-1h21l5 1l4-2h9z"/>
<path transform="matrix(-1.1108 0.4088 0 -0.51975 497.4 345.7)" d="M0 0v27h2l1 2l2 10l1 1l1-1l2-7h1l3 5l1-1l3-9l1-1l1 2l3 10h1l1-3l2-11l1-2l2 2h2l1 3l1 2l1-1l2-5l1-1l3 8h1l2-8l1-2l3 11l1 2l1-2l4-13h1l1 3h1l1-1l2-5h1l2 5h1l1-1l3-7l1-1l1 2l3 37l1 7l1 1l1-1l1-7l2-25l1-7l1 4l1 2h1l1-2h1l2 23l1 8l1 1l1-1l1-7l2-23l1-3l3-3l1 2l2 11l1 3l1 1l1 3l1-1l2-18l1-5l1 2l2 8h1l2-7l1-1l3 9l2 1l5-7h2l2 3l1-1l2-3h2l2-1l2-3l2 1l2 4l2 1l3-9l2-4l6-3l4 1l4 4l3 10l1 1l1-1l3-11l6-4h7l4 1l3-1h11l11-2h21l5 1l4-2h9z"/>
<path transform="matrix(-1.1108 0.4088 0 -0.51975 498.2 346.3)" d="M0 0v27h2l1 2l2 10l1 2l1-2l2-7h1l3 4l1-1l3-8h1l1 1l3 9h1l1-2l2-11l3 5l3-1l1 1l1-1l2-5h1l3 8l1-1l2-8l1-1l2 11l1 4l1 1l5-19h1l2 2l1-1l2-5l1 1l2 4l1 1l1-1l3-7l1-1l1 4l3 43l1 7l1 2l1-2l1-7l3-40l1 4l1 2h1l1-3l1 1l2 21l1 8l1 2l1-2l1-6l2-22l1-3h3l1-2l2 10l1 2l2 9l1-2l2-20l1-5l1 2l2 8h1l2-6l1-1l1 2l2 8l2 2h1l2-5l3-4h1l2 2l3-3h4l2-2h1l4 3h1l3-8l2-4l6-3l4 1l4 5l3 10l1 1l4-13l6-4h7l3 1l4-2l10 1l11-2h22h5l4-1h9z"/>
<path transform="matrix(-1.1108 0.4088 0 -0.51975 499.0 346.9)" d="M0 0v27h2l1 2l2 11l1 1l1-1l2-9h1l3 5l1-1l3-7l1-1l1 1l3 9h1l1-2l2-10l2 7l1 2l2-1l2-3l1-1l2-4l1-1l3 8l1-1l2-9l1-1l3 15l1 2l1-3l4-17h1l2 1l1-1l2-4l1 1l2 4h1l1-1l3-6l1-1l1 6l3 49l1 8l1 1l1-1l1-8l3-48l1 4l1 2h1l1-3h1l3 29l1 2l1-2l1-7l2-21l1-2l1 1l2 4l2-2l1 3l2 15l1 3l1-2l2-23l1-7l1 2l2 7h1l2-5l1-1l3 9l3 5l1-1l2-3l2-6l1-1l2 1l3-2h1l2 2l2 3l2-1l2-4l3 1l5-12l5-3l5 1l4 5l3 9l1 1l4-12l5-4h8l3 1l5-2l9 1l5-1l6-1l40-1z"/>
<path transform="matrix(-1.1108 0.4088 0 -0.51975 499.7 347.4)" d="M0 0v27h2l1 2l2 11l1 1l1-1l2-9l1-1l3 5h1l3-7l1-1l1 1l3 8l1 1l1-2l2-9l2 5l1 2h1l1-1l1-2l2-1l2-4l1-1l3 9l1-1l2-10l1-1l3 14l1 2l2-6l3-13l1-1l2 2l1-1l2-4l1 1l2 3l1 1l1-1l3-6l1-1l1 8l3 54l1 9l1 2l1-2l1-9l3-54l1 3l1 2h1l1-3h1l3 29l1 1l1-1l1-7l2-21l1-2h1l2 4l2-1l1 4l2 23l1 2l1-2l2-28l1-9h1l2 7h1l2-3h1l4 10l2 8l1 2l1-1l1-2l3-15h3l2-3l2 1l3 3l4-3l3 2l1-2l4-10l2-2l3-2l5 1l4 6l3 7l1 1l1-1l3-8l3-4l2-2h8l3 1l5-2l8 1l6-2h6l40-1z"/>
<path transform="matrix(-1.1108 0.4088 0 -0.51975 500.5 348.0)" d="M0 0v27h2l1 2l2 11l1 2l1-2l2-9l1-1l3 5h1l3-7l1-1l1 1l3 8l1 1l1-2l2-9l2 4l1 2h1l1-1l1-2l2-1l2-4l1-1l3 9l1-1l2-9l1-2l3 14l1 2l2-5l3-13l1-1l2 1l3-4h1l2 4h1h1l3-6l1-1l1 10l3 60l1 10l1 2l1-2l1-10l3-60l2 3h1l1-3h1l2 22l1 8l1 2l1-2l1-6l2-22l1-4l1 1l2 2l2-1l1 4l2 22l1 3l1-2l2-27l1-8h1l2 6l1 1h2l1 1l4 9l2 14l1 4l1 1l1-2l3-25l1-2l2-2l2-3l4 4l4-2h1l3 7l1-2l1-2l3-12l1-2l3-2l4-1l2 1l3 7l5 6l4-9l3-3l2-2l5 1l3-1l3 1l5-2l7 2l6-2l6-1l41-1z"/>
<path transform="matrix(-1.1108 0.4088 0 -0.51975 501.3 348.6)" d="M0 0v27h2l1 2l2 11l1 2l1-2l2-10l1-1l3 6h1l3-7l1-1h1l3 8l1 1l1-2l2-9l2 4l1 1h1h1l1-2h2l2-5l1-1l3 9h1l2-9l1-2l3 13l1 2l1-1l1-3l3-12l1-2l2 1l3-4h1l2 3l1 1l1-1l3-5l1-1l1 11l3 64l1 10l1 3l1-3l1-10l3-64h1l1 2h1l1-3l1 1l2 24l1 8l1 1l1-1l1-7l2-24l1-4h1l2 2l2-2l1 4l2 21l1 3l1-2l2-25l1-6l1-2l2 7l5 12l1 2h2l3 13h1l1-2l3-22l1-2l2-2l2-3l4 3l2-2h1l1 1l1 3l2 11l1 3l1-1l1-3l3-20l1-3l1-2l2-1l4-1l2 1l3 9l2 3h1l2-1l4-7l5-5l5 1l3-1l3 1l5-2l7 2l8-3l45-1z"/>
<path transform="matrix(-1.1108 0.4088 0 -0.51975 502.1 349.2)" d="M0 0v27h2l1 2l2 11l1 1l1-1l2-10l1-1l1 1l2 6h1l1-2l2-7l1-1l1 1l3 8h1l1-2l2-9l3 5h2l1-2l1 2l1-1l2-4l1-2l3 9l1-1l2-8l1-2l3 12l1 2h1l1-2l3-13l1-2l2 1l3-5l1 1l2 3h1h1l4-6l1 12l3 67l1 11l1 2l1-2l1-11l3-67l1-1l1 2h1l1-3l1 1l2 22l1 8l1 1l1-1l1-7l2-22l1-4h3l1-1h1l2 13l1 10l1 3l1-2l2-18l2-12l2 7l6 13h2l1 2l2 9h1l1-2l3-19l1-2h1l3-6l3 5h1l2-4l1 1l1 1l3 13l1 2l1-1l1-3l3-18l1-4l3-2l4-1l2 1l3 9l2 1h1h2l4-6l4-5h1l5 2l3-2l4 1l4-2l7 2l6-3h5l42-1z"/>
<path transform="matrix(-1.1108 0.4088 0 -0.51975 502.9 349.8)" d="M0 0v27h2l1 2l2 11l1 1l1-1l2-10l1-2l1 2l2 8h1l1-2l2-8l1-2l1 1l3 8h1l1-2l2-10l3 5l2-1l2 3h1l3-7l1 1l2 6l1-1l2-8l1-2l1 3l3 13h1l1-1l1-3l2-10l1-3h2l3-4h1l2 3h2l4-6l1 13l3 70l1 12l1 2l1-2l1-12l3-70l1-2l1 2h1l1-3h1l3 29l1 2l1-2l1-7l2-21l1-3l3-1l1-1l3 22l1 3l1 1l1-1l1-4l3-23h1l1 3l4 8l2 4l2 1l1 2l2 7h1l1-2l3-18l1-2h1l2-4h1l2 6l1 1l1-1l2-5l1 1l4 14l1 1l1-2l1-4l3-16l1-3l3-2h5h1l3 8l2 1h3l5-5l3-4l5 2h2l2-2h4l4-1l7 1l7-3l46-1z"/>
<path transform="matrix(-1.1108 0.4088 0 -0.51975 503.7 350.3)" d="M0 0v27h2l1 2l2 11l1 1l1-1l2-10l1-2l1 3l2 10l1 1l1-3l2-11l1-2l1 1l3 8h1l1-3l2-9l2 3l3 2l1 3l1 2l1-1l3-9l1 1l2 5h1l2-8l1-2l1 3l3 14l1 2h1l1-2l2-13l1-4h2l1-1l2-4h1l2 3l2-1l4-5l1 14l3 73l1 12l1 3l1-3l1-12l3-73l1-3l1 2h1l1-3h1l3 27l1 2l1-1l1-7l2-20l1-3l3-2l1-1l3 21l1 3l1 1l1-1l1-4l3-22l1 1l2 4l3 5l2 5l1 1l1-1l1 2l2 6l1-1l1-2l3-16l2-1l2-4h1l2 9l1 2l1-1l2-8l1 1l3 12l1 3h1l1-3l4-20l1-2l2-1l6-1h1l3 7l2 2l3-1l5-4l3-4l3 4l2 1l2-1l3-4l3 1l4-2h6l14-2h13l7 1l5-1l15-1z"/>
<path transform="matrix(-1.1108 0.4088 0 -0.51975 504.4 350.9)" d="M0 0v27h2l1 3l2 11l1 1l1-2l2-10l1-2l1 2l2 11l1 1l1-3l2-11l1-2h1l3 9h1l1-2l2-11l2 3l2 1l2 8l1 1h1l1-3l2-8h1l2 5h1l2-8l1-2l1 2l3 17l1 3l1 1l1-1l3-20h2l1-1l2-6h1l2 2l1 1l1-1l4-5l1 15l3 76l1 13l1 2l1-2l1-13l3-76l1-3l1 1h1l1-3h1l3 26l1 2l1-1l1-7l2-19l1-3l4-4l3 20l1 3h1h1l1-4l3-20h1l2 4l2 2l3 7l1 1l1-1l1 1l2 5h1l1-2l3-14l2-1l2-4h1l2 9l1 1l1-1l2-6l1 2l2 10l1 4l1 2l1-1l1-4l3-17l1-4l2-2l8-1l3 7l3 1h2l7-7h1l3 7l2 2l2-2l3-8l3 1l4-2h4l16-2h13l7 1l6-2h14z"/>
<path transform="matrix(-1.1108 0.4088 0 -0.51975 505.2 351.5)" d="M0 0v27h2l1 3l2 12l1 2l1-2l2-12l1-2l1 2l2 12l1 1l1-2l2-13l1-2h1l3 11h1l1-3l2-12l1 1l3 3l2 9l1 1h1l1-3l2-8l1-1l2 5h1l2-7l1-3l1 2l4 20l1 1l1-2l3-19h2l1-2l2-5h1l2 2l1 1l1-1l4-5l1 16l3 79l1 13l1 3l1-3l1-13l3-79l1-4l1 1h1l1-3h1l3 27l1 2l1-1l1-7l2-20l1-3l4-4l3 17l1 3l1 1l1-1l1-3l3-19h1l2 4l2 2l3 6l3 1l2 4h1l1-1l3-12l4-6l1 1l2 8l1 1l1-1l2-6l1 3l2 11l1 3l1 2l1-2l1-4l3-17l1-3l2-2l7-1h1l3 6l3 1h2l3-4l4-3l1 2l3 12l1 2h1l1-1l1-2l3-11l1-1l5-2l24-2h11l6 1l6-1l14-1z"/>
<path transform="matrix(-1.1108 0.4088 0 -0.51975 506.0 352.1)" d="M0 0v27l2 1l1 2l2 13l1 1l1-2l2-12l1-2l1 3l2 13l1 1l1-2l2-14l1-3l1 1l3 12h1l1-3l2-13l1-1l3 3l2 8l1 2l1-1l1-2l2-8h1l2 5l1 1l3-10l1 2l4 19l1 1l1-2l3-19l2-1l1-1l2-5h1l2 2h1l5-4l1 16l3 82l1 14l1 3l1-3l1-14l3-82l1-5l1 1h1l1-2h1l2 22l1 7l1 2l1-1l1-7l2-23l1-3l4-5l3 16l1 3h1h1l1-3l3-18l3 4l2 1l3 6l3 1l2 4l1 1h1l3-10l4-8h1l2 8l1 1l1-1l2-6l1 2l2 11l1 3l1 1l1-1l4-20l2-4l4-1h4h1l3 6l3 1l2-1l3-3l4-2l1 3l3 17l1 3l1 1l1-1l1-3l3-17l1-4l4-1h5l4-1l13-1h14l6 2l6-2l14-1z"/>
<path transform="matrix(-1.1108 0.4088 0 -0.51975 506.8 352.7)" d="M0 0v27l2 1l1 3l2 13l1 2l1-2l2-13l1-3l1 4l2 15l1 1l1-2l2-17l1-3l1 1l3 11h1l1-3l2-13l1-1l3 3l2 7l1 1h1l1-2l2-7l1 1l2 7h1l3-9l1 1l3 13l1 4l1 1l1-2l3-18l2-1l1-2l2-4h1l2 2h1l5-3l1 14l3 80l1 13l1 3l1-3l1-13l3-80l1-4l1 2l1-1l1-2l1 1l2 25l1 7l1 2l1-1l1-7l2-25l1-5l4-5l3 14l1 3h1l1-1l1-2l3-16l2 3l4 3l2 3l3 1l3 9l1 2l1-2l1-3l3-12l2-5h1l2 7l1 1l1-1l2-6l1 2l2 10l1 3l1 1l1-2l4-18l2-3l4-1h4h1l3 5l4 1h1l3-4l3-1h1l1 5l3 23l1 4l1 1l1-1l1-4l3-23l1-5l1-1l3-1h5l4-1l16-1h12l6 2l5-2l14-1z"/>
<path transform="matrix(-1.1108 0.4088 0 -0.51975 507.6 353.3)" d="M0 0v27l2 1l1 4l2 16l1 2l1-2l2-17l1-3l1 3l2 14l1 2l1-3l2-15l1-3l1 1l3 11h1l1-4l2-12l1-1l1 1h2l2 7l1 1h1l3-7l1 1l2 9l1 2l1-2l2-7l1-1l1 2l3 11l1 1l1-2l3-16l2-1l3-6l4 2l5-3l1 13l3 77l1 13l1 2l1-2l1-13l3-77l1-2l1 1h1l1-3l1 2l2 27l1 6l1 1l1-1l1-6l2-27l1-5l4-6l3 13l1 2l1 1l1-1l1-2l3-14l2 5h1l2-1l1 1l2 3l3 1l4 20h1l1-3l3-20l2-7h1l2 6l1 1l1-1l2-6l1 2l2 9l1 3h1l1-1l4-16l2-3l4-1h4h1l3 5h5l3-3l3-1h1l1 5l3 22l1 3l1 1l1-1l1-3l3-23l1-4l1-1l3-1l4 1l5-2l25-1h4l3 2l2 1l5-3l14-1z"/>
<path transform="matrix(-1.1108 0.4088 0 -0.51975 508.4 353.8)" d="M0 0v27l2 1l1 4l2 18l1 2l1-2l2-18l1-4l1 3l2 13l1 1l1-2l2-14l1-3l1 1l3 11h1l1-4l2-12l1-2l3 2l3 7h1l3-7l1 2l2 12l1 3l1-1l2-8l1-1h1l1 1l2 6l1 1l1-1l3-16l2-1l3-6l4 3l5-4l1 13l3 74l1 13l1 2l1-2l1-13l3-74l1-1l1 2h1l1-3l1 1l2 26l1 6l1 1l1-1l1-6l2-26l1-5l4-6l1 3l2 8l1 2l1 1l1-1l1-2l2-9l1-1l2 5h1l2-3h1l3 4l1 1l1 1l1 6l2 18l1 4h1l1-1l1-6l2-22l1-7l1-3h1l2 5l1 1l1-1l2-5l1 1l2 8l1 3l1 1l1-2l4-15l2-2l4-1h4h1l3 5h5l4-4l2-1l1 1l1 4l3 21l1 3l1 1l1-1l1-3l3-21l1-4l1-2h3l4 1l5-2h5l11-1h12l6 3l5-3l14-1z"/>
<path transform="matrix(-1.1108 0.4088 0 -0.51975 509.1 354.4)" d="M0 0v27l2 1l1 4l2 16l1 2l1-2l2-17l1-3l1 2l2 12l1 2l1-3l2-13l1-2l1 1l3 12h1l1-3l2-14l1-2l3 1l3 8h1l3-7l1 2l2 11l1 3l1-1l2-8l1-1l1-1l1 2l2 6l1 1l1-2l3-14l2-1l3-6l4 3h1l4-4l1 13l3 71l1 12l1 2l1-2l1-12l3-71l2 2h1l1-3h1l2 25l1 7l1 1l1-1l1-6l2-26l1-5l4-6l1 2l2 8l2 3h1l3-12l1 2l1 5l1 3l1-1l2-6l1-1l1 1l2 4l2 3l1 5l2 14l1 5h1l1-1l1-6l2-20l1-6l1-3l1-1l2 5h1l1-1l2-5l1 2l2 7l1 2l1 1l1-1l4-14l2-2l4-2h4l1 1l3 5h3l2 1l4-4l2-1h1l1 4l3 19l1 3h1h1l1-3l3-20l1-4h1l3-1l3 1l6-3h16h12l6 2l6-2l13-1z"/>
<path transform="matrix(-1.1108 0.4088 0 -0.51975 509.9 355.0)" d="M0 0v27l2 1l1 3l2 15l1 2l1-2l2-15l1-3l1 2l2 11l1 1l1-2l2-12l1-2l1 1l3 11h1l1-4l2-12l1-2h3l3 9h1l1-1l2-6l1 2l2 10l1 3l1-1l2-8l1-2h1l1 2l2 5l1 1l1-1l2-11l1-3l2-1l3-5l3 4l2-1l4-5l1 12l3 67l1 11l1 3l1-3l1-11l3-67l1 5l1 2l1-1l1-3l1-1l2 23l1 7l1 2l1-2l1-6l2-25l1-5l4-5h1l2 7l2 5l1-1l3-11l2 9l1 2h1l2-8l1-2l1 2l3 10l2 5l3 13h1l1-1l1-6l2-17l1-6l1-2l1-1l2 3l1 1l3-6l1 1l2 7l1 2l1 1l1-1l4-13l2-2l3-1l5-1l1 1l3 5h3l2 2l2-2l2-3l3-1l1 3l3 18l1 2l1 1l1-1l1-3l3-17l1-4h1l6 1l6-4h16h12l6 2l6-2l13-1z"/>
<path transform="matrix(-1.1108 0.4088 0 -0.51975 510.7 355.6)" d="M0 0v27l2 1l1 3l2 13l1 2l1-2l2-13l1-2l1 1l2 10h1l1-2l2-10l1-2l1 1l3 10l1-1l1-3l2-12l1-2l3 1l3 11h1l1-2l2-6l1 1l2 10l1 2l1-1l2-8l1-2l1 1l1 1l2 5h1l1-1l2-10l1-3h2l3-4l3 3h2l4-6l1 10l3 61l1 10l1 2l1-2l1-10l3-57l1 6l1 2h1l1-5l1-2l1 7l1 13l1 7l1 2l1-1l1-7l2-24l1-4l5-5l4 12h1l2-10l1-2l2 7l1 3l1-1l2-7l1-1l1 1l3 12l3 5l2 8l1 1l1-1l3-20l2-6l1-1l2 2l1-1l3-6l1 2l3 8l1 1h1l3-10l2-4l5-3h4l1 1l2 4l1 2l3-1l2 4h1l1-1l2-5l3-3l1 4l3 16l1 2l1 1l1-1l1-3l3-16l1-3l6 1l7-4h16l5 1l7-1l6 2l6-2l13-1z"/>
<path transform="matrix(-1.1108 0.4088 0 -0.51975 511.5 356.2)" d="M0 0v27h2l1 3l2 13l1 2l1-2l2-11l1-3l1 2l2 8h1l1-2l2-9l1-2l1 1l3 9l1-1l1-3l2-11l1-2l3 1l3 13h1l1-2l2-7l1 1l2 9l1 2l1-2l2-8l1-1l2 1l2 5h1l1-1l2-9l1-3l2-1l3-3l3 4h2l4-7l1 8l3 55l1 9l1 2l1-2l1-9l2-38l1-10l1 7l1 3l1-1l2-8l1 6l1 12l1 7l1 1l1-1l1-7l2-22l1-4l3-1l2-2h1l3 11l1-1l2-9l1-3l3 8h1l2-6l1-1l1 1l3 10l3 5l2 7l1 1l1-2l3-15l2-5l1-1l2 1l4-8l1 1l3 8l1 2l1-1l5-13l5-3h4l1 1l2 5l1 2l3-2l2 5l1 1l1-2l2-6l3-3l1 3l3 15l1 2l1 1l1-1l1-2l3-15l1-3l6 2l7-5h16l5 1l6-1l7 2l6-2l13-1z"/>
<path transform="matrix(-1.1108 0.4088 0 -0.51975 512.3 356.7)" d="M0 0v27h2l1 3l2 12l1 2l1-1l2-10l1-3l1 1l2 7h1l1-2l2-8l1-2l1 1l3 8l1-1l1-3l2-10l1-2l3 1l3 13h1l1-2l2-7l1 2l2 9l1 1l1-2l2-9l1-1l1 1l3 5h1l1-2l2-8l1-3h2l3-3l3 5h2l4-8l1 6l3 51l1 9l1 1l1-1l1-9l2-34l1-5l1 8l1 3h1l2-10l1 5l2 15l1 1l1-1l3-28l1-2h1l2 2l3-3l1 2l2 6h1l3-13l1 2l1 3l1 2h1l2-6h1l1 1l3 8l3 4l2 6l1 1l1-1l2-9l2-6l2-3h2l1-1l3-6l1 1l3 7l1 2l1-1l5-12l5-3h4l1 1l2 5l1 1l3-1l2 7l1 1l1-1l2-8l3-3l1 2l3 13l1 2l1 1l1-1l1-2l3-14l1-2l5 1l8-4h16l5 1l7-1l6 2l6-2l13-1z"/>
<path transform="matrix(-1.1108 0.4088 0 -0.51975 513.1 357.3)" d="M0 0v27h2l1 3l2 12l1 2h1l2-10l1-2l1 1l2 4h1l1-2l2-7l1-1l1 1l3 6l1-1l1-3l2-10l1-2l2 1l1 1l3 12l1 1l1-2l2-7l1 3l2 10l1 1l3-13l1-1l3 5l1 1l2-2l2-9l1-2h2l3-3l3 6h1h1l4-9l1 6l3 48l1 8l1 1l1-1l1-8l2-33l1-4l1 8l1 5l1 1l2-7l1 3l2 11l1 1l1-2l3-26l1-2l1 1l2 7h1l2-5h1l2 5h1l3-14l1 1l2 5h1l2-5h1l1 1l3 7l3 2l2 6l1 1l1-1l2-7l2-5l2-3h2l1-2l3-6l1 1l3 7l1 1h1l3-8l2-3l5-3h4l1 1l2 5l1 1l3-1l2 6l1 1l1-1l2-6l3-4l1 1l3 12l1 2l1 1l1-1l1-2l3-12l1-2l2 1h4l6-4h2h16l4 1l7-1l6 1l6-2h13z"/>
<path transform="matrix(-1.1108 0.4088 0 -0.51975 513.9 357.9)" d="M0 0v27h2l1 2l2 11l1 3h1l2-8l1-2h1l2 3h1l1-2l2-6h1l4 6l1-1l1-3l2-10l1-2l2 1l1 1l3 12h1l1-2l1-3l1-2l3 15h1l3-16l1 1l3 5h1l2-3l2-8l1-2h2l3-3l3 7l1 1l1-1l4-9l1 6l3 54l1 9l1 1l1-1l1-9l2-36l1-9l1 8l1 4l1 1l2-7l1 3l2 12h1l1-2l3-24l1-2l1 1l2 6l1-1l2-4h1l2 6h1l3-14l1 1l2 4h1l2-4h1l1 1l3 6l3 2l2 4l1 1l1-1l3-7l3-5l3-2l3-6l1 1l3 6l1 1l1-1l3-6l2-3l5-3h4l4 6l3-1l2 6l1 1h1l2-6l3-4l1 1l3 11l1 2h1l1-1l1-1l3-11l1-2l3 1l11-4h16l4 2l6-2l7 1l6-2h13z"/>
<path transform="matrix(-1.1108 0.4088 0 -0.51975 514.6 358.5)" d="M0 0v27h2l1 2l2 10l1 3h1l2-8l1-1h1l2 3l1-1l1-1l2-5h1l4 4l1-1l1-3l2-9l1-2h2l1 2l3 11h1l2-4l1-1l2 15l1 4l1-1l3-20h1l3 6h1l2-4l2-8l1-2h2l3-2l3 6l2 1l4-9l1 10l3 64l1 11l1 2l1-2l1-11l3-60l1 7l1 4l1 1l2-6l1 3l2 11l1 1l1-2l3-23l1-2l1 1l2 4h1l2-4h1l2 7h1l3-14h1l2 4h1l2-3h1l1 1l3 5l3 2l2 4h1l1-1l2-4l2-2l2-4l3-3l3-5l1 1l2 4l2 2l1-1l4-8l7-3h3l4 6l3-1l2 5l1 1h1l2-5l3-3h1l3 9l1 2h1h1l1-2l3-10l1-1l3 1l9-4h18l4 2l6-2h7l19-1z"/>
<path transform="matrix(-1.1108 0.4088 0 -0.51975 515.4 359.1)" d="M0 0v27h2l1 2l2 9l1 3h1l2-7l1-1h1l2 2l2-1l2-3l1-1l3 3h1l2-4l2-9l1-2h2l1 1l3 11l1 1l2-5l1 1l2 15l1 4l1-1l3-22h1l3 6h1l2-3l2-8l1-2h2l3-2l3 6l2 1l4-9l1 14l3 76l1 12l1 3l1-3l1-12l3-76l1 6l1 3l1 1l2-5l1 3l2 11h1l1-2l3-21l1-2h1l2 4l3-4l1 1l2 9h1l1-4l2-11l1-1l2 4h1l2-3h1l1 1l3 6l5 5l2-2l2-5l2-1l3-5l2-2l3-4l1 1l2 3l2 2l1-1l4-7l7-3h3l1 1l2 4l1 1l3-1l2 4l1 1h1l2-4l3-4h1l3 9l1 1l1 1l1-1l1-1l3-9h4l9-4h18l4 3l6-3l26-1z"/>
<path transform="matrix(-1.1108 0.4088 0 -0.51975 516.2 359.6)" d="M0 0v27h2l1 2l2 9l1 2h1l2-6l1-1l3 2l5-3l3 2l1-1l2-5l2-8l1-2h2l1 1l3 11h1l2-4h1l2 16l1 4l1-1l3-22h1l3 5h1l2-2l2-8l1-2h2l3-2l3 6l2 1l4-9l1 19l3 89l1 15l1 3l1-3l1-15l3-89h1l1 3h1l2-5l1 3l2 11h1l1-1l3-20l1-2h1l2 3l3-4l1 3l2 11l1 1l1-4l2-13l1-3l2 3l1 1l2-2h1l2 2l4 10l1 1l2 1l4-11l2-1l2-4l3-2l3-4l3 4l2 1h1l4-7l7-3h3l1 1l3 5l3-1l2 4l1 1l1-1l2-4l3-3h1l3 8l2 1l2-1l3-9l3 1l10-4h18l4 3l4-3h2l26-1z"/>
<path transform="matrix(-1.1108 0.4088 0 -0.51975 517.0 360.2)" d="M0 0v27h2l1 2l2 8l1 3h1l2-5l1-1h3l5-2l2 1h2l2-5l2-8l1-2h2l1 1l3 10l1 1l2-4l1 1l2 16l1 4h1l3-24l1-1l3 6l1 1l2-3l2-8l1-2h2l3-2l3 8h1h1l1-2l2-6h1l1 21l3 103l1 17l1 4l1-4l1-17l3-103l1-6l1 3h1l2-5l1 2l2 10l1 1l1-1l3-18l1-1l3 2l2-3h1l3 19l1 1l1-4l2-16l1-4l3 3l2-2l2 2l2 5l3 13l1 2l1 1l1-1l3-17l1-3l2-1l2-3l3-3l3-4l3 5l2 1l1-1l4-6l6-3h4l1 1l3 6h1l2-1l3 3l1-1l2-4l4-2l3 7l2 1l2-1l3-8l3 1l10-4h18l4 3l5-3l27-1z"/>
<path transform="matrix(-1.1108 0.4088 0 -0.51975 517.8 360.8)" d="M0 0v27h2l1 2l2 8l1 3h1l2-5l1-1h3l4-2l4 1l1-1l2-4l2-8l1-2h2l1 1l3 10h1l2-2l1 1l2 15l1 4l1-1l3-23l1-2l4 8h1l1-2l2-8l1-3l5-1l3 9l1 1h1l1-3l2-7l1 1l1 23l3 115l1 19l1 4l1-4l1-19l3-115l1-11l1 3h1l2-6l1 2l2 9l1 1l1-1l3-15l1-2l3 2l2-3h1l3 18l1 1l1-3l2-16l1-4l3 4l2-1l2 2l1 2l4 17h1l2-3l3-16l1-2l2-1l8-9l3 4l2 1h1l4-6l6-3h4l1 1l3 9h1l2-3l3 2l1-1l2-4l4-3l3 7l2 1l2-1l3-7h3l10-3l18 1l4 2l5-3l27-1z"/>
<path transform="matrix(-1.1108 0.4088 0 -0.51975 518.6 361.4)" d="M0 0v25h2l1 1l2 9l1 2l1 1l2-5l1-2h3l4-2l4 2l1-1l2-4l2-8l1-1l2-1l1 2l3 9l1 2h2l1 2l2 14l1 3l1-1l3-26l1-1l4 9h1l1-1l3-12l5-2l3 9l1 1h1l1-3l2-7l1 3l1 26l3 126l1 21l1 4l1-4l1-21l3-126l1-16l1 2h1l2-7l1 2l2 8l1 1l1-1l3-13l1-1l3 1l2-2l4 17l1 1l1-3l2-15l1-4l3 5l3 1l1 1l1 4l2 12l1 3l1 2l3-10l3-14l1-1h2l8-9l3 4l2 1l5-6l6-3h4l1 1l3 12l1 1l3-5l2 1l1-2l2-5l3-2h1l3 6l2 1l2-2l3-5h3l10-3h18l4 3l5-3l27-1z"/>
<path transform="matrix(-1.1108 0.4088 0 -0.51975 519.3 362.0)" d="M0 0v22h2l1 2l2 8l1 3h1l2-6l1-1l3 1l5-2l3 2h1l2-4l2-8l1-2h2l1 1l3 10l1 2l2-1l1 2l2 14l1 4l1-1l3-26l1-2l2 5l2 7l1 1l1-1l3-14l2-1l3-2l3 8l1 1h1l1-3l2-7l1 6l1 27l3 133l1 22l1 4l1-4l1-22l3-133l1-20l1 2h1l2-7l1 1l2 8l1 1l1-1l3-11l1-1l3 1l1-2l1 4l2 14l1 4h1l1-1l1-3l3-21l3 5l3 1l1 2l1 5l2 17l1 2h1l3-17l3-12l1-1h2l4-4l3-4h1l3 4h2l5-6l6-2h4l1 1l3 11l1 1l2-3h1l1 3h1l1-1l2-8l3-3h1l3 5l2 1l2-1l3-6h4l9-2h18l4 3l5-3l27-1z"/>
<path transform="matrix(-1.1108 0.4088 0 -0.51975 520.1 362.6)" d="M0 0v20h2l1 2l2 8l1 3h1l2-7l1-1l3 1l5-1l3 3l1 1l2-5l2-8l1-2l2-1l1 2l3 11l1 2l1-1l1-1l1 1l2 14l1 4l1-1l1-6l2-19l1-2l1 1l3 14l1 2l1-1l3-17l3-1l2-3l3 7l1 1h1l1-3l2-6l1 8l1 29l3 138l1 23l1 5l1-5l1-23l3-138l1-24l1 1h1l2-7l1 1l2 7l1 1h1l3-10h3l2-2l3 30l1 4l1 1l1-1l1-5l3-29l1-2l2 4l3 2l1 1l1 5l2 16l1 2l1-1l3-18l3-10h1h2h1l3-3l3-4l1-1l3 4l2 1l5-6l6-2l4-1l1 1l3 10l1 1l2-2h1l1 3l1 1l1-1l2-7l1-2l2-3h1l3 5l2 1l2-1l3-5h4l9-2h18l4 2l5-2l27-1z"/>
<path transform="matrix(-1.1108 0.4088 0 -0.51975 520.9 363.1)" d="M0 0v18h2l1 1l2 9l1 2l1-1l2-6l1-1l3 1l5 1l4 6l1-1l1-3l2-11l1-3l1-1l1 1l1 1l3 11l1 1l2-2l1 1l2 15l1 4h1l1-6l2-19l1-3l1 2l1 3l2 11l1 4l1-1l1-5l2-14l3-2l2-2l3 6l1 1h1l3-9l1 11l1 30l3 145l1 24l1 5l1-5l1-24l3-145l1-28l1 2l1-1l2-6h1l2 6l1 1h1l3-8h3l2-2l3 28l1 4l1 1l1-1l1-5l3-27l1-2l2 3l3 2l1 1l1 5l2 15l1 2l1-1l3-18l3-8l1-1l2 2l1-1l3-2l3-5h1l3 4l2 1l5-6l6-3h4l1 1l3 9l1 1l2-2l1 1l2 5h1l4-11l2-3l3 4l2 1l2-1l3-4l4 1l10-3h17l4 2l5-3h27z"/>
<path transform="matrix(-1.1108 0.4088 0 -0.51975 521.7 363.7)" d="M0 0v15h2l1 2l2 8l1 2l1-1l2-6l1-1l3 2h5l4 6l1-1l1-3l2-10l1-2l1-1h1l1 2l3 10l1 1l2-2h1l3 19h1l1-6l2-18l1-2l1 1l1 4l2 10l1 3h1l1-5l2-13l3-2l2-3l3 6l1 1h1l3-8l1 12l1 29l3 142l1 24l1 5l1-5l1-24l3-142l1-28l1 1h1l2-7h1l2 6l2 1l3-7h3l2-2l3 25l1 5h1l1-1l1-4l3-26l1-1l2 3l3 1l1 2l1 4l2 14l1 2l1-1l2-14l1-4l2-5l1-2l3 1h1l3-2l3-4l1-1l3 4l2 1l5-6l6-2h4l1 1l3 8h1l2-1l1 1l2 4l1-1l4-9l2-3l3 4l2 1l2-1l3-4l4 2l10-3h16l5 2l5-3h27z"/>
</g>
<path d="M57.4 327.5 L253.4 472.9 L531.1 370.7 M57.4 327.5 L57.4 119.6 M531.1 370.7 L531.1 162.8 M57.4 327.5 l-6.6 -4.7 M57.4 275.5 l-6.6 -4.7 M57.4 223.6 l-6.6 -4.7 M57.4 171.6 l-6.6 -4.7 M57.4 119.6 l-6.6 -4.7 M253.4 472.9 l-7.6 2.8 M214.2 443.8 l-7.6 2.8 M175.0 414.7 l-7.6 2.8 M135.8 385.7 l-7.6 2.8 M96.6 356.6 l-7.6 2.8 M57.4 327.5 l-7.6 2.8 M531.1 370.7 l6.6 4.9 M475.6 391.1 l6.6 4.9 M420.0 411.6 l6.6 4.9 M364.5 432.0 l6.6 4.9 M308.9 452.5 l6.6 4.9 M253.4 472.9 l6.6 4.9" fill="none" stroke="#4d4d4d" stroke-width="0.7"/>
<text class="tk" text-anchor="end" x="48.4" y="326.6">0</text>
<text class="tk" text-anchor="end" x="48.4" y="274.6">0.05</text>
<text class="tk" text-anchor="end" x="48.4" y="222.7">0.1</text>
<text class="tk" text-anchor="end" x="48.4" y="170.7">0.15</text>
<text class="tk" text-anchor="end" x="48.4" y="118.7">0.2</text>
<text class="tk" text-anchor="end" x="242.3" y="489.7">0</text>
<text class="tk" text-anchor="end" x="203.6" y="462.4">20</text>
<text class="tk" text-anchor="end" x="164.4" y="433.3">40</text>
<text class="tk" text-anchor="end" x="125.2" y="404.3">60</text>
<text class="tk" text-anchor="end" x="86.0" y="375.2">80</text>
<text class="tk" text-anchor="end" x="46.8" y="346.1">100</text>
<text class="tk" x="541.4" y="391.0">0</text>
<text class="tk" x="485.9" y="411.4">100</text>
<text class="tk" x="430.3" y="431.9">200</text>
<text class="tk" x="374.8" y="452.3">300</text>
<text class="tk" x="319.2" y="472.8">400</text>
<text class="tk" x="263.7" y="493.2">500</text>
<text class="lb" x="106.8" y="473.9">Time (s)</text>
<text class="lb" x="366.8" y="484.9">Frequency (Hz)</text>
<text class="lb" text-anchor="middle" transform="translate(14.6 223.5) rotate(-90)">Energy spectral density</text>
<text class="ti" text-anchor="middle" x="294.5" y="14.5">Time-Frequency diagram of Axial acceleration</text>
</svg></body></html>
